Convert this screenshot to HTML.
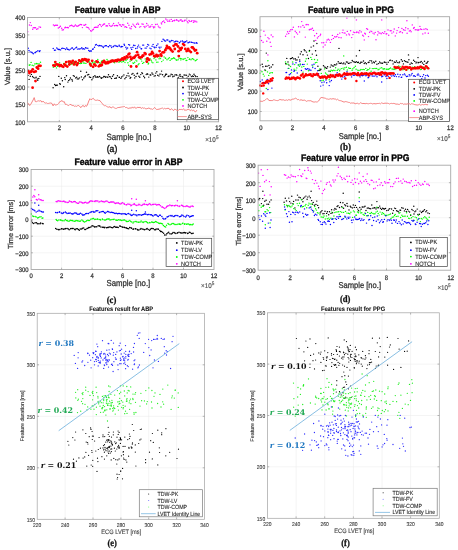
<!DOCTYPE html>
<html><head><meta charset="utf-8"><title>Feature value figure</title>
<style>html,body{margin:0;padding:0;background:#fff;}svg{display:block;filter:blur(0.3px);}text{text-rendering:geometricPrecision;}</style>
</head><body>
<svg width="458" height="550" viewBox="0 0 458 550">
<rect width="458" height="550" fill="#fff"/>
<line x1="59.3" y1="17.5" x2="59.3" y2="121.8" stroke="#ebebeb" stroke-width="0.55"/>
<line x1="91.2" y1="17.5" x2="91.2" y2="121.8" stroke="#ebebeb" stroke-width="0.55"/>
<line x1="123" y1="17.5" x2="123" y2="121.8" stroke="#ebebeb" stroke-width="0.55"/>
<line x1="154.9" y1="17.5" x2="154.9" y2="121.8" stroke="#ebebeb" stroke-width="0.55"/>
<line x1="186.8" y1="17.5" x2="186.8" y2="121.8" stroke="#ebebeb" stroke-width="0.55"/>
<line x1="291.6" y1="16.7" x2="291.6" y2="120.8" stroke="#ebebeb" stroke-width="0.55"/>
<line x1="323.2" y1="16.7" x2="323.2" y2="120.8" stroke="#ebebeb" stroke-width="0.55"/>
<line x1="354.8" y1="16.7" x2="354.8" y2="120.8" stroke="#ebebeb" stroke-width="0.55"/>
<line x1="386.4" y1="16.7" x2="386.4" y2="120.8" stroke="#ebebeb" stroke-width="0.55"/>
<line x1="418" y1="16.7" x2="418" y2="120.8" stroke="#ebebeb" stroke-width="0.55"/>
<line x1="61.6" y1="169.5" x2="61.6" y2="269.5" stroke="#ebebeb" stroke-width="0.55"/>
<line x1="92.1" y1="169.5" x2="92.1" y2="269.5" stroke="#ebebeb" stroke-width="0.55"/>
<line x1="122.6" y1="169.5" x2="122.6" y2="269.5" stroke="#ebebeb" stroke-width="0.55"/>
<line x1="153" y1="169.5" x2="153" y2="269.5" stroke="#ebebeb" stroke-width="0.55"/>
<line x1="183.5" y1="169.5" x2="183.5" y2="269.5" stroke="#ebebeb" stroke-width="0.55"/>
<line x1="290.2" y1="165.2" x2="290.2" y2="270.2" stroke="#ebebeb" stroke-width="0.55"/>
<line x1="322.3" y1="165.2" x2="322.3" y2="270.2" stroke="#ebebeb" stroke-width="0.55"/>
<line x1="354.4" y1="165.2" x2="354.4" y2="270.2" stroke="#ebebeb" stroke-width="0.55"/>
<line x1="386.5" y1="165.2" x2="386.5" y2="270.2" stroke="#ebebeb" stroke-width="0.55"/>
<line x1="418.6" y1="165.2" x2="418.6" y2="270.2" stroke="#ebebeb" stroke-width="0.55"/>
<line x1="27.5" y1="104.4" x2="218.6" y2="104.4" stroke="#ebebeb" stroke-width="0.55"/>
<line x1="27.5" y1="87" x2="218.6" y2="87" stroke="#ebebeb" stroke-width="0.55"/>
<line x1="27.5" y1="69.7" x2="218.6" y2="69.7" stroke="#ebebeb" stroke-width="0.55"/>
<line x1="27.5" y1="52.3" x2="218.6" y2="52.3" stroke="#ebebeb" stroke-width="0.55"/>
<line x1="27.5" y1="34.9" x2="218.6" y2="34.9" stroke="#ebebeb" stroke-width="0.55"/>
<line x1="260" y1="111.5" x2="449.6" y2="111.5" stroke="#ebebeb" stroke-width="0.55"/>
<line x1="260" y1="91.2" x2="449.6" y2="91.2" stroke="#ebebeb" stroke-width="0.55"/>
<line x1="260" y1="70.8" x2="449.6" y2="70.8" stroke="#ebebeb" stroke-width="0.55"/>
<line x1="260" y1="50.5" x2="449.6" y2="50.5" stroke="#ebebeb" stroke-width="0.55"/>
<line x1="260" y1="30.1" x2="449.6" y2="30.1" stroke="#ebebeb" stroke-width="0.55"/>
<line x1="31.1" y1="252.8" x2="214" y2="252.8" stroke="#ebebeb" stroke-width="0.55"/>
<line x1="31.1" y1="236.2" x2="214" y2="236.2" stroke="#ebebeb" stroke-width="0.55"/>
<line x1="31.1" y1="219.5" x2="214" y2="219.5" stroke="#ebebeb" stroke-width="0.55"/>
<line x1="31.1" y1="202.8" x2="214" y2="202.8" stroke="#ebebeb" stroke-width="0.55"/>
<line x1="31.1" y1="186.2" x2="214" y2="186.2" stroke="#ebebeb" stroke-width="0.55"/>
<line x1="258.1" y1="252.7" x2="450.7" y2="252.7" stroke="#ebebeb" stroke-width="0.55"/>
<line x1="258.1" y1="235.2" x2="450.7" y2="235.2" stroke="#ebebeb" stroke-width="0.55"/>
<line x1="258.1" y1="217.7" x2="450.7" y2="217.7" stroke="#ebebeb" stroke-width="0.55"/>
<line x1="258.1" y1="200.2" x2="450.7" y2="200.2" stroke="#ebebeb" stroke-width="0.55"/>
<line x1="258.1" y1="182.7" x2="450.7" y2="182.7" stroke="#ebebeb" stroke-width="0.55"/>
<line x1="65.1" y1="313.3" x2="65.1" y2="519.3" stroke="#ebebeb" stroke-width="0.55"/>
<line x1="93" y1="313.3" x2="93" y2="519.3" stroke="#ebebeb" stroke-width="0.55"/>
<line x1="120.9" y1="313.3" x2="120.9" y2="519.3" stroke="#ebebeb" stroke-width="0.55"/>
<line x1="148.7" y1="313.3" x2="148.7" y2="519.3" stroke="#ebebeb" stroke-width="0.55"/>
<line x1="176.6" y1="313.3" x2="176.6" y2="519.3" stroke="#ebebeb" stroke-width="0.55"/>
<line x1="37.2" y1="467.8" x2="204.5" y2="467.8" stroke="#ebebeb" stroke-width="0.55"/>
<line x1="37.2" y1="416.3" x2="204.5" y2="416.3" stroke="#ebebeb" stroke-width="0.55"/>
<line x1="37.2" y1="364.8" x2="204.5" y2="364.8" stroke="#ebebeb" stroke-width="0.55"/>
<line x1="296.1" y1="312.8" x2="296.1" y2="518.2" stroke="#ebebeb" stroke-width="0.55"/>
<line x1="324.7" y1="312.8" x2="324.7" y2="518.2" stroke="#ebebeb" stroke-width="0.55"/>
<line x1="353.4" y1="312.8" x2="353.4" y2="518.2" stroke="#ebebeb" stroke-width="0.55"/>
<line x1="382" y1="312.8" x2="382" y2="518.2" stroke="#ebebeb" stroke-width="0.55"/>
<line x1="410.6" y1="312.8" x2="410.6" y2="518.2" stroke="#ebebeb" stroke-width="0.55"/>
<line x1="267.4" y1="466.8" x2="439.3" y2="466.8" stroke="#ebebeb" stroke-width="0.55"/>
<line x1="267.4" y1="415.5" x2="439.3" y2="415.5" stroke="#ebebeb" stroke-width="0.55"/>
<line x1="267.4" y1="364.1" x2="439.3" y2="364.1" stroke="#ebebeb" stroke-width="0.55"/>
<g fill="#000000"><circle cx="28" cy="75.4" r="0.72"/><circle cx="29.1" cy="79.4" r="0.72"/><circle cx="30.3" cy="76.3" r="0.72"/><circle cx="31.4" cy="74.4" r="0.72"/><circle cx="32.6" cy="76.4" r="0.72"/><circle cx="33.3" cy="77.6" r="0.72"/><circle cx="34.9" cy="78" r="0.72"/><circle cx="36.1" cy="77.3" r="0.72"/><circle cx="37.2" cy="79" r="0.72"/><circle cx="37.8" cy="80.2" r="0.72"/><circle cx="38.8" cy="78.5" r="0.72"/><circle cx="40" cy="76.4" r="0.72"/><circle cx="53.1" cy="87.7" r="0.72"/><circle cx="54.7" cy="84.4" r="0.72"/><circle cx="55.5" cy="85.5" r="0.72"/><circle cx="56.6" cy="85.3" r="0.72"/><circle cx="57.4" cy="85.1" r="0.72"/><circle cx="58.8" cy="76.4" r="0.72"/><circle cx="59.7" cy="83.6" r="0.72"/><circle cx="60.3" cy="84.2" r="0.72"/><circle cx="61.3" cy="78.2" r="0.72"/><circle cx="62.4" cy="80.8" r="0.72"/><circle cx="63.7" cy="86.8" r="0.72"/><circle cx="64.7" cy="77.6" r="0.72"/><circle cx="65.2" cy="79.5" r="0.72"/><circle cx="66.5" cy="75.7" r="0.72"/><circle cx="67.9" cy="82.1" r="0.72"/><circle cx="68.6" cy="80.6" r="0.72"/><circle cx="69.7" cy="79.8" r="0.72"/><circle cx="70.4" cy="78" r="0.72"/><circle cx="71.9" cy="79.5" r="0.72"/><circle cx="72.4" cy="81" r="0.72"/><circle cx="73.3" cy="75.6" r="0.72"/><circle cx="74.3" cy="76.2" r="0.72"/><circle cx="75.6" cy="77.9" r="0.72"/><circle cx="76.7" cy="77.2" r="0.72"/><circle cx="77.3" cy="78.9" r="0.72"/><circle cx="78.5" cy="78.9" r="0.72"/><circle cx="79.4" cy="77.9" r="0.72"/><circle cx="80.8" cy="71.3" r="0.72"/><circle cx="81.4" cy="76.9" r="0.72"/><circle cx="82.5" cy="79.8" r="0.72"/><circle cx="83.8" cy="78" r="0.72"/><circle cx="84.9" cy="76.7" r="0.72"/><circle cx="85.4" cy="76" r="0.72"/><circle cx="86.5" cy="72.2" r="0.72"/><circle cx="87.5" cy="74.9" r="0.72"/><circle cx="88.7" cy="74.5" r="0.72"/><circle cx="89.4" cy="77" r="0.72"/><circle cx="90.6" cy="77.4" r="0.72"/><circle cx="91.9" cy="79.7" r="0.72"/><circle cx="92.9" cy="78.1" r="0.72"/><circle cx="93.4" cy="76.7" r="0.72"/><circle cx="94.9" cy="75.7" r="0.72"/><circle cx="95.5" cy="77" r="0.72"/><circle cx="97" cy="77.3" r="0.72"/><circle cx="97.4" cy="76.7" r="0.72"/><circle cx="98.7" cy="77.1" r="0.72"/><circle cx="99.6" cy="76.4" r="0.72"/><circle cx="101" cy="77.8" r="0.72"/><circle cx="101.5" cy="78.3" r="0.72"/><circle cx="102.9" cy="77.6" r="0.72"/><circle cx="103.8" cy="76.5" r="0.72"/><circle cx="104.8" cy="76.4" r="0.72"/><circle cx="105.4" cy="77.3" r="0.72"/><circle cx="106.9" cy="76.9" r="0.72"/><circle cx="107.8" cy="77.2" r="0.72"/><circle cx="108.5" cy="74.8" r="0.72"/><circle cx="109.4" cy="76.6" r="0.72"/><circle cx="110.4" cy="76.9" r="0.72"/><circle cx="111.5" cy="78.5" r="0.72"/><circle cx="112.5" cy="76.3" r="0.72"/><circle cx="113.6" cy="74.7" r="0.72"/><circle cx="114.8" cy="78.4" r="0.72"/><circle cx="115.9" cy="78.3" r="0.72"/><circle cx="116.4" cy="77.9" r="0.72"/><circle cx="117.4" cy="75.8" r="0.72"/><circle cx="119.1" cy="77.1" r="0.72"/><circle cx="119.4" cy="77.4" r="0.72"/><circle cx="120.9" cy="78.4" r="0.72"/><circle cx="121.6" cy="77" r="0.72"/><circle cx="122.8" cy="76.1" r="0.72"/><circle cx="123.9" cy="74.9" r="0.72"/><circle cx="124.9" cy="78.8" r="0.72"/><circle cx="126" cy="77.4" r="0.72"/><circle cx="126.9" cy="75.8" r="0.72"/><circle cx="128.1" cy="73.3" r="0.72"/><circle cx="129" cy="76" r="0.72"/><circle cx="130.1" cy="78.3" r="0.72"/><circle cx="130.7" cy="77.4" r="0.72"/><circle cx="131.9" cy="74.3" r="0.72"/><circle cx="132.9" cy="73.4" r="0.72"/><circle cx="134.2" cy="75.3" r="0.72"/><circle cx="134.7" cy="77.9" r="0.72"/><circle cx="136" cy="76.5" r="0.72"/><circle cx="137.1" cy="73.7" r="0.72"/><circle cx="137.5" cy="73.2" r="0.72"/><circle cx="138.9" cy="76.2" r="0.72"/><circle cx="139.8" cy="77.2" r="0.72"/><circle cx="140.8" cy="74.6" r="0.72"/><circle cx="141.9" cy="72.8" r="0.72"/><circle cx="142.5" cy="73.6" r="0.72"/><circle cx="143.7" cy="76.3" r="0.72"/><circle cx="144.6" cy="77.7" r="0.72"/><circle cx="146.2" cy="74.6" r="0.72"/><circle cx="147.1" cy="73.8" r="0.72"/><circle cx="147.8" cy="74.3" r="0.72"/><circle cx="148.8" cy="77.1" r="0.72"/><circle cx="150.1" cy="74.9" r="0.72"/><circle cx="150.8" cy="75" r="0.72"/><circle cx="152" cy="73" r="0.72"/><circle cx="152.9" cy="74.3" r="0.72"/><circle cx="154.1" cy="76.1" r="0.72"/><circle cx="155.2" cy="75.8" r="0.72"/><circle cx="155.8" cy="73.1" r="0.72"/><circle cx="156.8" cy="71.8" r="0.72"/><circle cx="157.7" cy="75.3" r="0.72"/><circle cx="158.9" cy="75.9" r="0.72"/><circle cx="159.8" cy="74.1" r="0.72"/><circle cx="160.9" cy="74.1" r="0.72"/><circle cx="161.6" cy="71.1" r="0.72"/><circle cx="162.6" cy="74.8" r="0.72"/><circle cx="164.1" cy="76.8" r="0.72"/><circle cx="165.2" cy="75.5" r="0.72"/><circle cx="165.6" cy="74.2" r="0.72"/><circle cx="166.6" cy="74.2" r="0.72"/><circle cx="168.2" cy="76.5" r="0.72"/><circle cx="168.7" cy="76.2" r="0.72"/><circle cx="170.1" cy="76" r="0.72"/><circle cx="171.1" cy="74.3" r="0.72"/><circle cx="172.2" cy="74.8" r="0.72"/><circle cx="172.8" cy="76.8" r="0.72"/><circle cx="174" cy="76.2" r="0.72"/><circle cx="175" cy="74.9" r="0.72"/><circle cx="176.2" cy="74.6" r="0.72"/><circle cx="176.9" cy="75.3" r="0.72"/><circle cx="178.2" cy="77.7" r="0.72"/><circle cx="179.2" cy="75.9" r="0.72"/><circle cx="180" cy="74.5" r="0.72"/><circle cx="180.7" cy="76.2" r="0.72"/><circle cx="182.3" cy="76.7" r="0.72"/><circle cx="183" cy="77.1" r="0.72"/><circle cx="184.1" cy="75" r="0.72"/><circle cx="185.1" cy="75.1" r="0.72"/><circle cx="186.3" cy="75.2" r="0.72"/><circle cx="187" cy="78.2" r="0.72"/><circle cx="188.2" cy="76.3" r="0.72"/><circle cx="189.3" cy="74.1" r="0.72"/><circle cx="190.2" cy="74.9" r="0.72"/><circle cx="191.4" cy="76.6" r="0.72"/><circle cx="192.4" cy="76" r="0.72"/><circle cx="193.3" cy="76.4" r="0.72"/><circle cx="194" cy="74.2" r="0.72"/><circle cx="195" cy="75.6" r="0.72"/><circle cx="195.8" cy="76.5" r="0.72"/><circle cx="197.3" cy="76.6" r="0.72"/></g>
<g fill="#00ff00"><circle cx="27.6" cy="64.1" r="0.72"/><circle cx="29.3" cy="65.2" r="0.72"/><circle cx="30" cy="64.8" r="0.72"/><circle cx="31.1" cy="62.4" r="0.72"/><circle cx="32.2" cy="65.3" r="0.72"/><circle cx="33.8" cy="65.7" r="0.72"/><circle cx="34.8" cy="63.9" r="0.72"/><circle cx="36.1" cy="63.7" r="0.72"/><circle cx="36.6" cy="63.5" r="0.72"/><circle cx="37.9" cy="63.8" r="0.72"/><circle cx="39.3" cy="63.9" r="0.72"/><circle cx="40.5" cy="62.3" r="0.72"/><circle cx="53.3" cy="67.3" r="0.72"/><circle cx="54.7" cy="64.2" r="0.72"/><circle cx="55.3" cy="64.2" r="0.72"/><circle cx="56.5" cy="67.9" r="0.72"/><circle cx="57.5" cy="66.3" r="0.72"/><circle cx="58.5" cy="64.5" r="0.72"/><circle cx="59.6" cy="62.7" r="0.72"/><circle cx="60.5" cy="64.8" r="0.72"/><circle cx="61.4" cy="65.8" r="0.72"/><circle cx="62.5" cy="66.5" r="0.72"/><circle cx="63.6" cy="63.5" r="0.72"/><circle cx="64.4" cy="63.5" r="0.72"/><circle cx="65.8" cy="64.7" r="0.72"/><circle cx="66.5" cy="65.8" r="0.72"/><circle cx="67.3" cy="66.2" r="0.72"/><circle cx="68.8" cy="62.8" r="0.72"/><circle cx="69.5" cy="63.5" r="0.72"/><circle cx="70.6" cy="64.2" r="0.72"/><circle cx="71.8" cy="64" r="0.72"/><circle cx="72.2" cy="63.5" r="0.72"/><circle cx="73.3" cy="62.7" r="0.72"/><circle cx="74.4" cy="61.9" r="0.72"/><circle cx="75.5" cy="64.2" r="0.72"/><circle cx="76.7" cy="64.3" r="0.72"/><circle cx="77.3" cy="63.8" r="0.72"/><circle cx="78.4" cy="62.2" r="0.72"/><circle cx="79.6" cy="63.4" r="0.72"/><circle cx="80.5" cy="63.6" r="0.72"/><circle cx="81.6" cy="63.4" r="0.72"/><circle cx="82.7" cy="61.8" r="0.72"/><circle cx="83.7" cy="63" r="0.72"/><circle cx="84.7" cy="63.1" r="0.72"/><circle cx="85.9" cy="63.4" r="0.72"/><circle cx="86.8" cy="61.4" r="0.72"/><circle cx="87.9" cy="61.3" r="0.72"/><circle cx="88.9" cy="61.7" r="0.72"/><circle cx="89.4" cy="62.1" r="0.72"/><circle cx="90.4" cy="65.1" r="0.72"/><circle cx="91.4" cy="64" r="0.72"/><circle cx="92.4" cy="62.8" r="0.72"/><circle cx="93.9" cy="62.9" r="0.72"/><circle cx="94.4" cy="61.9" r="0.72"/><circle cx="95.6" cy="63" r="0.72"/><circle cx="96.4" cy="62.1" r="0.72"/><circle cx="97.8" cy="59.5" r="0.72"/><circle cx="98.4" cy="62.1" r="0.72"/><circle cx="99.7" cy="62.7" r="0.72"/><circle cx="100.8" cy="63.2" r="0.72"/><circle cx="101.5" cy="61.3" r="0.72"/><circle cx="102.4" cy="60.6" r="0.72"/><circle cx="103.7" cy="62.6" r="0.72"/><circle cx="104.4" cy="62.7" r="0.72"/><circle cx="105.5" cy="62.1" r="0.72"/><circle cx="107" cy="59.5" r="0.72"/><circle cx="108" cy="60.9" r="0.72"/><circle cx="109" cy="62.2" r="0.72"/><circle cx="109.7" cy="62.6" r="0.72"/><circle cx="110.7" cy="62.3" r="0.72"/><circle cx="111.7" cy="61.4" r="0.72"/><circle cx="112.4" cy="60.3" r="0.72"/><circle cx="113.9" cy="62.1" r="0.72"/><circle cx="114.7" cy="62.8" r="0.72"/><circle cx="115.9" cy="61.4" r="0.72"/><circle cx="116.5" cy="60.2" r="0.72"/><circle cx="117.8" cy="59.8" r="0.72"/><circle cx="119" cy="62.3" r="0.72"/><circle cx="119.9" cy="61.4" r="0.72"/><circle cx="120.7" cy="61.6" r="0.72"/><circle cx="121.8" cy="62.1" r="0.72"/><circle cx="123" cy="61.6" r="0.72"/><circle cx="123.6" cy="61.4" r="0.72"/><circle cx="125" cy="62.6" r="0.72"/><circle cx="126" cy="60.5" r="0.72"/><circle cx="127.1" cy="59.4" r="0.72"/><circle cx="127.9" cy="62.8" r="0.72"/><circle cx="128.7" cy="65.3" r="0.72"/><circle cx="130" cy="61.3" r="0.72"/><circle cx="130.8" cy="59.5" r="0.72"/><circle cx="131.5" cy="60.3" r="0.72"/><circle cx="132.9" cy="62.9" r="0.72"/><circle cx="133.6" cy="63.4" r="0.72"/><circle cx="134.7" cy="62.2" r="0.72"/><circle cx="135.9" cy="60.1" r="0.72"/><circle cx="136.8" cy="61" r="0.72"/><circle cx="138.2" cy="64.7" r="0.72"/><circle cx="139" cy="63.8" r="0.72"/><circle cx="140.2" cy="58.8" r="0.72"/><circle cx="141" cy="59.2" r="0.72"/><circle cx="141.7" cy="61.1" r="0.72"/><circle cx="142.6" cy="63.4" r="0.72"/><circle cx="143.8" cy="62.5" r="0.72"/><circle cx="145.2" cy="58.9" r="0.72"/><circle cx="145.9" cy="61" r="0.72"/><circle cx="146.9" cy="62.2" r="0.72"/><circle cx="148.2" cy="64" r="0.72"/><circle cx="148.6" cy="63.3" r="0.72"/><circle cx="150" cy="58.7" r="0.72"/><circle cx="151.2" cy="60.3" r="0.72"/><circle cx="151.7" cy="61.9" r="0.72"/><circle cx="152.9" cy="62.8" r="0.72"/><circle cx="154" cy="58.6" r="0.72"/><circle cx="154.9" cy="57.5" r="0.72"/><circle cx="155.9" cy="59.9" r="0.72"/><circle cx="156.8" cy="62.2" r="0.72"/><circle cx="158" cy="62.1" r="0.72"/><circle cx="159.1" cy="58.7" r="0.72"/><circle cx="159.8" cy="56.9" r="0.72"/><circle cx="160.6" cy="58.6" r="0.72"/><circle cx="161.7" cy="61.6" r="0.72"/><circle cx="163.2" cy="60.1" r="0.72"/><circle cx="164.1" cy="57" r="0.72"/><circle cx="165.3" cy="58.1" r="0.72"/><circle cx="165.7" cy="58.3" r="0.72"/><circle cx="167" cy="59.8" r="0.72"/><circle cx="168.3" cy="58.8" r="0.72"/><circle cx="169.3" cy="57.7" r="0.72"/><circle cx="170.1" cy="60.4" r="0.72"/><circle cx="171.2" cy="59" r="0.72"/><circle cx="172.1" cy="58.8" r="0.72"/><circle cx="173" cy="58.4" r="0.72"/><circle cx="173.8" cy="57.8" r="0.72"/><circle cx="174.7" cy="58.5" r="0.72"/><circle cx="176" cy="59.8" r="0.72"/><circle cx="176.8" cy="60.2" r="0.72"/><circle cx="178.1" cy="59.8" r="0.72"/><circle cx="179" cy="58.1" r="0.72"/><circle cx="180.4" cy="58.4" r="0.72"/><circle cx="180.8" cy="59.9" r="0.72"/><circle cx="181.8" cy="58.8" r="0.72"/><circle cx="183.1" cy="59.5" r="0.72"/><circle cx="183.9" cy="58.9" r="0.72"/><circle cx="185.1" cy="58.5" r="0.72"/><circle cx="186.1" cy="60.5" r="0.72"/><circle cx="186.8" cy="60.4" r="0.72"/><circle cx="187.9" cy="57.6" r="0.72"/><circle cx="189.3" cy="59.4" r="0.72"/><circle cx="189.7" cy="59" r="0.72"/><circle cx="191" cy="59.8" r="0.72"/><circle cx="192.2" cy="58.7" r="0.72"/><circle cx="192.8" cy="58.6" r="0.72"/><circle cx="193.8" cy="59.5" r="0.72"/><circle cx="195.2" cy="60.7" r="0.72"/><circle cx="196" cy="60.4" r="0.72"/><circle cx="197" cy="59.4" r="0.72"/></g>
<g fill="#ff0000"><circle cx="28.2" cy="71.1" r="1.4"/><circle cx="29.4" cy="73.1" r="1.4"/><circle cx="30.5" cy="71.6" r="1.4"/><circle cx="31.6" cy="71.5" r="1.4"/><circle cx="32.7" cy="69.3" r="1.4"/><circle cx="34.2" cy="71.9" r="1.4"/><circle cx="35.7" cy="71.4" r="1.4"/><circle cx="36.8" cy="67.5" r="1.4"/><circle cx="38.1" cy="68.7" r="1.4"/><circle cx="38.7" cy="66" r="1.4"/><circle cx="40.5" cy="65.8" r="1.4"/><circle cx="53.4" cy="65.4" r="1.4"/><circle cx="54.7" cy="65.9" r="1.4"/><circle cx="55.3" cy="62.1" r="1.4"/><circle cx="56.5" cy="64.4" r="1.4"/><circle cx="57.6" cy="64.6" r="1.4"/><circle cx="59" cy="65" r="1.4"/><circle cx="59.6" cy="66" r="1.4"/><circle cx="60.9" cy="65.1" r="1.4"/><circle cx="61.7" cy="66.1" r="1.4"/><circle cx="63.3" cy="66.8" r="1.4"/><circle cx="64.5" cy="64.5" r="1.4"/><circle cx="65.6" cy="65.6" r="1.4"/><circle cx="66.2" cy="62.1" r="1.4"/><circle cx="67.3" cy="66.6" r="1.4"/><circle cx="68.8" cy="61.6" r="1.4"/><circle cx="69.3" cy="64.5" r="1.4"/><circle cx="70.5" cy="61.7" r="1.4"/><circle cx="71.6" cy="62.8" r="1.4"/><circle cx="72.8" cy="60.8" r="1.4"/><circle cx="74" cy="64.4" r="1.4"/><circle cx="74.9" cy="62.6" r="1.4"/><circle cx="75.7" cy="61.8" r="1.4"/><circle cx="76.9" cy="65.1" r="1.4"/><circle cx="77.8" cy="63.4" r="1.4"/><circle cx="79.2" cy="60.4" r="1.4"/><circle cx="80.6" cy="61.1" r="1.4"/><circle cx="81" cy="61.6" r="1.4"/><circle cx="82.4" cy="59.3" r="1.4"/><circle cx="83.2" cy="60.2" r="1.4"/><circle cx="84.7" cy="59.1" r="1.4"/><circle cx="85.7" cy="60" r="1.4"/><circle cx="86.4" cy="59.6" r="1.4"/><circle cx="87.6" cy="61.6" r="1.4"/><circle cx="88.6" cy="59.8" r="1.4"/><circle cx="90.1" cy="64" r="1.4"/><circle cx="90.9" cy="65.6" r="1.4"/><circle cx="92.2" cy="60.8" r="1.4"/><circle cx="93.1" cy="66.8" r="1.4"/><circle cx="94.3" cy="64.4" r="1.4"/><circle cx="95.6" cy="65.6" r="1.4"/><circle cx="96.5" cy="61.3" r="1.4"/><circle cx="97.7" cy="62" r="1.4"/><circle cx="98.8" cy="66.3" r="1.4"/><circle cx="99.9" cy="65.2" r="1.4"/><circle cx="100.8" cy="65.6" r="1.4"/><circle cx="101.9" cy="65" r="1.4"/><circle cx="102.5" cy="62.4" r="1.4"/><circle cx="104" cy="60.8" r="1.4"/><circle cx="104.7" cy="62.2" r="1.4"/><circle cx="105.8" cy="63.4" r="1.4"/><circle cx="107.4" cy="62.2" r="1.4"/><circle cx="107.8" cy="63.2" r="1.4"/><circle cx="109.3" cy="62" r="1.4"/><circle cx="110.5" cy="61.8" r="1.4"/><circle cx="111.3" cy="61" r="1.4"/><circle cx="112.5" cy="60.6" r="1.4"/><circle cx="113.2" cy="61.2" r="1.4"/><circle cx="114.3" cy="61" r="1.4"/><circle cx="115.8" cy="60.5" r="1.4"/><circle cx="116.8" cy="61.2" r="1.4"/><circle cx="117.6" cy="59.8" r="1.4"/><circle cx="118.6" cy="59.9" r="1.4"/><circle cx="120" cy="60.2" r="1.4"/><circle cx="121.2" cy="59.6" r="1.4"/><circle cx="122.4" cy="58.3" r="1.4"/><circle cx="123.4" cy="59.7" r="1.4"/><circle cx="124.5" cy="57.5" r="1.4"/><circle cx="125.3" cy="58.6" r="1.4"/><circle cx="126.7" cy="56.4" r="1.4"/><circle cx="127.6" cy="57.4" r="1.4"/><circle cx="128.5" cy="54.4" r="1.4"/><circle cx="129.4" cy="53.6" r="1.4"/><circle cx="130.4" cy="57" r="1.4"/><circle cx="131.3" cy="59.2" r="1.4"/><circle cx="133" cy="57.8" r="1.4"/><circle cx="134" cy="57.9" r="1.4"/><circle cx="134.7" cy="57" r="1.4"/><circle cx="135.9" cy="55.6" r="1.4"/><circle cx="137.1" cy="52.2" r="1.4"/><circle cx="138.2" cy="55" r="1.4"/><circle cx="139.2" cy="57.3" r="1.4"/><circle cx="140" cy="57.6" r="1.4"/><circle cx="141.6" cy="57.2" r="1.4"/><circle cx="142.7" cy="55.6" r="1.4"/><circle cx="143.3" cy="55.7" r="1.4"/><circle cx="144.7" cy="53.1" r="1.4"/><circle cx="145.6" cy="54" r="1.4"/><circle cx="147.1" cy="59" r="1.4"/><circle cx="147.6" cy="58.4" r="1.4"/><circle cx="149.1" cy="59.8" r="1.4"/><circle cx="149.6" cy="54.6" r="1.4"/><circle cx="151.2" cy="54" r="1.4"/><circle cx="152.1" cy="52" r="1.4"/><circle cx="152.9" cy="53.3" r="1.4"/><circle cx="154.1" cy="56" r="1.4"/><circle cx="155" cy="56.3" r="1.4"/><circle cx="156.5" cy="54.8" r="1.4"/><circle cx="157.3" cy="56.3" r="1.4"/><circle cx="158.4" cy="55.7" r="1.4"/><circle cx="159.6" cy="51.1" r="1.4"/><circle cx="160.8" cy="54.3" r="1.4"/><circle cx="161.4" cy="55.8" r="1.4"/><circle cx="162.6" cy="52.3" r="1.4"/><circle cx="163.9" cy="52.3" r="1.4"/><circle cx="165.3" cy="50.2" r="1.4"/><circle cx="166.2" cy="48.4" r="1.4"/><circle cx="166.9" cy="45.9" r="1.4"/><circle cx="168.1" cy="48.1" r="1.4"/><circle cx="169.1" cy="47.3" r="1.4"/><circle cx="170.2" cy="48.7" r="1.4"/><circle cx="171.2" cy="50.2" r="1.4"/><circle cx="172.6" cy="51.6" r="1.4"/><circle cx="173.6" cy="45.8" r="1.4"/><circle cx="174.8" cy="49" r="1.4"/><circle cx="175.4" cy="44.3" r="1.4"/><circle cx="176.5" cy="44.5" r="1.4"/><circle cx="178" cy="46.5" r="1.4"/><circle cx="178.6" cy="51.2" r="1.4"/><circle cx="180" cy="48.3" r="1.4"/><circle cx="180.7" cy="49.8" r="1.4"/><circle cx="181.8" cy="48" r="1.4"/><circle cx="183.1" cy="44.1" r="1.4"/><circle cx="184.2" cy="45.1" r="1.4"/><circle cx="185.3" cy="48.9" r="1.4"/><circle cx="186.6" cy="51.1" r="1.4"/><circle cx="187.4" cy="50.6" r="1.4"/><circle cx="188.2" cy="48.9" r="1.4"/><circle cx="189.5" cy="50.9" r="1.4"/><circle cx="190.9" cy="52.1" r="1.4"/><circle cx="191.9" cy="47.3" r="1.4"/><circle cx="192.7" cy="47.4" r="1.4"/><circle cx="193.8" cy="48.8" r="1.4"/><circle cx="194.9" cy="50.5" r="1.4"/><circle cx="196" cy="50.1" r="1.4"/><circle cx="197.2" cy="53.2" r="1.4"/><circle cx="35.5" cy="81.1" r="1.4"/><circle cx="32.6" cy="87.7" r="1.4"/><circle cx="131" cy="66.5" r="1.4"/><circle cx="136.4" cy="66.5" r="1.4"/><circle cx="146.9" cy="61.7" r="1.4"/><circle cx="178.8" cy="56.1" r="1.4"/></g>
<g fill="#0000ff"><circle cx="28.2" cy="48.3" r="0.72"/><circle cx="29" cy="50.5" r="0.72"/><circle cx="30.2" cy="51.9" r="0.72"/><circle cx="31.7" cy="52.2" r="0.72"/><circle cx="32.4" cy="52.9" r="0.72"/><circle cx="33.3" cy="53.8" r="0.72"/><circle cx="35" cy="52.8" r="0.72"/><circle cx="35.5" cy="52.3" r="0.72"/><circle cx="36.7" cy="51.6" r="0.72"/><circle cx="37.9" cy="50.8" r="0.72"/><circle cx="39.4" cy="51.5" r="0.72"/><circle cx="40" cy="50.8" r="0.72"/><circle cx="53.2" cy="48.5" r="0.72"/><circle cx="54.5" cy="50.2" r="0.72"/><circle cx="55.5" cy="50.1" r="0.72"/><circle cx="56.8" cy="48" r="0.72"/><circle cx="57.7" cy="49" r="0.72"/><circle cx="58.7" cy="49.5" r="0.72"/><circle cx="59.3" cy="49.5" r="0.72"/><circle cx="60.5" cy="49.9" r="0.72"/><circle cx="61.7" cy="48.6" r="0.72"/><circle cx="62.2" cy="48.1" r="0.72"/><circle cx="63.2" cy="48.4" r="0.72"/><circle cx="64.8" cy="48.6" r="0.72"/><circle cx="65.6" cy="49.6" r="0.72"/><circle cx="66.7" cy="48" r="0.72"/><circle cx="67.4" cy="49.3" r="0.72"/><circle cx="68.2" cy="49.5" r="0.72"/><circle cx="69.3" cy="49.9" r="0.72"/><circle cx="70.5" cy="49.1" r="0.72"/><circle cx="71.6" cy="48.1" r="0.72"/><circle cx="72.4" cy="48" r="0.72"/><circle cx="73.6" cy="49.6" r="0.72"/><circle cx="74.2" cy="48.9" r="0.72"/><circle cx="75.7" cy="47.9" r="0.72"/><circle cx="76.6" cy="47.2" r="0.72"/><circle cx="77.5" cy="49.1" r="0.72"/><circle cx="78.7" cy="48.9" r="0.72"/><circle cx="79.8" cy="49" r="0.72"/><circle cx="80.9" cy="48.6" r="0.72"/><circle cx="81.8" cy="47.8" r="0.72"/><circle cx="82.5" cy="48.9" r="0.72"/><circle cx="83.6" cy="48.7" r="0.72"/><circle cx="84.6" cy="49.1" r="0.72"/><circle cx="85.6" cy="47.7" r="0.72"/><circle cx="86.3" cy="48.1" r="0.72"/><circle cx="87.8" cy="48.2" r="0.72"/><circle cx="88.7" cy="50.5" r="0.72"/><circle cx="89.8" cy="51.3" r="0.72"/><circle cx="90.3" cy="50.9" r="0.72"/><circle cx="91.4" cy="51" r="0.72"/><circle cx="92.6" cy="49.3" r="0.72"/><circle cx="93.3" cy="48.9" r="0.72"/><circle cx="94.5" cy="47.2" r="0.72"/><circle cx="95.5" cy="45" r="0.72"/><circle cx="96.3" cy="44.5" r="0.72"/><circle cx="97.9" cy="45.4" r="0.72"/><circle cx="98.9" cy="46.1" r="0.72"/><circle cx="99.6" cy="45.4" r="0.72"/><circle cx="100.8" cy="45.8" r="0.72"/><circle cx="101.7" cy="45.9" r="0.72"/><circle cx="102.9" cy="46.8" r="0.72"/><circle cx="103.4" cy="47.6" r="0.72"/><circle cx="104.3" cy="46.1" r="0.72"/><circle cx="105.5" cy="45.7" r="0.72"/><circle cx="106.4" cy="45.7" r="0.72"/><circle cx="108" cy="46.6" r="0.72"/><circle cx="108.6" cy="46.8" r="0.72"/><circle cx="109.8" cy="45.5" r="0.72"/><circle cx="111" cy="46" r="0.72"/><circle cx="111.6" cy="47.6" r="0.72"/><circle cx="113.1" cy="46.7" r="0.72"/><circle cx="113.7" cy="46.2" r="0.72"/><circle cx="115" cy="45.4" r="0.72"/><circle cx="116" cy="46.1" r="0.72"/><circle cx="116.6" cy="46.1" r="0.72"/><circle cx="117.7" cy="46.5" r="0.72"/><circle cx="119.1" cy="45.2" r="0.72"/><circle cx="119.5" cy="46.1" r="0.72"/><circle cx="121" cy="47" r="0.72"/><circle cx="121.4" cy="46.5" r="0.72"/><circle cx="122.6" cy="46.6" r="0.72"/><circle cx="124.1" cy="44.3" r="0.72"/><circle cx="124.5" cy="45.2" r="0.72"/><circle cx="125.9" cy="47.2" r="0.72"/><circle cx="126.5" cy="48.9" r="0.72"/><circle cx="127.6" cy="48" r="0.72"/><circle cx="128.6" cy="44.6" r="0.72"/><circle cx="129.6" cy="45" r="0.72"/><circle cx="131" cy="47.8" r="0.72"/><circle cx="131.7" cy="49.4" r="0.72"/><circle cx="132.9" cy="47.3" r="0.72"/><circle cx="133.6" cy="45.3" r="0.72"/><circle cx="134.9" cy="45.5" r="0.72"/><circle cx="135.7" cy="48.5" r="0.72"/><circle cx="137.2" cy="48.1" r="0.72"/><circle cx="137.8" cy="46.8" r="0.72"/><circle cx="138.5" cy="45.1" r="0.72"/><circle cx="139.9" cy="47.1" r="0.72"/><circle cx="141.1" cy="48.7" r="0.72"/><circle cx="141.6" cy="48.8" r="0.72"/><circle cx="142.7" cy="45.1" r="0.72"/><circle cx="143.7" cy="45.1" r="0.72"/><circle cx="145.1" cy="48.1" r="0.72"/><circle cx="146.2" cy="48.1" r="0.72"/><circle cx="147.1" cy="46.6" r="0.72"/><circle cx="147.8" cy="44.5" r="0.72"/><circle cx="148.7" cy="45.1" r="0.72"/><circle cx="149.9" cy="48.1" r="0.72"/><circle cx="151" cy="48.7" r="0.72"/><circle cx="152.1" cy="46.3" r="0.72"/><circle cx="153.1" cy="44.4" r="0.72"/><circle cx="154" cy="47" r="0.72"/><circle cx="154.7" cy="47.7" r="0.72"/><circle cx="156.1" cy="47.3" r="0.72"/><circle cx="156.7" cy="45.4" r="0.72"/><circle cx="157.9" cy="44" r="0.72"/><circle cx="159.1" cy="47.2" r="0.72"/><circle cx="159.8" cy="48.1" r="0.72"/><circle cx="161" cy="47.1" r="0.72"/><circle cx="161.9" cy="41.4" r="0.72"/><circle cx="163.1" cy="39.2" r="0.72"/><circle cx="164" cy="39.9" r="0.72"/><circle cx="164.7" cy="40.8" r="0.72"/><circle cx="165.6" cy="41.1" r="0.72"/><circle cx="166.9" cy="40" r="0.72"/><circle cx="167.8" cy="40" r="0.72"/><circle cx="169.3" cy="41.2" r="0.72"/><circle cx="170" cy="42" r="0.72"/><circle cx="170.8" cy="41.1" r="0.72"/><circle cx="171.7" cy="40.5" r="0.72"/><circle cx="172.9" cy="40.6" r="0.72"/><circle cx="174.1" cy="41.9" r="0.72"/><circle cx="175.1" cy="41.7" r="0.72"/><circle cx="175.7" cy="41.2" r="0.72"/><circle cx="176.8" cy="41.1" r="0.72"/><circle cx="177.8" cy="41.5" r="0.72"/><circle cx="179.2" cy="42.9" r="0.72"/><circle cx="179.7" cy="42.4" r="0.72"/><circle cx="180.8" cy="41.3" r="0.72"/><circle cx="182.4" cy="41" r="0.72"/><circle cx="183.2" cy="42" r="0.72"/><circle cx="184.4" cy="42.2" r="0.72"/><circle cx="185.2" cy="41.8" r="0.72"/><circle cx="185.7" cy="41.8" r="0.72"/><circle cx="186.8" cy="40.9" r="0.72"/><circle cx="188" cy="42.7" r="0.72"/><circle cx="188.8" cy="42.5" r="0.72"/><circle cx="189.7" cy="42" r="0.72"/><circle cx="191.2" cy="42.2" r="0.72"/><circle cx="191.9" cy="42.4" r="0.72"/><circle cx="192.9" cy="42.6" r="0.72"/><circle cx="194.1" cy="43" r="0.72"/><circle cx="195" cy="43.1" r="0.72"/><circle cx="196.4" cy="42.8" r="0.72"/><circle cx="197" cy="43.2" r="0.72"/></g>
<g fill="#ff00ff"><circle cx="27.7" cy="31.7" r="0.72"/><circle cx="29.4" cy="25" r="0.72"/><circle cx="30.3" cy="22.6" r="0.72"/><circle cx="31.2" cy="25.5" r="0.72"/><circle cx="32.7" cy="29.2" r="0.72"/><circle cx="33.3" cy="27.8" r="0.72"/><circle cx="34.6" cy="27.8" r="0.72"/><circle cx="35.5" cy="27.8" r="0.72"/><circle cx="36.7" cy="29.2" r="0.72"/><circle cx="37.9" cy="28.7" r="0.72"/><circle cx="39.1" cy="26.9" r="0.72"/><circle cx="40.5" cy="27.3" r="0.72"/><circle cx="53.4" cy="24.9" r="0.72"/><circle cx="54.4" cy="25.8" r="0.72"/><circle cx="55.3" cy="25.2" r="0.72"/><circle cx="56.3" cy="25.2" r="0.72"/><circle cx="57.4" cy="25.3" r="0.72"/><circle cx="58.3" cy="28" r="0.72"/><circle cx="59.4" cy="27.2" r="0.72"/><circle cx="60.4" cy="26.3" r="0.72"/><circle cx="61.7" cy="28.2" r="0.72"/><circle cx="62.2" cy="30" r="0.72"/><circle cx="63.4" cy="29.7" r="0.72"/><circle cx="64.8" cy="27.9" r="0.72"/><circle cx="65.4" cy="27.2" r="0.72"/><circle cx="66.2" cy="27.6" r="0.72"/><circle cx="67.4" cy="27.5" r="0.72"/><circle cx="68.3" cy="27.7" r="0.72"/><circle cx="69.6" cy="26.1" r="0.72"/><circle cx="70.5" cy="25.6" r="0.72"/><circle cx="71.6" cy="25.3" r="0.72"/><circle cx="72.4" cy="25.9" r="0.72"/><circle cx="73.7" cy="26.6" r="0.72"/><circle cx="74.3" cy="26" r="0.72"/><circle cx="75.4" cy="25" r="0.72"/><circle cx="76.5" cy="26" r="0.72"/><circle cx="77.8" cy="26.3" r="0.72"/><circle cx="78.5" cy="25.6" r="0.72"/><circle cx="79.4" cy="25" r="0.72"/><circle cx="80.7" cy="24.5" r="0.72"/><circle cx="81.6" cy="24.8" r="0.72"/><circle cx="82.4" cy="27.6" r="0.72"/><circle cx="83.7" cy="25.1" r="0.72"/><circle cx="84.7" cy="25.2" r="0.72"/><circle cx="85.7" cy="24.5" r="0.72"/><circle cx="86.4" cy="27.1" r="0.72"/><circle cx="87.7" cy="27.4" r="0.72"/><circle cx="88.5" cy="27.9" r="0.72"/><circle cx="89.3" cy="29.1" r="0.72"/><circle cx="90.6" cy="30.8" r="0.72"/><circle cx="91.5" cy="31.1" r="0.72"/><circle cx="92.6" cy="30" r="0.72"/><circle cx="93.4" cy="29.2" r="0.72"/><circle cx="94.4" cy="27.5" r="0.72"/><circle cx="95.5" cy="27.3" r="0.72"/><circle cx="96.7" cy="27.2" r="0.72"/><circle cx="97.8" cy="27.3" r="0.72"/><circle cx="98.3" cy="25.8" r="0.72"/><circle cx="99.6" cy="24.4" r="0.72"/><circle cx="100.6" cy="24.9" r="0.72"/><circle cx="101.4" cy="26.6" r="0.72"/><circle cx="102.7" cy="25.3" r="0.72"/><circle cx="103.6" cy="24.3" r="0.72"/><circle cx="104.6" cy="24" r="0.72"/><circle cx="106" cy="25.9" r="0.72"/><circle cx="106.8" cy="25.8" r="0.72"/><circle cx="107.5" cy="25.9" r="0.72"/><circle cx="109" cy="23.8" r="0.72"/><circle cx="109.6" cy="25.6" r="0.72"/><circle cx="110.9" cy="26.3" r="0.72"/><circle cx="111.8" cy="26.1" r="0.72"/><circle cx="112.7" cy="25.2" r="0.72"/><circle cx="113.6" cy="23.5" r="0.72"/><circle cx="114.6" cy="25.8" r="0.72"/><circle cx="116" cy="25.5" r="0.72"/><circle cx="116.7" cy="25.5" r="0.72"/><circle cx="117.6" cy="25.8" r="0.72"/><circle cx="118.5" cy="22.9" r="0.72"/><circle cx="119.5" cy="24.8" r="0.72"/><circle cx="120.6" cy="25" r="0.72"/><circle cx="121.4" cy="26.4" r="0.72"/><circle cx="122.6" cy="24.8" r="0.72"/><circle cx="123.8" cy="25" r="0.72"/><circle cx="124.9" cy="27" r="0.72"/><circle cx="125.8" cy="26.6" r="0.72"/><circle cx="126.7" cy="27.4" r="0.72"/><circle cx="127.7" cy="23.3" r="0.72"/><circle cx="128.9" cy="25.2" r="0.72"/><circle cx="129.9" cy="28" r="0.72"/><circle cx="131" cy="28.8" r="0.72"/><circle cx="131.6" cy="26.5" r="0.72"/><circle cx="132.9" cy="24.1" r="0.72"/><circle cx="133.7" cy="25.1" r="0.72"/><circle cx="134.8" cy="26.3" r="0.72"/><circle cx="135.6" cy="27.2" r="0.72"/><circle cx="136.6" cy="24.3" r="0.72"/><circle cx="137.8" cy="23.1" r="0.72"/><circle cx="138.5" cy="24.3" r="0.72"/><circle cx="139.6" cy="27.1" r="0.72"/><circle cx="140.8" cy="26.6" r="0.72"/><circle cx="142" cy="23.9" r="0.72"/><circle cx="143.1" cy="24.3" r="0.72"/><circle cx="144.1" cy="26.5" r="0.72"/><circle cx="144.9" cy="27.6" r="0.72"/><circle cx="146.1" cy="26.2" r="0.72"/><circle cx="146.7" cy="23.5" r="0.72"/><circle cx="148" cy="25.3" r="0.72"/><circle cx="149.1" cy="27" r="0.72"/><circle cx="150.1" cy="27" r="0.72"/><circle cx="150.8" cy="26.3" r="0.72"/><circle cx="152" cy="24.6" r="0.72"/><circle cx="153.1" cy="26.6" r="0.72"/><circle cx="153.6" cy="27.8" r="0.72"/><circle cx="154.7" cy="27" r="0.72"/><circle cx="155.7" cy="24.5" r="0.72"/><circle cx="157.2" cy="24.2" r="0.72"/><circle cx="158.3" cy="26.1" r="0.72"/><circle cx="158.9" cy="27.1" r="0.72"/><circle cx="160" cy="27.7" r="0.72"/><circle cx="161.3" cy="23" r="0.72"/><circle cx="161.6" cy="23.9" r="0.72"/><circle cx="162.6" cy="21.8" r="0.72"/><circle cx="163.8" cy="21" r="0.72"/><circle cx="164.7" cy="22.5" r="0.72"/><circle cx="165.8" cy="19" r="0.72"/><circle cx="167" cy="20" r="0.72"/><circle cx="167.9" cy="21.4" r="0.72"/><circle cx="169.2" cy="20.1" r="0.72"/><circle cx="169.8" cy="21.3" r="0.72"/><circle cx="171.2" cy="19.4" r="0.72"/><circle cx="172.3" cy="21.4" r="0.72"/><circle cx="173" cy="20.6" r="0.72"/><circle cx="174.2" cy="20.8" r="0.72"/><circle cx="174.7" cy="20.2" r="0.72"/><circle cx="176.3" cy="20.1" r="0.72"/><circle cx="176.7" cy="19.7" r="0.72"/><circle cx="177.9" cy="20.6" r="0.72"/><circle cx="178.8" cy="21.2" r="0.72"/><circle cx="180.1" cy="20.3" r="0.72"/><circle cx="181" cy="19.8" r="0.72"/><circle cx="181.9" cy="21" r="0.72"/><circle cx="182.7" cy="21.3" r="0.72"/><circle cx="184.3" cy="20.9" r="0.72"/><circle cx="184.8" cy="20.2" r="0.72"/><circle cx="186" cy="20.1" r="0.72"/><circle cx="187.3" cy="21.6" r="0.72"/><circle cx="188" cy="22.7" r="0.72"/><circle cx="189" cy="20.5" r="0.72"/><circle cx="189.8" cy="21.4" r="0.72"/><circle cx="191.2" cy="21.4" r="0.72"/><circle cx="191.9" cy="20.6" r="0.72"/><circle cx="193.4" cy="22.2" r="0.72"/><circle cx="194" cy="20.7" r="0.72"/><circle cx="194.9" cy="21.7" r="0.72"/><circle cx="195.8" cy="21.1" r="0.72"/><circle cx="196.8" cy="21.9" r="0.72"/></g>
<g fill="#000000"><circle cx="31.7" cy="221" r="0.75"/><circle cx="32.4" cy="222.7" r="0.75"/><circle cx="33.7" cy="223.6" r="0.75"/><circle cx="35.1" cy="222.8" r="0.75"/><circle cx="36.5" cy="222.7" r="0.75"/><circle cx="37.4" cy="223.8" r="0.75"/><circle cx="38.8" cy="223.7" r="0.75"/><circle cx="40.1" cy="223.7" r="0.75"/><circle cx="40.6" cy="222.9" r="0.75"/><circle cx="42.3" cy="223.4" r="0.75"/><circle cx="43.1" cy="223.8" r="0.75"/><circle cx="55.7" cy="228.6" r="0.75"/><circle cx="56.9" cy="229.2" r="0.75"/><circle cx="58.2" cy="229.4" r="0.75"/><circle cx="58.9" cy="229.7" r="0.75"/><circle cx="59.9" cy="229.5" r="0.75"/><circle cx="61.4" cy="228.8" r="0.75"/><circle cx="62" cy="228.7" r="0.75"/><circle cx="63.3" cy="229.3" r="0.75"/><circle cx="64.2" cy="229" r="0.75"/><circle cx="65.3" cy="228.8" r="0.75"/><circle cx="65.9" cy="228.4" r="0.75"/><circle cx="67.1" cy="228.5" r="0.75"/><circle cx="68.3" cy="229.1" r="0.75"/><circle cx="69.2" cy="229.7" r="0.75"/><circle cx="70.6" cy="228.7" r="0.75"/><circle cx="71.1" cy="228.4" r="0.75"/><circle cx="72.5" cy="228.6" r="0.75"/><circle cx="73.1" cy="228.5" r="0.75"/><circle cx="74.7" cy="229.3" r="0.75"/><circle cx="75.2" cy="229.7" r="0.75"/><circle cx="76.2" cy="228.7" r="0.75"/><circle cx="77.3" cy="228.7" r="0.75"/><circle cx="78.4" cy="229.6" r="0.75"/><circle cx="79.3" cy="230.2" r="0.75"/><circle cx="80.3" cy="229" r="0.75"/><circle cx="81.7" cy="228.9" r="0.75"/><circle cx="82.4" cy="228.2" r="0.75"/><circle cx="83.7" cy="228.1" r="0.75"/><circle cx="84.8" cy="229.4" r="0.75"/><circle cx="85.7" cy="229.5" r="0.75"/><circle cx="87" cy="228.5" r="0.75"/><circle cx="87.9" cy="228.2" r="0.75"/><circle cx="88.7" cy="227.5" r="0.75"/><circle cx="89.7" cy="227.6" r="0.75"/><circle cx="90.9" cy="227" r="0.75"/><circle cx="91.9" cy="226" r="0.75"/><circle cx="92.8" cy="225.7" r="0.75"/><circle cx="94" cy="226.6" r="0.75"/><circle cx="94.7" cy="227.1" r="0.75"/><circle cx="95.9" cy="226.7" r="0.75"/><circle cx="96.8" cy="226.7" r="0.75"/><circle cx="98.2" cy="225.8" r="0.75"/><circle cx="99.3" cy="226.1" r="0.75"/><circle cx="99.8" cy="226" r="0.75"/><circle cx="100.9" cy="226.9" r="0.75"/><circle cx="102.4" cy="227.3" r="0.75"/><circle cx="103.4" cy="227.2" r="0.75"/><circle cx="104.4" cy="227.7" r="0.75"/><circle cx="104.9" cy="227.2" r="0.75"/><circle cx="106.5" cy="227.7" r="0.75"/><circle cx="107.5" cy="227.6" r="0.75"/><circle cx="108.2" cy="227.6" r="0.75"/><circle cx="109.1" cy="226.9" r="0.75"/><circle cx="110.2" cy="226.9" r="0.75"/><circle cx="111.4" cy="227.5" r="0.75"/><circle cx="112.6" cy="227.7" r="0.75"/><circle cx="113.6" cy="226.9" r="0.75"/><circle cx="114.7" cy="226.4" r="0.75"/><circle cx="115.7" cy="227.2" r="0.75"/><circle cx="116.7" cy="227.3" r="0.75"/><circle cx="117.2" cy="227.2" r="0.75"/><circle cx="118.2" cy="227.5" r="0.75"/><circle cx="119.8" cy="226.1" r="0.75"/><circle cx="120.3" cy="226.2" r="0.75"/><circle cx="121.9" cy="226.8" r="0.75"/><circle cx="122.7" cy="227.2" r="0.75"/><circle cx="124" cy="227.2" r="0.75"/><circle cx="124.5" cy="227.5" r="0.75"/><circle cx="125.9" cy="227.7" r="0.75"/><circle cx="126.5" cy="227.9" r="0.75"/><circle cx="127.4" cy="228.6" r="0.75"/><circle cx="128.7" cy="228.7" r="0.75"/><circle cx="129.7" cy="227.6" r="0.75"/><circle cx="130.9" cy="227.7" r="0.75"/><circle cx="131.6" cy="228.2" r="0.75"/><circle cx="133" cy="229.2" r="0.75"/><circle cx="133.6" cy="229.1" r="0.75"/><circle cx="135.3" cy="228.8" r="0.75"/><circle cx="135.8" cy="228.7" r="0.75"/><circle cx="137.3" cy="229.4" r="0.75"/><circle cx="137.9" cy="230.1" r="0.75"/><circle cx="138.9" cy="230.1" r="0.75"/><circle cx="140.2" cy="229.2" r="0.75"/><circle cx="141" cy="228.6" r="0.75"/><circle cx="142.1" cy="229.1" r="0.75"/><circle cx="143.2" cy="229.2" r="0.75"/><circle cx="144.3" cy="229.7" r="0.75"/><circle cx="145" cy="229.6" r="0.75"/><circle cx="146.5" cy="228.9" r="0.75"/><circle cx="147.1" cy="228.5" r="0.75"/><circle cx="148.2" cy="229.6" r="0.75"/><circle cx="149.6" cy="230.2" r="0.75"/><circle cx="150.4" cy="229.2" r="0.75"/><circle cx="151.3" cy="228.5" r="0.75"/><circle cx="152.2" cy="228.4" r="0.75"/><circle cx="153.4" cy="228.8" r="0.75"/><circle cx="154.6" cy="229.7" r="0.75"/><circle cx="155.6" cy="229.7" r="0.75"/><circle cx="156.2" cy="229" r="0.75"/><circle cx="157.8" cy="229.1" r="0.75"/><circle cx="158.4" cy="229.2" r="0.75"/><circle cx="159.8" cy="230.4" r="0.75"/><circle cx="160.6" cy="231.6" r="0.75"/><circle cx="161.3" cy="231.6" r="0.75"/><circle cx="162.5" cy="232.2" r="0.75"/><circle cx="163.6" cy="233.3" r="0.75"/><circle cx="164.6" cy="235.1" r="0.75"/><circle cx="166" cy="234.9" r="0.75"/><circle cx="166.8" cy="233.8" r="0.75"/><circle cx="167.8" cy="233" r="0.75"/><circle cx="168.7" cy="232.3" r="0.75"/><circle cx="169.9" cy="233.8" r="0.75"/><circle cx="171.2" cy="234.1" r="0.75"/><circle cx="172.2" cy="233.6" r="0.75"/><circle cx="173" cy="232.4" r="0.75"/><circle cx="174.1" cy="232.4" r="0.75"/><circle cx="174.9" cy="232.9" r="0.75"/><circle cx="175.9" cy="233.4" r="0.75"/><circle cx="177.4" cy="233.1" r="0.75"/><circle cx="177.8" cy="232.8" r="0.75"/><circle cx="179" cy="232.3" r="0.75"/><circle cx="180.3" cy="232.8" r="0.75"/><circle cx="181.2" cy="233.1" r="0.75"/><circle cx="182.2" cy="233" r="0.75"/><circle cx="183.4" cy="232.7" r="0.75"/><circle cx="184.4" cy="232.4" r="0.75"/><circle cx="185.2" cy="232.9" r="0.75"/><circle cx="185.9" cy="232.7" r="0.75"/><circle cx="187.6" cy="233.5" r="0.75"/><circle cx="188" cy="233.3" r="0.75"/><circle cx="189.3" cy="232.2" r="0.75"/><circle cx="190.1" cy="232.4" r="0.75"/><circle cx="191.4" cy="233.4" r="0.75"/><circle cx="192.1" cy="233.6" r="0.75"/><circle cx="193.1" cy="233.2" r="0.75"/></g>
<g fill="#00ff00"><circle cx="31.4" cy="214" r="0.75"/><circle cx="32.7" cy="216" r="0.75"/><circle cx="33.6" cy="216.5" r="0.75"/><circle cx="35.1" cy="216.4" r="0.75"/><circle cx="36.2" cy="217" r="0.75"/><circle cx="37.7" cy="217.9" r="0.75"/><circle cx="38.3" cy="217.4" r="0.75"/><circle cx="39.7" cy="217.1" r="0.75"/><circle cx="41" cy="216.7" r="0.75"/><circle cx="42.1" cy="218.3" r="0.75"/><circle cx="42.9" cy="218.1" r="0.75"/><circle cx="56.1" cy="219.6" r="0.75"/><circle cx="56.7" cy="220.3" r="0.75"/><circle cx="57.7" cy="220.8" r="0.75"/><circle cx="58.9" cy="220.1" r="0.75"/><circle cx="60.3" cy="219.9" r="0.75"/><circle cx="60.8" cy="220" r="0.75"/><circle cx="61.9" cy="220.5" r="0.75"/><circle cx="62.8" cy="220.7" r="0.75"/><circle cx="64.1" cy="220.8" r="0.75"/><circle cx="65.3" cy="219.6" r="0.75"/><circle cx="66.3" cy="220.4" r="0.75"/><circle cx="67.2" cy="220.5" r="0.75"/><circle cx="68.1" cy="221.2" r="0.75"/><circle cx="69.5" cy="221" r="0.75"/><circle cx="70.3" cy="220.2" r="0.75"/><circle cx="71.3" cy="220.4" r="0.75"/><circle cx="72.3" cy="220.4" r="0.75"/><circle cx="73.1" cy="220.9" r="0.75"/><circle cx="74.4" cy="221.3" r="0.75"/><circle cx="75.5" cy="220.9" r="0.75"/><circle cx="76.2" cy="220.4" r="0.75"/><circle cx="77.4" cy="220.8" r="0.75"/><circle cx="78.3" cy="220.9" r="0.75"/><circle cx="79.7" cy="221.3" r="0.75"/><circle cx="80.5" cy="221" r="0.75"/><circle cx="81.9" cy="220.1" r="0.75"/><circle cx="82.9" cy="220.7" r="0.75"/><circle cx="83.5" cy="221.5" r="0.75"/><circle cx="84.5" cy="221.9" r="0.75"/><circle cx="85.8" cy="221.6" r="0.75"/><circle cx="86.7" cy="220.8" r="0.75"/><circle cx="87.8" cy="220.3" r="0.75"/><circle cx="88.5" cy="220.5" r="0.75"/><circle cx="89.6" cy="220.6" r="0.75"/><circle cx="90.8" cy="219.3" r="0.75"/><circle cx="92.1" cy="218.7" r="0.75"/><circle cx="93" cy="218.6" r="0.75"/><circle cx="93.6" cy="218.4" r="0.75"/><circle cx="94.8" cy="219.4" r="0.75"/><circle cx="95.8" cy="219.3" r="0.75"/><circle cx="97.1" cy="219.3" r="0.75"/><circle cx="97.7" cy="219" r="0.75"/><circle cx="99.1" cy="219.4" r="0.75"/><circle cx="100.1" cy="219.4" r="0.75"/><circle cx="100.7" cy="219.9" r="0.75"/><circle cx="102.4" cy="219.1" r="0.75"/><circle cx="102.8" cy="219.4" r="0.75"/><circle cx="104.3" cy="219.9" r="0.75"/><circle cx="105.5" cy="220" r="0.75"/><circle cx="106.5" cy="219.4" r="0.75"/><circle cx="107.2" cy="219" r="0.75"/><circle cx="108.4" cy="219.1" r="0.75"/><circle cx="109.2" cy="219" r="0.75"/><circle cx="110" cy="219.9" r="0.75"/><circle cx="111" cy="219.8" r="0.75"/><circle cx="112.1" cy="219.6" r="0.75"/><circle cx="113.4" cy="219.6" r="0.75"/><circle cx="114.1" cy="219.3" r="0.75"/><circle cx="115.8" cy="220" r="0.75"/><circle cx="116.5" cy="220.2" r="0.75"/><circle cx="117.4" cy="220.3" r="0.75"/><circle cx="118.6" cy="219.7" r="0.75"/><circle cx="119.8" cy="219.9" r="0.75"/><circle cx="120.6" cy="219.9" r="0.75"/><circle cx="121.5" cy="220.5" r="0.75"/><circle cx="122.8" cy="220.2" r="0.75"/><circle cx="123.8" cy="220.1" r="0.75"/><circle cx="124.6" cy="220" r="0.75"/><circle cx="125.9" cy="220.8" r="0.75"/><circle cx="126.5" cy="221.4" r="0.75"/><circle cx="127.7" cy="221.6" r="0.75"/><circle cx="128.5" cy="221.3" r="0.75"/><circle cx="129.8" cy="220.4" r="0.75"/><circle cx="130.8" cy="221.5" r="0.75"/><circle cx="131.8" cy="222.1" r="0.75"/><circle cx="133" cy="223.1" r="0.75"/><circle cx="133.8" cy="222" r="0.75"/><circle cx="135.1" cy="221.4" r="0.75"/><circle cx="136.1" cy="221.4" r="0.75"/><circle cx="137" cy="222.1" r="0.75"/><circle cx="138.3" cy="222.3" r="0.75"/><circle cx="139" cy="222.2" r="0.75"/><circle cx="140.2" cy="222" r="0.75"/><circle cx="141.1" cy="221.1" r="0.75"/><circle cx="142.1" cy="222.1" r="0.75"/><circle cx="143.1" cy="222.5" r="0.75"/><circle cx="143.9" cy="221.9" r="0.75"/><circle cx="145.1" cy="221.6" r="0.75"/><circle cx="146.4" cy="221.7" r="0.75"/><circle cx="147.3" cy="222.5" r="0.75"/><circle cx="148" cy="222.9" r="0.75"/><circle cx="149.6" cy="222.5" r="0.75"/><circle cx="150" cy="222.8" r="0.75"/><circle cx="151.6" cy="222.1" r="0.75"/><circle cx="152.4" cy="222.2" r="0.75"/><circle cx="153.5" cy="222.4" r="0.75"/><circle cx="154.5" cy="222.2" r="0.75"/><circle cx="155.7" cy="221.4" r="0.75"/><circle cx="156.4" cy="221.9" r="0.75"/><circle cx="157.8" cy="222.5" r="0.75"/><circle cx="158.8" cy="223.2" r="0.75"/><circle cx="159.7" cy="223.5" r="0.75"/><circle cx="160.3" cy="223.2" r="0.75"/><circle cx="161.6" cy="223.6" r="0.75"/><circle cx="162.5" cy="224" r="0.75"/><circle cx="163.4" cy="225.5" r="0.75"/><circle cx="164.5" cy="226.6" r="0.75"/><circle cx="165.6" cy="227.1" r="0.75"/><circle cx="166.5" cy="225.3" r="0.75"/><circle cx="168" cy="223.5" r="0.75"/><circle cx="168.8" cy="224.2" r="0.75"/><circle cx="170" cy="224.8" r="0.75"/><circle cx="171.2" cy="224.2" r="0.75"/><circle cx="172.1" cy="223.5" r="0.75"/><circle cx="173.2" cy="223.4" r="0.75"/><circle cx="173.8" cy="223.8" r="0.75"/><circle cx="174.9" cy="224.6" r="0.75"/><circle cx="175.9" cy="224.5" r="0.75"/><circle cx="177" cy="224.6" r="0.75"/><circle cx="178.1" cy="224" r="0.75"/><circle cx="179.4" cy="224.2" r="0.75"/><circle cx="179.8" cy="223.9" r="0.75"/><circle cx="180.8" cy="224.5" r="0.75"/><circle cx="182.4" cy="223.5" r="0.75"/><circle cx="182.9" cy="223.3" r="0.75"/><circle cx="184.5" cy="224.3" r="0.75"/><circle cx="184.9" cy="223.8" r="0.75"/><circle cx="186.4" cy="224.3" r="0.75"/><circle cx="187.3" cy="224.1" r="0.75"/><circle cx="188.6" cy="224" r="0.75"/><circle cx="189.5" cy="224.8" r="0.75"/><circle cx="190.4" cy="224.6" r="0.75"/><circle cx="191.1" cy="224.7" r="0.75"/><circle cx="192.4" cy="224.7" r="0.75"/><circle cx="193.2" cy="223.9" r="0.75"/></g>
<g fill="#0000ff"><circle cx="31.5" cy="208.5" r="0.75"/><circle cx="32.7" cy="209.4" r="0.75"/><circle cx="33.9" cy="210" r="0.75"/><circle cx="34.8" cy="210.8" r="0.75"/><circle cx="36.1" cy="211.9" r="0.75"/><circle cx="37.8" cy="211.2" r="0.75"/><circle cx="39" cy="210.2" r="0.75"/><circle cx="40" cy="211.1" r="0.75"/><circle cx="41.3" cy="211.6" r="0.75"/><circle cx="42.2" cy="212" r="0.75"/><circle cx="43.4" cy="212" r="0.75"/><circle cx="55.6" cy="212.6" r="0.75"/><circle cx="57" cy="212.8" r="0.75"/><circle cx="57.7" cy="212.6" r="0.75"/><circle cx="59.3" cy="211.9" r="0.75"/><circle cx="59.7" cy="212" r="0.75"/><circle cx="61.3" cy="213" r="0.75"/><circle cx="62.2" cy="213.6" r="0.75"/><circle cx="63.3" cy="213" r="0.75"/><circle cx="63.8" cy="212.6" r="0.75"/><circle cx="65.4" cy="211.9" r="0.75"/><circle cx="66.1" cy="212.7" r="0.75"/><circle cx="67.1" cy="213.4" r="0.75"/><circle cx="68.4" cy="213.2" r="0.75"/><circle cx="69.1" cy="213.3" r="0.75"/><circle cx="70.2" cy="213" r="0.75"/><circle cx="71.5" cy="213.7" r="0.75"/><circle cx="72.6" cy="214" r="0.75"/><circle cx="73.2" cy="213.8" r="0.75"/><circle cx="74.4" cy="213.1" r="0.75"/><circle cx="75.6" cy="213.1" r="0.75"/><circle cx="76.6" cy="213.3" r="0.75"/><circle cx="77.3" cy="214.2" r="0.75"/><circle cx="78.8" cy="214.3" r="0.75"/><circle cx="79.3" cy="214" r="0.75"/><circle cx="80.4" cy="213.2" r="0.75"/><circle cx="81.8" cy="214" r="0.75"/><circle cx="82.6" cy="215" r="0.75"/><circle cx="83.3" cy="214.9" r="0.75"/><circle cx="84.5" cy="214.8" r="0.75"/><circle cx="85.6" cy="213.7" r="0.75"/><circle cx="86.6" cy="213.6" r="0.75"/><circle cx="88" cy="213.4" r="0.75"/><circle cx="88.5" cy="213.6" r="0.75"/><circle cx="90" cy="212.6" r="0.75"/><circle cx="91" cy="212.1" r="0.75"/><circle cx="91.8" cy="211.7" r="0.75"/><circle cx="93.1" cy="211.6" r="0.75"/><circle cx="93.9" cy="212.2" r="0.75"/><circle cx="94.9" cy="212.1" r="0.75"/><circle cx="95.9" cy="211" r="0.75"/><circle cx="96.7" cy="210.8" r="0.75"/><circle cx="97.8" cy="210.8" r="0.75"/><circle cx="99.3" cy="212.6" r="0.75"/><circle cx="99.9" cy="212.3" r="0.75"/><circle cx="101.2" cy="211.7" r="0.75"/><circle cx="102.4" cy="211.4" r="0.75"/><circle cx="103.3" cy="211.6" r="0.75"/><circle cx="104.4" cy="212.5" r="0.75"/><circle cx="105.2" cy="213.2" r="0.75"/><circle cx="106.1" cy="212.2" r="0.75"/><circle cx="107.6" cy="211.4" r="0.75"/><circle cx="108" cy="211.5" r="0.75"/><circle cx="109" cy="212" r="0.75"/><circle cx="110.2" cy="212.6" r="0.75"/><circle cx="111.4" cy="212.3" r="0.75"/><circle cx="112.4" cy="212.6" r="0.75"/><circle cx="113.4" cy="212.8" r="0.75"/><circle cx="114.7" cy="213.3" r="0.75"/><circle cx="115.1" cy="213.4" r="0.75"/><circle cx="116.3" cy="213.3" r="0.75"/><circle cx="117.5" cy="213.7" r="0.75"/><circle cx="118.3" cy="213.5" r="0.75"/><circle cx="119.4" cy="213.4" r="0.75"/><circle cx="120.8" cy="213.8" r="0.75"/><circle cx="121.7" cy="214" r="0.75"/><circle cx="122.9" cy="213.8" r="0.75"/><circle cx="124" cy="213.7" r="0.75"/><circle cx="125" cy="213.7" r="0.75"/><circle cx="125.6" cy="214.3" r="0.75"/><circle cx="126.4" cy="214.5" r="0.75"/><circle cx="127.9" cy="213.8" r="0.75"/><circle cx="128.6" cy="213.6" r="0.75"/><circle cx="130" cy="214.2" r="0.75"/><circle cx="130.8" cy="215" r="0.75"/><circle cx="131.6" cy="215.4" r="0.75"/><circle cx="132.5" cy="215" r="0.75"/><circle cx="133.7" cy="214.3" r="0.75"/><circle cx="135" cy="214.8" r="0.75"/><circle cx="136.1" cy="215" r="0.75"/><circle cx="136.9" cy="215.8" r="0.75"/><circle cx="138.1" cy="214.7" r="0.75"/><circle cx="139" cy="214.8" r="0.75"/><circle cx="140" cy="214.8" r="0.75"/><circle cx="141.4" cy="215.3" r="0.75"/><circle cx="142.4" cy="214.7" r="0.75"/><circle cx="143.4" cy="214.5" r="0.75"/><circle cx="144.5" cy="214" r="0.75"/><circle cx="145.1" cy="214.1" r="0.75"/><circle cx="146" cy="214.3" r="0.75"/><circle cx="147.3" cy="214.8" r="0.75"/><circle cx="148.1" cy="214.4" r="0.75"/><circle cx="149" cy="214.6" r="0.75"/><circle cx="150.4" cy="214.7" r="0.75"/><circle cx="151.4" cy="214.7" r="0.75"/><circle cx="152.3" cy="215.6" r="0.75"/><circle cx="153.1" cy="215.9" r="0.75"/><circle cx="154.5" cy="215.1" r="0.75"/><circle cx="155.6" cy="214.8" r="0.75"/><circle cx="156.5" cy="215" r="0.75"/><circle cx="157.5" cy="216.1" r="0.75"/><circle cx="158.4" cy="216.6" r="0.75"/><circle cx="159.5" cy="215.3" r="0.75"/><circle cx="160.4" cy="215.2" r="0.75"/><circle cx="161.9" cy="216.6" r="0.75"/><circle cx="162.9" cy="218.2" r="0.75"/><circle cx="163.7" cy="219.1" r="0.75"/><circle cx="165" cy="218.9" r="0.75"/><circle cx="165.7" cy="218.5" r="0.75"/><circle cx="167" cy="217.1" r="0.75"/><circle cx="167.8" cy="216.7" r="0.75"/><circle cx="168.6" cy="216.2" r="0.75"/><circle cx="170.1" cy="215.6" r="0.75"/><circle cx="171.1" cy="216.1" r="0.75"/><circle cx="172" cy="215.6" r="0.75"/><circle cx="173.1" cy="216.6" r="0.75"/><circle cx="174.1" cy="216.4" r="0.75"/><circle cx="174.8" cy="215.7" r="0.75"/><circle cx="175.8" cy="215.4" r="0.75"/><circle cx="177" cy="215.4" r="0.75"/><circle cx="177.9" cy="215.7" r="0.75"/><circle cx="179.4" cy="216.8" r="0.75"/><circle cx="180.4" cy="216.5" r="0.75"/><circle cx="181.2" cy="216" r="0.75"/><circle cx="181.9" cy="215" r="0.75"/><circle cx="183" cy="215.6" r="0.75"/><circle cx="184" cy="216.4" r="0.75"/><circle cx="185.6" cy="217" r="0.75"/><circle cx="186.3" cy="215.9" r="0.75"/><circle cx="187" cy="215.2" r="0.75"/><circle cx="188.6" cy="215.7" r="0.75"/><circle cx="189.6" cy="217" r="0.75"/><circle cx="190.4" cy="216.4" r="0.75"/><circle cx="191.4" cy="216.3" r="0.75"/><circle cx="192.3" cy="215.8" r="0.75"/><circle cx="193.2" cy="215.7" r="0.75"/><circle cx="34.9" cy="203" r="0.75"/><circle cx="38.7" cy="205.3" r="0.75"/><circle cx="131.7" cy="210.3" r="0.75"/><circle cx="136.3" cy="210.7" r="0.75"/><circle cx="145.4" cy="212" r="0.75"/></g>
<g fill="#ff00ff"><circle cx="31.4" cy="200.6" r="0.75"/><circle cx="32.9" cy="197" r="0.75"/><circle cx="33.9" cy="195.5" r="0.75"/><circle cx="34.8" cy="196.8" r="0.75"/><circle cx="36.4" cy="199.6" r="0.75"/><circle cx="37.3" cy="200" r="0.75"/><circle cx="38.9" cy="199" r="0.75"/><circle cx="40.1" cy="199.8" r="0.75"/><circle cx="41" cy="199.8" r="0.75"/><circle cx="42" cy="200.4" r="0.75"/><circle cx="43.1" cy="200.5" r="0.75"/><circle cx="56.2" cy="201.4" r="0.75"/><circle cx="57" cy="201.8" r="0.75"/><circle cx="57.8" cy="201" r="0.75"/><circle cx="58.8" cy="200.8" r="0.75"/><circle cx="59.9" cy="201.2" r="0.75"/><circle cx="60.8" cy="201.3" r="0.75"/><circle cx="62.1" cy="201.5" r="0.75"/><circle cx="63.4" cy="201.2" r="0.75"/><circle cx="64.1" cy="201.2" r="0.75"/><circle cx="65" cy="202.1" r="0.75"/><circle cx="65.9" cy="202" r="0.75"/><circle cx="67.2" cy="202.4" r="0.75"/><circle cx="68.3" cy="202.3" r="0.75"/><circle cx="69.4" cy="200.9" r="0.75"/><circle cx="70.1" cy="201.5" r="0.75"/><circle cx="71.4" cy="201.8" r="0.75"/><circle cx="72.1" cy="202.3" r="0.75"/><circle cx="73.6" cy="201.8" r="0.75"/><circle cx="74.4" cy="201.5" r="0.75"/><circle cx="75.3" cy="201.7" r="0.75"/><circle cx="76.3" cy="202.8" r="0.75"/><circle cx="77.7" cy="203.3" r="0.75"/><circle cx="78.5" cy="203.2" r="0.75"/><circle cx="79.5" cy="202.1" r="0.75"/><circle cx="80.9" cy="201.9" r="0.75"/><circle cx="81.9" cy="202.5" r="0.75"/><circle cx="82.5" cy="202.9" r="0.75"/><circle cx="83.8" cy="203" r="0.75"/><circle cx="84.6" cy="202.5" r="0.75"/><circle cx="85.7" cy="202.3" r="0.75"/><circle cx="86.8" cy="202.9" r="0.75"/><circle cx="87.9" cy="203" r="0.75"/><circle cx="88.9" cy="202.5" r="0.75"/><circle cx="89.5" cy="201.6" r="0.75"/><circle cx="90.5" cy="200.9" r="0.75"/><circle cx="91.5" cy="201.1" r="0.75"/><circle cx="92.6" cy="201.2" r="0.75"/><circle cx="94.2" cy="201.3" r="0.75"/><circle cx="95" cy="201.4" r="0.75"/><circle cx="95.8" cy="200.7" r="0.75"/><circle cx="96.8" cy="200.9" r="0.75"/><circle cx="97.8" cy="201.1" r="0.75"/><circle cx="99" cy="202" r="0.75"/><circle cx="100" cy="201.4" r="0.75"/><circle cx="101.3" cy="201" r="0.75"/><circle cx="102.3" cy="201.4" r="0.75"/><circle cx="103.1" cy="201.6" r="0.75"/><circle cx="104.1" cy="202.1" r="0.75"/><circle cx="105.1" cy="201.4" r="0.75"/><circle cx="106.1" cy="201" r="0.75"/><circle cx="107.2" cy="201.3" r="0.75"/><circle cx="108.5" cy="202.3" r="0.75"/><circle cx="109.6" cy="202.4" r="0.75"/><circle cx="110.7" cy="202.1" r="0.75"/><circle cx="111.5" cy="202.1" r="0.75"/><circle cx="112.5" cy="202.1" r="0.75"/><circle cx="113.7" cy="202.1" r="0.75"/><circle cx="114.5" cy="203" r="0.75"/><circle cx="115.6" cy="203.4" r="0.75"/><circle cx="116.3" cy="202.9" r="0.75"/><circle cx="117.8" cy="203" r="0.75"/><circle cx="118.4" cy="203" r="0.75"/><circle cx="119.5" cy="203.7" r="0.75"/><circle cx="120.8" cy="203.9" r="0.75"/><circle cx="121.4" cy="203.2" r="0.75"/><circle cx="122.6" cy="202.8" r="0.75"/><circle cx="124" cy="203.4" r="0.75"/><circle cx="124.4" cy="204.3" r="0.75"/><circle cx="126" cy="204.8" r="0.75"/><circle cx="126.7" cy="204.7" r="0.75"/><circle cx="127.9" cy="204.1" r="0.75"/><circle cx="129" cy="204.2" r="0.75"/><circle cx="130" cy="204.6" r="0.75"/><circle cx="130.9" cy="205.7" r="0.75"/><circle cx="131.6" cy="205.3" r="0.75"/><circle cx="133.1" cy="204.4" r="0.75"/><circle cx="134.2" cy="203.7" r="0.75"/><circle cx="134.8" cy="204.5" r="0.75"/><circle cx="136" cy="205.2" r="0.75"/><circle cx="136.8" cy="205.5" r="0.75"/><circle cx="138.1" cy="205" r="0.75"/><circle cx="138.9" cy="204.2" r="0.75"/><circle cx="139.8" cy="204.7" r="0.75"/><circle cx="141.2" cy="205.6" r="0.75"/><circle cx="142.5" cy="205" r="0.75"/><circle cx="143.2" cy="204.2" r="0.75"/><circle cx="144.4" cy="204.1" r="0.75"/><circle cx="144.9" cy="204.4" r="0.75"/><circle cx="146.4" cy="204.6" r="0.75"/><circle cx="147.5" cy="205.1" r="0.75"/><circle cx="148.2" cy="204.5" r="0.75"/><circle cx="149.3" cy="203.8" r="0.75"/><circle cx="150.4" cy="204.2" r="0.75"/><circle cx="151.1" cy="205" r="0.75"/><circle cx="152.7" cy="204.6" r="0.75"/><circle cx="153.2" cy="204.6" r="0.75"/><circle cx="154.1" cy="204.2" r="0.75"/><circle cx="155.7" cy="204.3" r="0.75"/><circle cx="156.5" cy="205.1" r="0.75"/><circle cx="157.7" cy="204.8" r="0.75"/><circle cx="158.8" cy="204.6" r="0.75"/><circle cx="159.4" cy="204.7" r="0.75"/><circle cx="160.5" cy="205.7" r="0.75"/><circle cx="161.9" cy="206.9" r="0.75"/><circle cx="162.5" cy="207.1" r="0.75"/><circle cx="163.6" cy="207.7" r="0.75"/><circle cx="164.8" cy="208.4" r="0.75"/><circle cx="166.1" cy="207.4" r="0.75"/><circle cx="166.8" cy="206.6" r="0.75"/><circle cx="167.5" cy="206.1" r="0.75"/><circle cx="168.8" cy="205.7" r="0.75"/><circle cx="169.8" cy="204.9" r="0.75"/><circle cx="171" cy="205.4" r="0.75"/><circle cx="171.6" cy="205.7" r="0.75"/><circle cx="172.7" cy="205.6" r="0.75"/><circle cx="174.2" cy="205.8" r="0.75"/><circle cx="174.9" cy="205.8" r="0.75"/><circle cx="175.8" cy="205.3" r="0.75"/><circle cx="177.1" cy="205.6" r="0.75"/><circle cx="177.7" cy="205.7" r="0.75"/><circle cx="179.1" cy="206.6" r="0.75"/><circle cx="179.8" cy="206" r="0.75"/><circle cx="181.5" cy="205.3" r="0.75"/><circle cx="182.2" cy="205.4" r="0.75"/><circle cx="182.9" cy="206" r="0.75"/><circle cx="183.8" cy="206.6" r="0.75"/><circle cx="185.1" cy="206.6" r="0.75"/><circle cx="186.4" cy="206" r="0.75"/><circle cx="187.2" cy="206.1" r="0.75"/><circle cx="188.1" cy="206.6" r="0.75"/><circle cx="189.2" cy="207.1" r="0.75"/><circle cx="190.2" cy="207" r="0.75"/><circle cx="191" cy="206.2" r="0.75"/><circle cx="192.3" cy="206.1" r="0.75"/><circle cx="193.1" cy="206.4" r="0.75"/><circle cx="34.9" cy="189.7" r="0.75"/><circle cx="38.7" cy="194.8" r="0.75"/><circle cx="131.7" cy="198.7" r="0.75"/><circle cx="136.3" cy="199.2" r="0.75"/><circle cx="145.4" cy="200.7" r="0.75"/><circle cx="177.4" cy="200.7" r="0.75"/></g>
<g fill="#0000ff"><circle cx="260.4" cy="81.5" r="0.72"/><circle cx="262.2" cy="79.9" r="0.72"/><circle cx="263.4" cy="82.5" r="0.72"/><circle cx="264.7" cy="82.7" r="0.72"/><circle cx="265.9" cy="82.6" r="0.72"/><circle cx="267.2" cy="79.4" r="0.72"/><circle cx="268.6" cy="83.7" r="0.72"/><circle cx="270.2" cy="81.4" r="0.72"/><circle cx="271.6" cy="80.8" r="0.72"/><circle cx="272.5" cy="80.5" r="0.72"/><circle cx="286" cy="72.6" r="0.72"/><circle cx="286.6" cy="72.5" r="0.72"/><circle cx="288.3" cy="68.4" r="0.72"/><circle cx="289.3" cy="74.8" r="0.72"/><circle cx="290.5" cy="73.7" r="0.72"/><circle cx="291.5" cy="69.9" r="0.72"/><circle cx="292.9" cy="64" r="0.72"/><circle cx="294" cy="71.2" r="0.72"/><circle cx="294.5" cy="70.6" r="0.72"/><circle cx="296" cy="62.7" r="0.72"/><circle cx="297.2" cy="73" r="0.72"/><circle cx="298.3" cy="65.1" r="0.72"/><circle cx="299.8" cy="61.5" r="0.72"/><circle cx="300.2" cy="64.8" r="0.72"/><circle cx="301.4" cy="70.5" r="0.72"/><circle cx="302.5" cy="64.5" r="0.72"/><circle cx="304" cy="64.4" r="0.72"/><circle cx="305.3" cy="68.8" r="0.72"/><circle cx="306.3" cy="69.4" r="0.72"/><circle cx="307.4" cy="68.8" r="0.72"/><circle cx="308.9" cy="69" r="0.72"/><circle cx="309.7" cy="70" r="0.72"/><circle cx="310.9" cy="70.3" r="0.72"/><circle cx="312.1" cy="65" r="0.72"/><circle cx="312.7" cy="67.6" r="0.72"/><circle cx="314" cy="64.2" r="0.72"/><circle cx="315.1" cy="68.5" r="0.72"/><circle cx="316.9" cy="75.1" r="0.72"/><circle cx="317.7" cy="70.7" r="0.72"/><circle cx="318.6" cy="73.7" r="0.72"/><circle cx="320.2" cy="80.7" r="0.72"/><circle cx="320.7" cy="86.1" r="0.72"/><circle cx="321.9" cy="82.6" r="0.72"/><circle cx="323.1" cy="85.1" r="0.72"/><circle cx="324.1" cy="82" r="0.72"/><circle cx="326" cy="80" r="0.72"/><circle cx="326.7" cy="82.8" r="0.72"/><circle cx="327.7" cy="75.8" r="0.72"/><circle cx="329.2" cy="85.6" r="0.72"/><circle cx="329.9" cy="81.8" r="0.72"/><circle cx="331.4" cy="80.5" r="0.72"/><circle cx="332.3" cy="76.4" r="0.72"/><circle cx="333.8" cy="76.4" r="0.72"/><circle cx="335.2" cy="74.7" r="0.72"/><circle cx="335.7" cy="76.3" r="0.72"/><circle cx="337.2" cy="72.7" r="0.72"/><circle cx="337.9" cy="75.3" r="0.72"/><circle cx="339.2" cy="74.7" r="0.72"/><circle cx="340.8" cy="76.7" r="0.72"/><circle cx="341.8" cy="79.1" r="0.72"/><circle cx="342.9" cy="77.1" r="0.72"/><circle cx="343.9" cy="74.1" r="0.72"/><circle cx="344.7" cy="76.8" r="0.72"/><circle cx="346.2" cy="75.4" r="0.72"/><circle cx="347" cy="71.7" r="0.72"/><circle cx="348.4" cy="74.8" r="0.72"/><circle cx="349.5" cy="74.3" r="0.72"/><circle cx="351.1" cy="73.9" r="0.72"/><circle cx="351.6" cy="76.9" r="0.72"/><circle cx="353.2" cy="75.3" r="0.72"/><circle cx="354.2" cy="75.2" r="0.72"/><circle cx="355.5" cy="74.4" r="0.72"/><circle cx="356.1" cy="75.1" r="0.72"/><circle cx="357.3" cy="75.6" r="0.72"/><circle cx="358.7" cy="74.3" r="0.72"/><circle cx="360.1" cy="76.9" r="0.72"/><circle cx="361.2" cy="75.4" r="0.72"/><circle cx="362.4" cy="75.8" r="0.72"/><circle cx="363" cy="75.2" r="0.72"/><circle cx="364" cy="75.1" r="0.72"/><circle cx="365.9" cy="75.8" r="0.72"/><circle cx="366.3" cy="75" r="0.72"/><circle cx="368.1" cy="77.8" r="0.72"/><circle cx="368.6" cy="77.2" r="0.72"/><circle cx="369.8" cy="75.7" r="0.72"/><circle cx="371" cy="74.6" r="0.72"/><circle cx="372.2" cy="76" r="0.72"/><circle cx="373.3" cy="76.1" r="0.72"/><circle cx="374.7" cy="76.1" r="0.72"/><circle cx="375.9" cy="75" r="0.72"/><circle cx="377" cy="76.7" r="0.72"/><circle cx="377.7" cy="74.6" r="0.72"/><circle cx="379.3" cy="75.2" r="0.72"/><circle cx="380" cy="74.5" r="0.72"/><circle cx="381.8" cy="76.8" r="0.72"/><circle cx="382.7" cy="76.3" r="0.72"/><circle cx="384.2" cy="74.8" r="0.72"/><circle cx="385.1" cy="74.7" r="0.72"/><circle cx="386" cy="76.5" r="0.72"/><circle cx="386.9" cy="78.5" r="0.72"/><circle cx="388.2" cy="76.3" r="0.72"/><circle cx="389.7" cy="73.6" r="0.72"/><circle cx="390.8" cy="74.9" r="0.72"/><circle cx="391.7" cy="76.1" r="0.72"/><circle cx="393.2" cy="75.6" r="0.72"/><circle cx="394.4" cy="76.3" r="0.72"/><circle cx="395.4" cy="74.8" r="0.72"/><circle cx="396.4" cy="76.6" r="0.72"/><circle cx="397.8" cy="74.3" r="0.72"/><circle cx="398.9" cy="76.7" r="0.72"/><circle cx="400.2" cy="74.7" r="0.72"/><circle cx="401.3" cy="77.4" r="0.72"/><circle cx="401.8" cy="77.1" r="0.72"/><circle cx="402.9" cy="74.8" r="0.72"/><circle cx="404.5" cy="74" r="0.72"/><circle cx="405.3" cy="75.1" r="0.72"/><circle cx="406.5" cy="76.5" r="0.72"/><circle cx="407.7" cy="76.3" r="0.72"/><circle cx="409.2" cy="74.8" r="0.72"/><circle cx="409.9" cy="75.9" r="0.72"/><circle cx="411.3" cy="74.9" r="0.72"/><circle cx="412.1" cy="73.5" r="0.72"/><circle cx="413.5" cy="75.9" r="0.72"/><circle cx="414.2" cy="75.8" r="0.72"/><circle cx="415.3" cy="76.4" r="0.72"/><circle cx="417.3" cy="75" r="0.72"/><circle cx="418.1" cy="74" r="0.72"/><circle cx="418.9" cy="75.1" r="0.72"/><circle cx="420.3" cy="76.4" r="0.72"/><circle cx="421.8" cy="78.6" r="0.72"/><circle cx="422.5" cy="76.6" r="0.72"/><circle cx="423.6" cy="74.8" r="0.72"/><circle cx="425" cy="78" r="0.72"/><circle cx="425.7" cy="75.6" r="0.72"/><circle cx="427.4" cy="75.2" r="0.72"/><circle cx="428.4" cy="76.3" r="0.72"/><circle cx="267.9" cy="89.5" r="0.72"/><circle cx="271.9" cy="88.1" r="0.72"/><circle cx="381.7" cy="82" r="0.72"/><circle cx="364.3" cy="81" r="0.72"/></g>
<g fill="#00ff00"><circle cx="260.1" cy="73.1" r="0.72"/><circle cx="262" cy="71.7" r="0.72"/><circle cx="263.2" cy="74.2" r="0.72"/><circle cx="264.2" cy="76.1" r="0.72"/><circle cx="265.5" cy="70.5" r="0.72"/><circle cx="267.5" cy="71.9" r="0.72"/><circle cx="268.7" cy="75.4" r="0.72"/><circle cx="269.8" cy="73.3" r="0.72"/><circle cx="271" cy="72.6" r="0.72"/><circle cx="272.4" cy="72.7" r="0.72"/><circle cx="285.5" cy="61.9" r="0.72"/><circle cx="286.6" cy="64" r="0.72"/><circle cx="288.1" cy="64.2" r="0.72"/><circle cx="288.9" cy="68.4" r="0.72"/><circle cx="290.5" cy="66.5" r="0.72"/><circle cx="291.5" cy="72.6" r="0.72"/><circle cx="292.7" cy="62" r="0.72"/><circle cx="294.1" cy="69.3" r="0.72"/><circle cx="294.7" cy="64.6" r="0.72"/><circle cx="296" cy="70.1" r="0.72"/><circle cx="296.8" cy="67.9" r="0.72"/><circle cx="298.4" cy="64.8" r="0.72"/><circle cx="299.4" cy="66.3" r="0.72"/><circle cx="300.3" cy="64" r="0.72"/><circle cx="301.8" cy="67" r="0.72"/><circle cx="303.1" cy="72.1" r="0.72"/><circle cx="303.8" cy="66.4" r="0.72"/><circle cx="305.4" cy="61.2" r="0.72"/><circle cx="306.2" cy="58.8" r="0.72"/><circle cx="307.3" cy="64.1" r="0.72"/><circle cx="308.5" cy="70.7" r="0.72"/><circle cx="309.3" cy="51.3" r="0.72"/><circle cx="310.8" cy="57.4" r="0.72"/><circle cx="311.7" cy="59.4" r="0.72"/><circle cx="312.8" cy="66" r="0.72"/><circle cx="314.5" cy="59.5" r="0.72"/><circle cx="315.4" cy="62.7" r="0.72"/><circle cx="316.8" cy="62.4" r="0.72"/><circle cx="317.5" cy="60" r="0.72"/><circle cx="318.8" cy="70.4" r="0.72"/><circle cx="319.7" cy="68.9" r="0.72"/><circle cx="321.3" cy="73.4" r="0.72"/><circle cx="321.9" cy="80.7" r="0.72"/><circle cx="323.3" cy="80.2" r="0.72"/><circle cx="324.6" cy="68.9" r="0.72"/><circle cx="325.5" cy="73" r="0.72"/><circle cx="326.5" cy="74.1" r="0.72"/><circle cx="327.6" cy="74.9" r="0.72"/><circle cx="329.2" cy="79.7" r="0.72"/><circle cx="330.4" cy="71.5" r="0.72"/><circle cx="331.1" cy="70.3" r="0.72"/><circle cx="332.5" cy="70.7" r="0.72"/><circle cx="333.5" cy="70.1" r="0.72"/><circle cx="334.9" cy="70.5" r="0.72"/><circle cx="335.6" cy="67.7" r="0.72"/><circle cx="337.2" cy="70.4" r="0.72"/><circle cx="338.1" cy="69.3" r="0.72"/><circle cx="339.6" cy="70.7" r="0.72"/><circle cx="340.1" cy="69.1" r="0.72"/><circle cx="341.7" cy="68.6" r="0.72"/><circle cx="343.1" cy="68.1" r="0.72"/><circle cx="343.9" cy="69.2" r="0.72"/><circle cx="344.9" cy="67.8" r="0.72"/><circle cx="346.4" cy="67.2" r="0.72"/><circle cx="347.2" cy="70" r="0.72"/><circle cx="348.6" cy="67.9" r="0.72"/><circle cx="349.6" cy="68.4" r="0.72"/><circle cx="350.5" cy="68.4" r="0.72"/><circle cx="352.1" cy="70.2" r="0.72"/><circle cx="352.9" cy="68.7" r="0.72"/><circle cx="354.1" cy="67.5" r="0.72"/><circle cx="355.4" cy="66.3" r="0.72"/><circle cx="356.1" cy="69.2" r="0.72"/><circle cx="357.7" cy="70.1" r="0.72"/><circle cx="358.9" cy="70.4" r="0.72"/><circle cx="360.2" cy="70.1" r="0.72"/><circle cx="360.9" cy="69.4" r="0.72"/><circle cx="362.1" cy="69.6" r="0.72"/><circle cx="363.2" cy="69.4" r="0.72"/><circle cx="364.3" cy="69.6" r="0.72"/><circle cx="365.8" cy="68.4" r="0.72"/><circle cx="367" cy="70.4" r="0.72"/><circle cx="367.8" cy="69.4" r="0.72"/><circle cx="368.8" cy="69.6" r="0.72"/><circle cx="369.8" cy="68.3" r="0.72"/><circle cx="371.1" cy="71.2" r="0.72"/><circle cx="372.3" cy="68.6" r="0.72"/><circle cx="373.7" cy="68.6" r="0.72"/><circle cx="375" cy="68.4" r="0.72"/><circle cx="376" cy="68.6" r="0.72"/><circle cx="376.7" cy="68.4" r="0.72"/><circle cx="378.1" cy="69.7" r="0.72"/><circle cx="379" cy="69.3" r="0.72"/><circle cx="380.2" cy="68.1" r="0.72"/><circle cx="381.7" cy="67.7" r="0.72"/><circle cx="382.9" cy="68.9" r="0.72"/><circle cx="383.7" cy="69" r="0.72"/><circle cx="384.6" cy="68.7" r="0.72"/><circle cx="386.3" cy="69.3" r="0.72"/><circle cx="387.2" cy="69.2" r="0.72"/><circle cx="388.4" cy="69.2" r="0.72"/><circle cx="389.4" cy="68.8" r="0.72"/><circle cx="390.5" cy="68" r="0.72"/><circle cx="392.1" cy="69" r="0.72"/><circle cx="393.2" cy="69.3" r="0.72"/><circle cx="394.3" cy="69" r="0.72"/><circle cx="394.9" cy="69.2" r="0.72"/><circle cx="396" cy="68.8" r="0.72"/><circle cx="397.4" cy="66.8" r="0.72"/><circle cx="398.7" cy="65.9" r="0.72"/><circle cx="400.1" cy="66.8" r="0.72"/><circle cx="401" cy="68.9" r="0.72"/><circle cx="402" cy="68.1" r="0.72"/><circle cx="402.9" cy="69.8" r="0.72"/><circle cx="404.4" cy="69.4" r="0.72"/><circle cx="405.6" cy="67.7" r="0.72"/><circle cx="406.8" cy="70" r="0.72"/><circle cx="408" cy="69.1" r="0.72"/><circle cx="408.6" cy="68.2" r="0.72"/><circle cx="409.8" cy="68.1" r="0.72"/><circle cx="411.5" cy="68.8" r="0.72"/><circle cx="412.3" cy="67.3" r="0.72"/><circle cx="413.5" cy="68.7" r="0.72"/><circle cx="414.5" cy="66.6" r="0.72"/><circle cx="416" cy="68.3" r="0.72"/><circle cx="416.9" cy="68.4" r="0.72"/><circle cx="417.7" cy="68.1" r="0.72"/><circle cx="419" cy="68.6" r="0.72"/><circle cx="420.5" cy="69.6" r="0.72"/><circle cx="421.4" cy="69.2" r="0.72"/><circle cx="422.6" cy="68" r="0.72"/><circle cx="423.5" cy="67.3" r="0.72"/><circle cx="425" cy="67.9" r="0.72"/><circle cx="425.8" cy="68" r="0.72"/><circle cx="427.2" cy="68.4" r="0.72"/><circle cx="428.7" cy="68.4" r="0.72"/><circle cx="267.9" cy="60.8" r="0.72"/><circle cx="266.3" cy="88.5" r="0.72"/><circle cx="343.7" cy="55.9" r="0.72"/><circle cx="358" cy="62.7" r="0.72"/></g>
<g fill="#000000"><circle cx="260.4" cy="65.1" r="0.72"/><circle cx="262.2" cy="64.2" r="0.72"/><circle cx="262.9" cy="66.7" r="0.72"/><circle cx="264.9" cy="69.9" r="0.72"/><circle cx="265.6" cy="66.2" r="0.72"/><circle cx="267" cy="66.3" r="0.72"/><circle cx="268.9" cy="65.5" r="0.72"/><circle cx="269.6" cy="68" r="0.72"/><circle cx="271.2" cy="67" r="0.72"/><circle cx="272.8" cy="64.7" r="0.72"/><circle cx="285.7" cy="63.8" r="0.72"/><circle cx="286.8" cy="58.4" r="0.72"/><circle cx="288" cy="61.9" r="0.72"/><circle cx="289" cy="65.1" r="0.72"/><circle cx="290.4" cy="58.7" r="0.72"/><circle cx="291.4" cy="58.4" r="0.72"/><circle cx="292.5" cy="57.8" r="0.72"/><circle cx="293.7" cy="58.9" r="0.72"/><circle cx="295.2" cy="58.7" r="0.72"/><circle cx="295.9" cy="60" r="0.72"/><circle cx="297.1" cy="59.9" r="0.72"/><circle cx="298.4" cy="57.1" r="0.72"/><circle cx="299.7" cy="59.9" r="0.72"/><circle cx="300.3" cy="54" r="0.72"/><circle cx="301.3" cy="51.8" r="0.72"/><circle cx="303" cy="54.8" r="0.72"/><circle cx="304.2" cy="49.8" r="0.72"/><circle cx="305" cy="50.7" r="0.72"/><circle cx="306.5" cy="52.1" r="0.72"/><circle cx="307.4" cy="55.1" r="0.72"/><circle cx="308.4" cy="58.5" r="0.72"/><circle cx="309.5" cy="50.5" r="0.72"/><circle cx="311.1" cy="47.1" r="0.72"/><circle cx="312.3" cy="54.1" r="0.72"/><circle cx="313.5" cy="45.9" r="0.72"/><circle cx="314" cy="41" r="0.72"/><circle cx="315.6" cy="50.8" r="0.72"/><circle cx="316.5" cy="55.3" r="0.72"/><circle cx="317.9" cy="66.2" r="0.72"/><circle cx="319.1" cy="70.5" r="0.72"/><circle cx="320.2" cy="70" r="0.72"/><circle cx="320.9" cy="69.2" r="0.72"/><circle cx="322.1" cy="77.8" r="0.72"/><circle cx="323.5" cy="65.7" r="0.72"/><circle cx="324.8" cy="67" r="0.72"/><circle cx="325.8" cy="67.8" r="0.72"/><circle cx="326.7" cy="68.4" r="0.72"/><circle cx="327.6" cy="66.8" r="0.72"/><circle cx="329" cy="71.1" r="0.72"/><circle cx="330.3" cy="67.1" r="0.72"/><circle cx="331.2" cy="65" r="0.72"/><circle cx="332.4" cy="65.9" r="0.72"/><circle cx="333.6" cy="66.1" r="0.72"/><circle cx="334.4" cy="64.7" r="0.72"/><circle cx="335.8" cy="64.9" r="0.72"/><circle cx="336.7" cy="63.9" r="0.72"/><circle cx="338.2" cy="61.7" r="0.72"/><circle cx="339.2" cy="63.2" r="0.72"/><circle cx="340.4" cy="63.4" r="0.72"/><circle cx="341.3" cy="63" r="0.72"/><circle cx="343" cy="63.8" r="0.72"/><circle cx="343.8" cy="62.9" r="0.72"/><circle cx="345.2" cy="64" r="0.72"/><circle cx="346.4" cy="62" r="0.72"/><circle cx="347.6" cy="62.1" r="0.72"/><circle cx="348.4" cy="63.4" r="0.72"/><circle cx="349.6" cy="63.1" r="0.72"/><circle cx="351" cy="62.6" r="0.72"/><circle cx="352.2" cy="60.5" r="0.72"/><circle cx="353.1" cy="61.6" r="0.72"/><circle cx="354.2" cy="62" r="0.72"/><circle cx="355.3" cy="62.4" r="0.72"/><circle cx="356.3" cy="61.7" r="0.72"/><circle cx="357.6" cy="62.4" r="0.72"/><circle cx="358.4" cy="62.2" r="0.72"/><circle cx="360" cy="63.4" r="0.72"/><circle cx="360.8" cy="62.2" r="0.72"/><circle cx="361.9" cy="62.3" r="0.72"/><circle cx="363.5" cy="61" r="0.72"/><circle cx="364.2" cy="63.5" r="0.72"/><circle cx="365.2" cy="62.7" r="0.72"/><circle cx="366.4" cy="63.8" r="0.72"/><circle cx="368.2" cy="62.5" r="0.72"/><circle cx="369" cy="62.3" r="0.72"/><circle cx="370" cy="60.6" r="0.72"/><circle cx="371.6" cy="61" r="0.72"/><circle cx="372.1" cy="63" r="0.72"/><circle cx="373.7" cy="62" r="0.72"/><circle cx="374.4" cy="62.8" r="0.72"/><circle cx="375.8" cy="61.3" r="0.72"/><circle cx="376.9" cy="64.2" r="0.72"/><circle cx="378.4" cy="63.6" r="0.72"/><circle cx="379.6" cy="61.9" r="0.72"/><circle cx="380.2" cy="62.9" r="0.72"/><circle cx="381.5" cy="63.1" r="0.72"/><circle cx="382.5" cy="63.3" r="0.72"/><circle cx="384.2" cy="62.3" r="0.72"/><circle cx="384.6" cy="62.1" r="0.72"/><circle cx="385.9" cy="62.5" r="0.72"/><circle cx="386.9" cy="64.2" r="0.72"/><circle cx="388.2" cy="62.2" r="0.72"/><circle cx="389.8" cy="60.5" r="0.72"/><circle cx="390.5" cy="60.1" r="0.72"/><circle cx="392.2" cy="60.7" r="0.72"/><circle cx="393.1" cy="63.9" r="0.72"/><circle cx="394.3" cy="62" r="0.72"/><circle cx="395.2" cy="62.4" r="0.72"/><circle cx="396.5" cy="61" r="0.72"/><circle cx="397.3" cy="62.6" r="0.72"/><circle cx="399" cy="62.7" r="0.72"/><circle cx="399.5" cy="61.9" r="0.72"/><circle cx="401.3" cy="59.7" r="0.72"/><circle cx="402.4" cy="61.2" r="0.72"/><circle cx="403.4" cy="63.9" r="0.72"/><circle cx="404.4" cy="60.8" r="0.72"/><circle cx="405.7" cy="61.5" r="0.72"/><circle cx="406.9" cy="61.9" r="0.72"/><circle cx="407.9" cy="62.2" r="0.72"/><circle cx="408.9" cy="59.8" r="0.72"/><circle cx="410" cy="64.2" r="0.72"/><circle cx="411.3" cy="63" r="0.72"/><circle cx="412.2" cy="63.6" r="0.72"/><circle cx="413.6" cy="60.3" r="0.72"/><circle cx="414.8" cy="61.4" r="0.72"/><circle cx="416" cy="62.9" r="0.72"/><circle cx="416.8" cy="62.1" r="0.72"/><circle cx="418.2" cy="62.7" r="0.72"/><circle cx="418.8" cy="62.4" r="0.72"/><circle cx="420.2" cy="62.2" r="0.72"/><circle cx="421.2" cy="61.5" r="0.72"/><circle cx="422.5" cy="63" r="0.72"/><circle cx="423.8" cy="64.4" r="0.72"/><circle cx="424.5" cy="61.3" r="0.72"/><circle cx="426.2" cy="63.3" r="0.72"/><circle cx="427.2" cy="62.8" r="0.72"/><circle cx="427.9" cy="61.5" r="0.72"/><circle cx="266.3" cy="53.1" r="0.72"/><circle cx="316.9" cy="43.5" r="0.72"/><circle cx="339" cy="48.4" r="0.72"/><circle cx="359.5" cy="50.5" r="0.72"/><circle cx="356.4" cy="55.9" r="0.72"/><circle cx="408.5" cy="54.9" r="0.72"/><circle cx="418" cy="57.6" r="0.72"/></g>
<g fill="#ff0000"><circle cx="260.2" cy="85.4" r="1.2"/><circle cx="261.6" cy="85.9" r="1.2"/><circle cx="262.6" cy="83.3" r="1.2"/><circle cx="263.7" cy="85.5" r="1.2"/><circle cx="264.9" cy="83.1" r="1.2"/><circle cx="265.6" cy="82.5" r="1.2"/><circle cx="266.6" cy="81.3" r="1.2"/><circle cx="267.5" cy="82.4" r="1.2"/><circle cx="268.3" cy="80.6" r="1.2"/><circle cx="269.9" cy="81.3" r="1.2"/><circle cx="270.7" cy="79.1" r="1.2"/><circle cx="271.9" cy="80.4" r="1.2"/><circle cx="272.6" cy="78.3" r="1.2"/><circle cx="285.6" cy="78.8" r="1.2"/><circle cx="286.5" cy="77.5" r="1.2"/><circle cx="287.4" cy="78.3" r="1.2"/><circle cx="288.5" cy="77.7" r="1.2"/><circle cx="289.2" cy="77.9" r="1.2"/><circle cx="289.9" cy="79" r="1.2"/><circle cx="291.3" cy="78.7" r="1.2"/><circle cx="291.9" cy="77.7" r="1.2"/><circle cx="292.9" cy="78.3" r="1.2"/><circle cx="293.6" cy="77.5" r="1.2"/><circle cx="294.8" cy="78.1" r="1.2"/><circle cx="295.4" cy="79.2" r="1.2"/><circle cx="296.2" cy="78.1" r="1.2"/><circle cx="297.3" cy="77.5" r="1.2"/><circle cx="298" cy="77.8" r="1.2"/><circle cx="299.2" cy="78" r="1.2"/><circle cx="300" cy="78.5" r="1.2"/><circle cx="301" cy="75.4" r="1.2"/><circle cx="301.5" cy="75.5" r="1.2"/><circle cx="302.7" cy="73.9" r="1.2"/><circle cx="303.6" cy="77.2" r="1.2"/><circle cx="304.1" cy="76.2" r="1.2"/><circle cx="305.3" cy="75.5" r="1.2"/><circle cx="305.9" cy="74.1" r="1.2"/><circle cx="306.9" cy="75.2" r="1.2"/><circle cx="308.2" cy="75.1" r="1.2"/><circle cx="308.9" cy="74.7" r="1.2"/><circle cx="309.5" cy="74.7" r="1.2"/><circle cx="310.6" cy="74.1" r="1.2"/><circle cx="311.3" cy="75.7" r="1.2"/><circle cx="312.6" cy="76.2" r="1.2"/><circle cx="313.4" cy="74.1" r="1.2"/><circle cx="314.3" cy="74.9" r="1.2"/><circle cx="314.7" cy="74.9" r="1.2"/><circle cx="315.6" cy="74.7" r="1.2"/><circle cx="317" cy="73.7" r="1.2"/><circle cx="317.6" cy="74.1" r="1.2"/><circle cx="318.2" cy="75.4" r="1.2"/><circle cx="319.6" cy="76.9" r="1.2"/><circle cx="320.5" cy="77.9" r="1.2"/><circle cx="320.9" cy="77.1" r="1.2"/><circle cx="322.2" cy="76.5" r="1.2"/><circle cx="323.2" cy="77.5" r="1.2"/><circle cx="323.9" cy="76.6" r="1.2"/><circle cx="324.8" cy="76.5" r="1.2"/><circle cx="325.5" cy="77.1" r="1.2"/><circle cx="326.4" cy="78.2" r="1.2"/><circle cx="327.4" cy="77" r="1.2"/><circle cx="328.5" cy="76" r="1.2"/><circle cx="329" cy="76.5" r="1.2"/><circle cx="329.8" cy="77.2" r="1.2"/><circle cx="330.6" cy="75" r="1.2"/><circle cx="332.1" cy="76.4" r="1.2"/><circle cx="332.7" cy="75.5" r="1.2"/><circle cx="333.3" cy="75.7" r="1.2"/><circle cx="334.5" cy="77.1" r="1.2"/><circle cx="335.2" cy="76.9" r="1.2"/><circle cx="336" cy="75.3" r="1.2"/><circle cx="336.8" cy="74.8" r="1.2"/><circle cx="338" cy="75.7" r="1.2"/><circle cx="339.1" cy="74.5" r="1.2"/><circle cx="339.6" cy="74.4" r="1.2"/><circle cx="340.4" cy="75.7" r="1.2"/><circle cx="341.2" cy="76" r="1.2"/><circle cx="342.1" cy="75.7" r="1.2"/><circle cx="343.4" cy="74.4" r="1.2"/><circle cx="344.4" cy="73.3" r="1.2"/><circle cx="345.2" cy="74.5" r="1.2"/><circle cx="346.2" cy="73.9" r="1.2"/><circle cx="347.1" cy="73.4" r="1.2"/><circle cx="347.4" cy="74.8" r="1.2"/><circle cx="348.5" cy="74" r="1.2"/><circle cx="349.4" cy="74.4" r="1.2"/><circle cx="350.1" cy="73.6" r="1.2"/><circle cx="351" cy="74.6" r="1.2"/><circle cx="352.1" cy="73.8" r="1.2"/><circle cx="353.1" cy="73.2" r="1.2"/><circle cx="354" cy="73.2" r="1.2"/><circle cx="354.5" cy="73.4" r="1.2"/><circle cx="355.6" cy="73.8" r="1.2"/><circle cx="356.8" cy="74.5" r="1.2"/><circle cx="357.3" cy="75.1" r="1.2"/><circle cx="358" cy="73" r="1.2"/><circle cx="359.3" cy="75.2" r="1.2"/><circle cx="360.4" cy="74.2" r="1.2"/><circle cx="361.1" cy="73.8" r="1.2"/><circle cx="361.9" cy="73.3" r="1.2"/><circle cx="362.6" cy="74.2" r="1.2"/><circle cx="363.8" cy="73.9" r="1.2"/><circle cx="364.5" cy="73.4" r="1.2"/><circle cx="365.7" cy="73.7" r="1.2"/><circle cx="366.5" cy="73.2" r="1.2"/><circle cx="367.5" cy="74.3" r="1.2"/><circle cx="367.9" cy="74" r="1.2"/><circle cx="368.8" cy="75.6" r="1.2"/><circle cx="369.5" cy="73.5" r="1.2"/><circle cx="370.9" cy="73.4" r="1.2"/><circle cx="371.7" cy="74.1" r="1.2"/><circle cx="372.6" cy="73.6" r="1.2"/><circle cx="373.2" cy="72.9" r="1.2"/><circle cx="374.4" cy="72.8" r="1.2"/><circle cx="375.3" cy="73.4" r="1.2"/><circle cx="375.9" cy="74" r="1.2"/><circle cx="376.7" cy="73.8" r="1.2"/><circle cx="378" cy="73.5" r="1.2"/><circle cx="378.8" cy="73.2" r="1.2"/><circle cx="379.8" cy="74.4" r="1.2"/><circle cx="380.7" cy="72.8" r="1.2"/><circle cx="381.2" cy="74.8" r="1.2"/><circle cx="382.1" cy="72.2" r="1.2"/><circle cx="383.1" cy="73" r="1.2"/><circle cx="384.3" cy="73.6" r="1.2"/><circle cx="385.1" cy="72.6" r="1.2"/><circle cx="386.1" cy="73.3" r="1.2"/><circle cx="386.9" cy="75.1" r="1.2"/><circle cx="387.4" cy="73.6" r="1.2"/><circle cx="388.5" cy="73.5" r="1.2"/><circle cx="389.6" cy="73.8" r="1.2"/><circle cx="390.2" cy="73.3" r="1.2"/><circle cx="390.8" cy="73.6" r="1.2"/><circle cx="391.9" cy="73.2" r="1.2"/><circle cx="393.1" cy="73.4" r="1.2"/><circle cx="393.7" cy="73.5" r="1.2"/><circle cx="394.6" cy="67" r="1.2"/><circle cx="395.6" cy="67.8" r="1.2"/><circle cx="396.3" cy="67.8" r="1.2"/><circle cx="397" cy="67.6" r="1.2"/><circle cx="397.9" cy="67.5" r="1.2"/><circle cx="398.8" cy="67.8" r="1.2"/><circle cx="400.1" cy="69.5" r="1.2"/><circle cx="400.9" cy="69.2" r="1.2"/><circle cx="401.5" cy="68.4" r="1.2"/><circle cx="402.7" cy="66.6" r="1.2"/><circle cx="403.6" cy="68.3" r="1.2"/><circle cx="404.2" cy="68.3" r="1.2"/><circle cx="405.2" cy="67" r="1.2"/><circle cx="406.2" cy="69.7" r="1.2"/><circle cx="406.9" cy="67" r="1.2"/><circle cx="407.9" cy="67.7" r="1.2"/><circle cx="409.1" cy="67.8" r="1.2"/><circle cx="409.4" cy="67.4" r="1.2"/><circle cx="410.3" cy="67.4" r="1.2"/><circle cx="411.2" cy="69.5" r="1.2"/><circle cx="412" cy="68.4" r="1.2"/><circle cx="413.3" cy="68.2" r="1.2"/><circle cx="414.4" cy="67.9" r="1.2"/><circle cx="415.1" cy="68.5" r="1.2"/><circle cx="415.7" cy="67.8" r="1.2"/><circle cx="417" cy="68.4" r="1.2"/><circle cx="417.8" cy="67.2" r="1.2"/><circle cx="418.8" cy="68.2" r="1.2"/><circle cx="419.5" cy="67.8" r="1.2"/><circle cx="420.2" cy="66.6" r="1.2"/><circle cx="421" cy="66.7" r="1.2"/><circle cx="421.9" cy="67.5" r="1.2"/><circle cx="422.7" cy="67.7" r="1.2"/><circle cx="424" cy="68.2" r="1.2"/><circle cx="424.6" cy="69" r="1.2"/><circle cx="425.8" cy="66.3" r="1.2"/><circle cx="426.7" cy="66.6" r="1.2"/><circle cx="427.7" cy="67.9" r="1.2"/><circle cx="428.3" cy="68.4" r="1.2"/><circle cx="263.2" cy="93.4" r="1.2"/><circle cx="356.4" cy="81" r="1.2"/><circle cx="389.6" cy="77.9" r="1.2"/><circle cx="345.3" cy="78.5" r="1.2"/></g>
<g fill="#ff00ff"><circle cx="260.5" cy="36.5" r="0.72"/><circle cx="261.5" cy="40.5" r="0.72"/><circle cx="263.1" cy="42.3" r="0.72"/><circle cx="263.9" cy="31.3" r="0.72"/><circle cx="265.3" cy="35.1" r="0.72"/><circle cx="266.8" cy="41.2" r="0.72"/><circle cx="267.9" cy="37.6" r="0.72"/><circle cx="269" cy="38.7" r="0.72"/><circle cx="270.2" cy="42.3" r="0.72"/><circle cx="271.2" cy="35" r="0.72"/><circle cx="272.9" cy="36.7" r="0.72"/><circle cx="285.6" cy="36.2" r="0.72"/><circle cx="286.8" cy="34.1" r="0.72"/><circle cx="287.6" cy="31.7" r="0.72"/><circle cx="288.7" cy="33.5" r="0.72"/><circle cx="289.8" cy="31.3" r="0.72"/><circle cx="290.8" cy="29.7" r="0.72"/><circle cx="292.2" cy="29.5" r="0.72"/><circle cx="293.3" cy="27.3" r="0.72"/><circle cx="294.4" cy="36.9" r="0.72"/><circle cx="295.2" cy="31.2" r="0.72"/><circle cx="296.4" cy="32.8" r="0.72"/><circle cx="297.6" cy="34.1" r="0.72"/><circle cx="298.6" cy="26.7" r="0.72"/><circle cx="299.6" cy="32" r="0.72"/><circle cx="300.8" cy="26.9" r="0.72"/><circle cx="301.7" cy="21.6" r="0.72"/><circle cx="302.9" cy="25.5" r="0.72"/><circle cx="304.2" cy="27.3" r="0.72"/><circle cx="305.3" cy="37.1" r="0.72"/><circle cx="306.1" cy="24.7" r="0.72"/><circle cx="306.9" cy="24.4" r="0.72"/><circle cx="308.2" cy="24.7" r="0.72"/><circle cx="309.3" cy="29.8" r="0.72"/><circle cx="310.2" cy="29.3" r="0.72"/><circle cx="311.5" cy="29.1" r="0.72"/><circle cx="312.4" cy="28.2" r="0.72"/><circle cx="313.5" cy="30.4" r="0.72"/><circle cx="314.6" cy="35.8" r="0.72"/><circle cx="315.7" cy="40.4" r="0.72"/><circle cx="316.6" cy="33.5" r="0.72"/><circle cx="317.4" cy="38" r="0.72"/><circle cx="318.5" cy="36.6" r="0.72"/><circle cx="320.1" cy="35.6" r="0.72"/><circle cx="320.6" cy="34.3" r="0.72"/><circle cx="321.9" cy="42.7" r="0.72"/><circle cx="323.2" cy="46.9" r="0.72"/><circle cx="323.7" cy="42.8" r="0.72"/><circle cx="325.1" cy="45" r="0.72"/><circle cx="326.3" cy="42.1" r="0.72"/><circle cx="327.1" cy="40" r="0.72"/><circle cx="328.3" cy="39.2" r="0.72"/><circle cx="329.4" cy="40.1" r="0.72"/><circle cx="330.4" cy="42.4" r="0.72"/><circle cx="331.6" cy="39.6" r="0.72"/><circle cx="332.4" cy="35.4" r="0.72"/><circle cx="333.4" cy="38.4" r="0.72"/><circle cx="334.7" cy="36.7" r="0.72"/><circle cx="335.9" cy="37.1" r="0.72"/><circle cx="336.8" cy="36.4" r="0.72"/><circle cx="337.7" cy="34.5" r="0.72"/><circle cx="338.9" cy="37.5" r="0.72"/><circle cx="339.8" cy="33.1" r="0.72"/><circle cx="341.1" cy="37.8" r="0.72"/><circle cx="342.3" cy="32.6" r="0.72"/><circle cx="343" cy="30.1" r="0.72"/><circle cx="344.1" cy="32.9" r="0.72"/><circle cx="345.1" cy="33.1" r="0.72"/><circle cx="346.5" cy="34.9" r="0.72"/><circle cx="347.3" cy="31.4" r="0.72"/><circle cx="348.8" cy="33.9" r="0.72"/><circle cx="349.5" cy="34.9" r="0.72"/><circle cx="350.6" cy="30.8" r="0.72"/><circle cx="351.7" cy="37.6" r="0.72"/><circle cx="352.9" cy="34.6" r="0.72"/><circle cx="353.5" cy="32.1" r="0.72"/><circle cx="354.6" cy="32.6" r="0.72"/><circle cx="356.2" cy="32.6" r="0.72"/><circle cx="356.8" cy="32" r="0.72"/><circle cx="358.1" cy="32.3" r="0.72"/><circle cx="358.9" cy="32.9" r="0.72"/><circle cx="359.8" cy="30.7" r="0.72"/><circle cx="361.3" cy="31.9" r="0.72"/><circle cx="362.7" cy="35.2" r="0.72"/><circle cx="363.5" cy="36.1" r="0.72"/><circle cx="364.8" cy="33.3" r="0.72"/><circle cx="365.4" cy="34" r="0.72"/><circle cx="366.6" cy="28.6" r="0.72"/><circle cx="367.6" cy="29.3" r="0.72"/><circle cx="368.5" cy="36.6" r="0.72"/><circle cx="369.6" cy="32.3" r="0.72"/><circle cx="370.9" cy="31.1" r="0.72"/><circle cx="371.7" cy="31.6" r="0.72"/><circle cx="373" cy="33.1" r="0.72"/><circle cx="374.2" cy="33.9" r="0.72"/><circle cx="375.2" cy="32.4" r="0.72"/><circle cx="376" cy="39.8" r="0.72"/><circle cx="377.6" cy="34.9" r="0.72"/><circle cx="378" cy="31.6" r="0.72"/><circle cx="379" cy="33" r="0.72"/><circle cx="380.1" cy="33.1" r="0.72"/><circle cx="381.2" cy="33.7" r="0.72"/><circle cx="382.4" cy="32.6" r="0.72"/><circle cx="383.8" cy="33.4" r="0.72"/><circle cx="384.8" cy="31.8" r="0.72"/><circle cx="386.1" cy="33.9" r="0.72"/><circle cx="386.8" cy="33.8" r="0.72"/><circle cx="388" cy="29.9" r="0.72"/><circle cx="388.7" cy="35.2" r="0.72"/><circle cx="390.2" cy="30.7" r="0.72"/><circle cx="391.1" cy="30.8" r="0.72"/><circle cx="391.9" cy="33.1" r="0.72"/><circle cx="393.5" cy="31.9" r="0.72"/><circle cx="394.2" cy="29" r="0.72"/><circle cx="395.3" cy="35.9" r="0.72"/><circle cx="396.6" cy="33.1" r="0.72"/><circle cx="397.1" cy="30.6" r="0.72"/><circle cx="398.6" cy="27.6" r="0.72"/><circle cx="399.4" cy="32.1" r="0.72"/><circle cx="400.6" cy="31.7" r="0.72"/><circle cx="401.9" cy="28.4" r="0.72"/><circle cx="402.4" cy="32.8" r="0.72"/><circle cx="403.5" cy="29.8" r="0.72"/><circle cx="405" cy="30.2" r="0.72"/><circle cx="405.7" cy="27.8" r="0.72"/><circle cx="407.1" cy="33.2" r="0.72"/><circle cx="408" cy="28.7" r="0.72"/><circle cx="409.3" cy="31.1" r="0.72"/><circle cx="410.2" cy="30.4" r="0.72"/><circle cx="411.1" cy="31.7" r="0.72"/><circle cx="412.3" cy="24.9" r="0.72"/><circle cx="413.6" cy="28.3" r="0.72"/><circle cx="414.2" cy="27.5" r="0.72"/><circle cx="415.3" cy="29.8" r="0.72"/><circle cx="416.9" cy="29.7" r="0.72"/><circle cx="418" cy="30.3" r="0.72"/><circle cx="418.9" cy="29.8" r="0.72"/><circle cx="419.9" cy="26.4" r="0.72"/><circle cx="420.5" cy="29" r="0.72"/><circle cx="421.7" cy="29.4" r="0.72"/><circle cx="422.8" cy="33.9" r="0.72"/><circle cx="424" cy="29.2" r="0.72"/><circle cx="425.1" cy="33" r="0.72"/><circle cx="425.9" cy="28.8" r="0.72"/><circle cx="427.2" cy="29.5" r="0.72"/><circle cx="428.3" cy="33.2" r="0.72"/><circle cx="267.9" cy="54.9" r="0.72"/><circle cx="346.9" cy="18.1" r="0.72"/><circle cx="356.4" cy="19.9" r="0.72"/><circle cx="381.7" cy="19.9" r="0.72"/><circle cx="406.9" cy="20.7" r="0.72"/><circle cx="364.3" cy="39.9" r="0.72"/><circle cx="271.1" cy="46.4" r="0.72"/></g>
<g fill="#000000"><circle cx="258.7" cy="199.2" r="0.72"/><circle cx="259.7" cy="198.5" r="0.72"/><circle cx="261.4" cy="203.6" r="0.72"/><circle cx="262.7" cy="198.6" r="0.72"/><circle cx="263.7" cy="205.3" r="0.72"/><circle cx="264.8" cy="201.2" r="0.72"/><circle cx="266.1" cy="200.2" r="0.72"/><circle cx="267" cy="204.3" r="0.72"/><circle cx="268.6" cy="204.2" r="0.72"/><circle cx="269.6" cy="201.9" r="0.72"/><circle cx="271.1" cy="199.9" r="0.72"/><circle cx="284.1" cy="202.3" r="0.72"/><circle cx="285.3" cy="198.3" r="0.72"/><circle cx="286.5" cy="200.9" r="0.72"/><circle cx="287.7" cy="205.9" r="0.72"/><circle cx="288.8" cy="198.1" r="0.72"/><circle cx="289.6" cy="201.6" r="0.72"/><circle cx="290.9" cy="203.1" r="0.72"/><circle cx="291.8" cy="196.2" r="0.72"/><circle cx="292.9" cy="203.7" r="0.72"/><circle cx="293.6" cy="201.4" r="0.72"/><circle cx="294.9" cy="207.9" r="0.72"/><circle cx="295.9" cy="200" r="0.72"/><circle cx="297.5" cy="195.1" r="0.72"/><circle cx="298.1" cy="200" r="0.72"/><circle cx="299" cy="197.3" r="0.72"/><circle cx="300.3" cy="197.8" r="0.72"/><circle cx="301.9" cy="199.5" r="0.72"/><circle cx="302.9" cy="201.7" r="0.72"/><circle cx="303.5" cy="198.3" r="0.72"/><circle cx="304.7" cy="197.1" r="0.72"/><circle cx="305.9" cy="196.1" r="0.72"/><circle cx="307.1" cy="199.2" r="0.72"/><circle cx="307.8" cy="197.1" r="0.72"/><circle cx="309.2" cy="196.1" r="0.72"/><circle cx="310.3" cy="197.7" r="0.72"/><circle cx="311.6" cy="200.6" r="0.72"/><circle cx="312.5" cy="204.2" r="0.72"/><circle cx="313.2" cy="202.4" r="0.72"/><circle cx="314.4" cy="205.2" r="0.72"/><circle cx="315.9" cy="204.5" r="0.72"/><circle cx="316.8" cy="201.1" r="0.72"/><circle cx="317.7" cy="205.4" r="0.72"/><circle cx="318.6" cy="207.8" r="0.72"/><circle cx="320.2" cy="212.9" r="0.72"/><circle cx="321" cy="211.8" r="0.72"/><circle cx="322" cy="210.6" r="0.72"/><circle cx="323" cy="213.7" r="0.72"/><circle cx="324.1" cy="213.6" r="0.72"/><circle cx="325" cy="211.2" r="0.72"/><circle cx="326.6" cy="213.4" r="0.72"/><circle cx="327.4" cy="211.8" r="0.72"/><circle cx="328.7" cy="214.7" r="0.72"/><circle cx="329.5" cy="211.7" r="0.72"/><circle cx="331" cy="213.4" r="0.72"/><circle cx="331.6" cy="209.7" r="0.72"/><circle cx="332.6" cy="212.7" r="0.72"/><circle cx="334.1" cy="209.9" r="0.72"/><circle cx="334.9" cy="208.4" r="0.72"/><circle cx="336" cy="209.3" r="0.72"/><circle cx="337.1" cy="206.5" r="0.72"/><circle cx="338" cy="205.8" r="0.72"/><circle cx="339.5" cy="207.5" r="0.72"/><circle cx="340.4" cy="202.5" r="0.72"/><circle cx="341.7" cy="206.7" r="0.72"/><circle cx="342.9" cy="202.8" r="0.72"/><circle cx="343.6" cy="208.3" r="0.72"/><circle cx="344.8" cy="204.8" r="0.72"/><circle cx="345.7" cy="205.7" r="0.72"/><circle cx="347" cy="203.5" r="0.72"/><circle cx="347.7" cy="206.3" r="0.72"/><circle cx="349" cy="209.9" r="0.72"/><circle cx="350.3" cy="206.3" r="0.72"/><circle cx="351" cy="207.3" r="0.72"/><circle cx="352.4" cy="207.9" r="0.72"/><circle cx="353.3" cy="205" r="0.72"/><circle cx="354.3" cy="207.4" r="0.72"/><circle cx="355.4" cy="205.4" r="0.72"/><circle cx="356.5" cy="207.4" r="0.72"/><circle cx="357.8" cy="209.1" r="0.72"/><circle cx="358.5" cy="210.8" r="0.72"/><circle cx="359.8" cy="207.5" r="0.72"/><circle cx="361.1" cy="209.3" r="0.72"/><circle cx="362.2" cy="206.9" r="0.72"/><circle cx="362.9" cy="207.1" r="0.72"/><circle cx="364.1" cy="206.9" r="0.72"/><circle cx="365" cy="206.2" r="0.72"/><circle cx="366" cy="210.5" r="0.72"/><circle cx="367.2" cy="208.1" r="0.72"/><circle cx="368.2" cy="207.9" r="0.72"/><circle cx="369.3" cy="208.5" r="0.72"/><circle cx="370.7" cy="208.8" r="0.72"/><circle cx="371.8" cy="205" r="0.72"/><circle cx="372.9" cy="208.3" r="0.72"/><circle cx="374.2" cy="207.8" r="0.72"/><circle cx="374.9" cy="207.7" r="0.72"/><circle cx="376" cy="208.9" r="0.72"/><circle cx="377.2" cy="207.8" r="0.72"/><circle cx="378.6" cy="207.7" r="0.72"/><circle cx="379.7" cy="206.1" r="0.72"/><circle cx="380.6" cy="208.3" r="0.72"/><circle cx="381.6" cy="209.4" r="0.72"/><circle cx="382.7" cy="208.3" r="0.72"/><circle cx="383.6" cy="208.7" r="0.72"/><circle cx="384.6" cy="209" r="0.72"/><circle cx="385.5" cy="208.4" r="0.72"/><circle cx="386.7" cy="210.6" r="0.72"/><circle cx="388.2" cy="210.2" r="0.72"/><circle cx="389" cy="209.1" r="0.72"/><circle cx="389.8" cy="208.6" r="0.72"/><circle cx="391.6" cy="209" r="0.72"/><circle cx="392.6" cy="213.3" r="0.72"/><circle cx="393.4" cy="210.6" r="0.72"/><circle cx="394.6" cy="208.1" r="0.72"/><circle cx="395.6" cy="208.6" r="0.72"/><circle cx="396.6" cy="210.7" r="0.72"/><circle cx="397.8" cy="211.3" r="0.72"/><circle cx="398.6" cy="211.9" r="0.72"/><circle cx="399.9" cy="210.1" r="0.72"/><circle cx="400.6" cy="210.2" r="0.72"/><circle cx="401.8" cy="207.7" r="0.72"/><circle cx="403.1" cy="208.3" r="0.72"/><circle cx="404.4" cy="210.9" r="0.72"/><circle cx="405.5" cy="209.3" r="0.72"/><circle cx="406.3" cy="211.5" r="0.72"/><circle cx="407.6" cy="209.4" r="0.72"/><circle cx="408.3" cy="211.1" r="0.72"/><circle cx="409.6" cy="212" r="0.72"/><circle cx="410.7" cy="215.2" r="0.72"/><circle cx="411.9" cy="209.5" r="0.72"/><circle cx="413.1" cy="210.6" r="0.72"/><circle cx="414" cy="214" r="0.72"/><circle cx="414.9" cy="211.8" r="0.72"/><circle cx="415.8" cy="210.9" r="0.72"/><circle cx="417.2" cy="209.1" r="0.72"/><circle cx="417.9" cy="214.5" r="0.72"/><circle cx="419.4" cy="214.3" r="0.72"/><circle cx="420.1" cy="211.1" r="0.72"/><circle cx="421.5" cy="212.5" r="0.72"/><circle cx="422.5" cy="211.5" r="0.72"/><circle cx="423.4" cy="211" r="0.72"/><circle cx="424.5" cy="209.8" r="0.72"/><circle cx="425.9" cy="211.7" r="0.72"/><circle cx="426.7" cy="210.6" r="0.72"/><circle cx="427.9" cy="213" r="0.72"/><circle cx="429.4" cy="213.6" r="0.72"/><circle cx="262.9" cy="191.3" r="0.72"/><circle cx="311.1" cy="191.3" r="0.72"/><circle cx="359.2" cy="192" r="0.72"/><circle cx="376.9" cy="201.6" r="0.72"/><circle cx="343.2" cy="193.2" r="0.72"/><circle cx="413.8" cy="206.3" r="0.72"/></g>
<g fill="#00ff00"><circle cx="258.8" cy="210.8" r="0.72"/><circle cx="259.7" cy="205.1" r="0.72"/><circle cx="261.2" cy="207.2" r="0.72"/><circle cx="262.4" cy="206" r="0.72"/><circle cx="263.3" cy="206.4" r="0.72"/><circle cx="265" cy="211.7" r="0.72"/><circle cx="265.7" cy="211.7" r="0.72"/><circle cx="267.1" cy="209.6" r="0.72"/><circle cx="268.1" cy="210.7" r="0.72"/><circle cx="269.6" cy="207.6" r="0.72"/><circle cx="270.7" cy="212.6" r="0.72"/><circle cx="284.5" cy="204.8" r="0.72"/><circle cx="285.1" cy="210" r="0.72"/><circle cx="286.6" cy="205.3" r="0.72"/><circle cx="287.4" cy="206.8" r="0.72"/><circle cx="288.9" cy="205.4" r="0.72"/><circle cx="289.8" cy="206.5" r="0.72"/><circle cx="290.9" cy="207" r="0.72"/><circle cx="292.1" cy="205.9" r="0.72"/><circle cx="293.3" cy="204.2" r="0.72"/><circle cx="293.7" cy="208.6" r="0.72"/><circle cx="295.2" cy="209.6" r="0.72"/><circle cx="296.3" cy="210.6" r="0.72"/><circle cx="297.2" cy="203.6" r="0.72"/><circle cx="298.3" cy="205.6" r="0.72"/><circle cx="299.5" cy="203.3" r="0.72"/><circle cx="300.8" cy="206.9" r="0.72"/><circle cx="301.4" cy="199.7" r="0.72"/><circle cx="302.5" cy="206.7" r="0.72"/><circle cx="303.4" cy="206.4" r="0.72"/><circle cx="305.1" cy="205.7" r="0.72"/><circle cx="305.9" cy="204.4" r="0.72"/><circle cx="306.7" cy="207.8" r="0.72"/><circle cx="308.2" cy="205.3" r="0.72"/><circle cx="308.9" cy="203.1" r="0.72"/><circle cx="310.1" cy="204" r="0.72"/><circle cx="311.1" cy="206.9" r="0.72"/><circle cx="312" cy="204" r="0.72"/><circle cx="313.7" cy="211" r="0.72"/><circle cx="314.7" cy="206.5" r="0.72"/><circle cx="315.6" cy="208.7" r="0.72"/><circle cx="316.5" cy="210.1" r="0.72"/><circle cx="317.4" cy="212.8" r="0.72"/><circle cx="318.8" cy="213.1" r="0.72"/><circle cx="320" cy="214.8" r="0.72"/><circle cx="321.1" cy="216.9" r="0.72"/><circle cx="322.1" cy="217.1" r="0.72"/><circle cx="323.2" cy="217.5" r="0.72"/><circle cx="324" cy="216" r="0.72"/><circle cx="325.3" cy="219" r="0.72"/><circle cx="326.5" cy="215.9" r="0.72"/><circle cx="327.3" cy="218.7" r="0.72"/><circle cx="328.7" cy="218.1" r="0.72"/><circle cx="329.4" cy="219.4" r="0.72"/><circle cx="330.9" cy="218.3" r="0.72"/><circle cx="331.8" cy="212.1" r="0.72"/><circle cx="333.1" cy="218.8" r="0.72"/><circle cx="333.9" cy="216" r="0.72"/><circle cx="334.8" cy="212.6" r="0.72"/><circle cx="335.9" cy="212.1" r="0.72"/><circle cx="337.1" cy="211.9" r="0.72"/><circle cx="338.6" cy="211.7" r="0.72"/><circle cx="339.2" cy="214.5" r="0.72"/><circle cx="340.3" cy="211.6" r="0.72"/><circle cx="341.8" cy="212.2" r="0.72"/><circle cx="342.5" cy="207.6" r="0.72"/><circle cx="343.6" cy="212.4" r="0.72"/><circle cx="345" cy="217.1" r="0.72"/><circle cx="345.5" cy="211.4" r="0.72"/><circle cx="346.9" cy="213.1" r="0.72"/><circle cx="348.3" cy="213.3" r="0.72"/><circle cx="349" cy="213.4" r="0.72"/><circle cx="349.8" cy="213.8" r="0.72"/><circle cx="350.9" cy="212.2" r="0.72"/><circle cx="352.6" cy="217.4" r="0.72"/><circle cx="353.4" cy="210.9" r="0.72"/><circle cx="354.5" cy="211.9" r="0.72"/><circle cx="355.8" cy="215.1" r="0.72"/><circle cx="356.4" cy="215.3" r="0.72"/><circle cx="357.5" cy="212" r="0.72"/><circle cx="358.6" cy="212.8" r="0.72"/><circle cx="360.2" cy="210.9" r="0.72"/><circle cx="360.7" cy="212.9" r="0.72"/><circle cx="361.8" cy="212.7" r="0.72"/><circle cx="363.2" cy="214.5" r="0.72"/><circle cx="364.3" cy="215.2" r="0.72"/><circle cx="365" cy="213" r="0.72"/><circle cx="366.5" cy="215.7" r="0.72"/><circle cx="367.7" cy="212.4" r="0.72"/><circle cx="368.2" cy="215.5" r="0.72"/><circle cx="369.9" cy="213.4" r="0.72"/><circle cx="370.8" cy="213.6" r="0.72"/><circle cx="371.4" cy="212.4" r="0.72"/><circle cx="372.9" cy="213.4" r="0.72"/><circle cx="373.9" cy="213.9" r="0.72"/><circle cx="375" cy="213.8" r="0.72"/><circle cx="376" cy="212.1" r="0.72"/><circle cx="377.3" cy="211.2" r="0.72"/><circle cx="378.2" cy="213.4" r="0.72"/><circle cx="379.1" cy="215.1" r="0.72"/><circle cx="380.1" cy="212.1" r="0.72"/><circle cx="381.8" cy="214.2" r="0.72"/><circle cx="382.3" cy="212.8" r="0.72"/><circle cx="383.6" cy="213.5" r="0.72"/><circle cx="384.5" cy="214.9" r="0.72"/><circle cx="385.9" cy="215.3" r="0.72"/><circle cx="386.7" cy="215.5" r="0.72"/><circle cx="388.1" cy="214.9" r="0.72"/><circle cx="389.2" cy="214.6" r="0.72"/><circle cx="390.4" cy="214" r="0.72"/><circle cx="391" cy="218.4" r="0.72"/><circle cx="392.2" cy="217.3" r="0.72"/><circle cx="393.5" cy="216.9" r="0.72"/><circle cx="394.5" cy="215.5" r="0.72"/><circle cx="395.2" cy="214.4" r="0.72"/><circle cx="396.3" cy="216.4" r="0.72"/><circle cx="398" cy="216.3" r="0.72"/><circle cx="399.1" cy="213.3" r="0.72"/><circle cx="400" cy="212.6" r="0.72"/><circle cx="400.6" cy="217.5" r="0.72"/><circle cx="401.9" cy="215.2" r="0.72"/><circle cx="402.8" cy="216.4" r="0.72"/><circle cx="404.1" cy="216.2" r="0.72"/><circle cx="405.3" cy="216.1" r="0.72"/><circle cx="406.6" cy="212.7" r="0.72"/><circle cx="407.4" cy="216.2" r="0.72"/><circle cx="408.7" cy="218.3" r="0.72"/><circle cx="409.8" cy="218.6" r="0.72"/><circle cx="410.6" cy="214.6" r="0.72"/><circle cx="411.5" cy="217.7" r="0.72"/><circle cx="413" cy="216.6" r="0.72"/><circle cx="413.7" cy="220.3" r="0.72"/><circle cx="415.1" cy="217.1" r="0.72"/><circle cx="416.4" cy="217.7" r="0.72"/><circle cx="417.3" cy="220" r="0.72"/><circle cx="418.4" cy="215.3" r="0.72"/><circle cx="419.4" cy="218.6" r="0.72"/><circle cx="420.4" cy="221.6" r="0.72"/><circle cx="421.3" cy="218.5" r="0.72"/><circle cx="422.3" cy="219.1" r="0.72"/><circle cx="423.8" cy="217.7" r="0.72"/><circle cx="424.8" cy="216.6" r="0.72"/><circle cx="425.9" cy="217.8" r="0.72"/><circle cx="426.8" cy="218.7" r="0.72"/><circle cx="427.7" cy="219.7" r="0.72"/><circle cx="429.2" cy="217.3" r="0.72"/><circle cx="265.3" cy="224.7" r="0.72"/><circle cx="270.1" cy="222.9" r="0.72"/><circle cx="359.2" cy="197.8" r="0.72"/><circle cx="376.9" cy="207.2" r="0.72"/></g>
<g fill="#0000ff"><circle cx="258.7" cy="215.8" r="0.72"/><circle cx="259.9" cy="219.5" r="0.72"/><circle cx="261.4" cy="216" r="0.72"/><circle cx="262.6" cy="221.3" r="0.72"/><circle cx="263.7" cy="213.8" r="0.72"/><circle cx="265" cy="215" r="0.72"/><circle cx="265.8" cy="216.3" r="0.72"/><circle cx="267" cy="213.4" r="0.72"/><circle cx="268.3" cy="223.1" r="0.72"/><circle cx="269.7" cy="212.8" r="0.72"/><circle cx="271" cy="220" r="0.72"/><circle cx="284.6" cy="207" r="0.72"/><circle cx="285.2" cy="209.4" r="0.72"/><circle cx="286.5" cy="213.8" r="0.72"/><circle cx="287.4" cy="216.5" r="0.72"/><circle cx="288.9" cy="211.6" r="0.72"/><circle cx="289.4" cy="222.2" r="0.72"/><circle cx="290.8" cy="214.4" r="0.72"/><circle cx="292" cy="221.7" r="0.72"/><circle cx="292.7" cy="212.3" r="0.72"/><circle cx="293.8" cy="212.7" r="0.72"/><circle cx="295.1" cy="214.6" r="0.72"/><circle cx="295.8" cy="212.2" r="0.72"/><circle cx="297.4" cy="212.2" r="0.72"/><circle cx="298.3" cy="212.9" r="0.72"/><circle cx="299.7" cy="211.9" r="0.72"/><circle cx="300.7" cy="206.3" r="0.72"/><circle cx="301.2" cy="205.5" r="0.72"/><circle cx="302.8" cy="213.2" r="0.72"/><circle cx="303.6" cy="216.8" r="0.72"/><circle cx="304.5" cy="208.9" r="0.72"/><circle cx="305.6" cy="214.3" r="0.72"/><circle cx="306.7" cy="215.3" r="0.72"/><circle cx="307.8" cy="214.7" r="0.72"/><circle cx="309.2" cy="207.9" r="0.72"/><circle cx="310.3" cy="207.3" r="0.72"/><circle cx="311.3" cy="209.1" r="0.72"/><circle cx="312.5" cy="210.4" r="0.72"/><circle cx="313.3" cy="212" r="0.72"/><circle cx="314.4" cy="215.5" r="0.72"/><circle cx="315.3" cy="214.2" r="0.72"/><circle cx="316.8" cy="215" r="0.72"/><circle cx="318.1" cy="219.4" r="0.72"/><circle cx="318.6" cy="220.4" r="0.72"/><circle cx="320.2" cy="221.7" r="0.72"/><circle cx="321.1" cy="224.4" r="0.72"/><circle cx="322.4" cy="224.5" r="0.72"/><circle cx="322.9" cy="222.6" r="0.72"/><circle cx="324.3" cy="221.8" r="0.72"/><circle cx="325.1" cy="222.8" r="0.72"/><circle cx="326" cy="224.1" r="0.72"/><circle cx="327.8" cy="221.3" r="0.72"/><circle cx="328.6" cy="221" r="0.72"/><circle cx="329.3" cy="221.4" r="0.72"/><circle cx="330.4" cy="224.5" r="0.72"/><circle cx="331.9" cy="219.3" r="0.72"/><circle cx="332.6" cy="219" r="0.72"/><circle cx="333.8" cy="222.5" r="0.72"/><circle cx="335.2" cy="218.6" r="0.72"/><circle cx="336.4" cy="219.4" r="0.72"/><circle cx="337" cy="216.7" r="0.72"/><circle cx="338.5" cy="218.3" r="0.72"/><circle cx="339.1" cy="216.5" r="0.72"/><circle cx="340.4" cy="216.5" r="0.72"/><circle cx="341.8" cy="219.5" r="0.72"/><circle cx="342.6" cy="219.1" r="0.72"/><circle cx="343.6" cy="218.6" r="0.72"/><circle cx="344.9" cy="216.2" r="0.72"/><circle cx="345.7" cy="217.1" r="0.72"/><circle cx="346.8" cy="218.9" r="0.72"/><circle cx="348.1" cy="217.3" r="0.72"/><circle cx="348.7" cy="218.4" r="0.72"/><circle cx="349.9" cy="217.1" r="0.72"/><circle cx="351.5" cy="220.3" r="0.72"/><circle cx="352" cy="222.6" r="0.72"/><circle cx="353.2" cy="219.9" r="0.72"/><circle cx="354.7" cy="217" r="0.72"/><circle cx="355.8" cy="219" r="0.72"/><circle cx="356.3" cy="219.5" r="0.72"/><circle cx="357.6" cy="219.5" r="0.72"/><circle cx="358.7" cy="219.3" r="0.72"/><circle cx="359.6" cy="218.5" r="0.72"/><circle cx="360.8" cy="220.5" r="0.72"/><circle cx="361.8" cy="219" r="0.72"/><circle cx="363.1" cy="220.4" r="0.72"/><circle cx="364" cy="219.6" r="0.72"/><circle cx="365.5" cy="213.6" r="0.72"/><circle cx="366.5" cy="223.1" r="0.72"/><circle cx="367.8" cy="215.8" r="0.72"/><circle cx="368.6" cy="219.9" r="0.72"/><circle cx="369.6" cy="219.5" r="0.72"/><circle cx="370.7" cy="215.7" r="0.72"/><circle cx="372" cy="225.5" r="0.72"/><circle cx="372.7" cy="217.6" r="0.72"/><circle cx="373.6" cy="220.5" r="0.72"/><circle cx="374.8" cy="217" r="0.72"/><circle cx="376.3" cy="221.3" r="0.72"/><circle cx="377.3" cy="216" r="0.72"/><circle cx="378.1" cy="219.8" r="0.72"/><circle cx="379.5" cy="222.7" r="0.72"/><circle cx="380.4" cy="221.1" r="0.72"/><circle cx="381.8" cy="219.7" r="0.72"/><circle cx="382.8" cy="222.3" r="0.72"/><circle cx="383.4" cy="221.7" r="0.72"/><circle cx="384.4" cy="219.4" r="0.72"/><circle cx="385.7" cy="215.8" r="0.72"/><circle cx="387.1" cy="220.9" r="0.72"/><circle cx="388" cy="219.6" r="0.72"/><circle cx="389.3" cy="220.6" r="0.72"/><circle cx="390" cy="219.6" r="0.72"/><circle cx="391.3" cy="220.3" r="0.72"/><circle cx="392" cy="223.3" r="0.72"/><circle cx="393.6" cy="220" r="0.72"/><circle cx="394.4" cy="220.3" r="0.72"/><circle cx="395.7" cy="222" r="0.72"/><circle cx="396.3" cy="220" r="0.72"/><circle cx="397.5" cy="223.4" r="0.72"/><circle cx="399" cy="221.6" r="0.72"/><circle cx="400.1" cy="223.2" r="0.72"/><circle cx="401.3" cy="224.7" r="0.72"/><circle cx="402.2" cy="220" r="0.72"/><circle cx="403.2" cy="223.9" r="0.72"/><circle cx="404.4" cy="221.6" r="0.72"/><circle cx="405.5" cy="222.1" r="0.72"/><circle cx="406.4" cy="223" r="0.72"/><circle cx="407.6" cy="222.8" r="0.72"/><circle cx="408.8" cy="222.5" r="0.72"/><circle cx="409.8" cy="223.3" r="0.72"/><circle cx="410.6" cy="224.6" r="0.72"/><circle cx="412" cy="220.4" r="0.72"/><circle cx="413" cy="221.3" r="0.72"/><circle cx="413.9" cy="220.5" r="0.72"/><circle cx="415.3" cy="223.9" r="0.72"/><circle cx="415.8" cy="224.5" r="0.72"/><circle cx="417.1" cy="222.3" r="0.72"/><circle cx="418.4" cy="219" r="0.72"/><circle cx="419.6" cy="223.5" r="0.72"/><circle cx="420.7" cy="223.7" r="0.72"/><circle cx="421.2" cy="226.5" r="0.72"/><circle cx="422.5" cy="224.3" r="0.72"/><circle cx="423.9" cy="223.4" r="0.72"/><circle cx="424.6" cy="223.5" r="0.72"/><circle cx="425.8" cy="222.7" r="0.72"/><circle cx="426.7" cy="221" r="0.72"/><circle cx="427.9" cy="224.5" r="0.72"/><circle cx="428.8" cy="220.8" r="0.72"/><circle cx="265.3" cy="228.2" r="0.72"/><circle cx="270.1" cy="227.5" r="0.72"/><circle cx="359.2" cy="201.6" r="0.72"/></g>
<g fill="#ff00ff"><circle cx="258.6" cy="173.1" r="0.72"/><circle cx="260.1" cy="186.4" r="0.72"/><circle cx="261.2" cy="169.8" r="0.72"/><circle cx="263" cy="175.4" r="0.72"/><circle cx="264.6" cy="181.8" r="0.72"/><circle cx="266.2" cy="180.2" r="0.72"/><circle cx="267.5" cy="169.6" r="0.72"/><circle cx="269.4" cy="181.6" r="0.72"/><circle cx="271.2" cy="186.8" r="0.72"/><circle cx="284.4" cy="174.7" r="0.72"/><circle cx="285.7" cy="175.3" r="0.72"/><circle cx="287.1" cy="178.1" r="0.72"/><circle cx="288.4" cy="177" r="0.72"/><circle cx="290" cy="177.6" r="0.72"/><circle cx="291.1" cy="174.9" r="0.72"/><circle cx="292.1" cy="176.2" r="0.72"/><circle cx="293.8" cy="176.5" r="0.72"/><circle cx="295.4" cy="176.8" r="0.72"/><circle cx="296.8" cy="181.8" r="0.72"/><circle cx="298.1" cy="175.6" r="0.72"/><circle cx="299.6" cy="169.5" r="0.72"/><circle cx="300.9" cy="175.7" r="0.72"/><circle cx="301.7" cy="176.5" r="0.72"/><circle cx="302.8" cy="173.9" r="0.72"/><circle cx="304.7" cy="170.5" r="0.72"/><circle cx="306.1" cy="178.1" r="0.72"/><circle cx="306.8" cy="178.5" r="0.72"/><circle cx="308.3" cy="170.2" r="0.72"/><circle cx="310.4" cy="171.1" r="0.72"/><circle cx="311.3" cy="173.1" r="0.72"/><circle cx="312.5" cy="179.6" r="0.72"/><circle cx="314.3" cy="183.6" r="0.72"/><circle cx="315.5" cy="180.5" r="0.72"/><circle cx="316.9" cy="183.1" r="0.72"/><circle cx="318.5" cy="186.2" r="0.72"/><circle cx="319.3" cy="188.8" r="0.72"/><circle cx="320.9" cy="181.1" r="0.72"/><circle cx="322.3" cy="193.5" r="0.72"/><circle cx="323.4" cy="190.6" r="0.72"/><circle cx="324.6" cy="189.2" r="0.72"/><circle cx="326.4" cy="184.3" r="0.72"/><circle cx="327.2" cy="182.6" r="0.72"/><circle cx="329.4" cy="182" r="0.72"/><circle cx="330.5" cy="185" r="0.72"/><circle cx="331.3" cy="186.1" r="0.72"/><circle cx="333" cy="180" r="0.72"/><circle cx="333.9" cy="182" r="0.72"/><circle cx="335.3" cy="180" r="0.72"/><circle cx="337" cy="175.9" r="0.72"/><circle cx="338.1" cy="173.6" r="0.72"/><circle cx="340.2" cy="176.2" r="0.72"/><circle cx="341.5" cy="177.8" r="0.72"/><circle cx="342.2" cy="179.6" r="0.72"/><circle cx="344.1" cy="178.2" r="0.72"/><circle cx="345.3" cy="179.4" r="0.72"/><circle cx="346.9" cy="176.3" r="0.72"/><circle cx="347.7" cy="181.8" r="0.72"/><circle cx="349.4" cy="176.2" r="0.72"/><circle cx="351" cy="182.4" r="0.72"/><circle cx="352.2" cy="180.1" r="0.72"/><circle cx="353.2" cy="184.3" r="0.72"/><circle cx="354.7" cy="178.8" r="0.72"/><circle cx="355.5" cy="182.5" r="0.72"/><circle cx="357.3" cy="179.1" r="0.72"/><circle cx="358.7" cy="183.8" r="0.72"/><circle cx="360.4" cy="181.3" r="0.72"/><circle cx="361.6" cy="182.9" r="0.72"/><circle cx="363.1" cy="176.5" r="0.72"/><circle cx="364" cy="181.3" r="0.72"/><circle cx="365.8" cy="179.6" r="0.72"/><circle cx="366.6" cy="181.4" r="0.72"/><circle cx="367.9" cy="183.6" r="0.72"/><circle cx="369.6" cy="184.7" r="0.72"/><circle cx="371.2" cy="180.3" r="0.72"/><circle cx="372.1" cy="180.5" r="0.72"/><circle cx="373.8" cy="182.1" r="0.72"/><circle cx="375.3" cy="188.1" r="0.72"/><circle cx="376.3" cy="181.9" r="0.72"/><circle cx="377.6" cy="185.6" r="0.72"/><circle cx="379.1" cy="179.3" r="0.72"/><circle cx="380" cy="184.9" r="0.72"/><circle cx="381.2" cy="182.8" r="0.72"/><circle cx="382.7" cy="185.5" r="0.72"/><circle cx="384.7" cy="181.7" r="0.72"/><circle cx="385.4" cy="183.1" r="0.72"/><circle cx="387.2" cy="182.8" r="0.72"/><circle cx="388.8" cy="182.8" r="0.72"/><circle cx="389.5" cy="179.5" r="0.72"/><circle cx="390.8" cy="186.5" r="0.72"/><circle cx="392.7" cy="186.6" r="0.72"/><circle cx="393.8" cy="183.7" r="0.72"/><circle cx="395.1" cy="181.9" r="0.72"/><circle cx="396.4" cy="178.4" r="0.72"/><circle cx="398.3" cy="178.2" r="0.72"/><circle cx="398.8" cy="181.6" r="0.72"/><circle cx="400.8" cy="180.9" r="0.72"/><circle cx="402.1" cy="183.3" r="0.72"/><circle cx="403.2" cy="179.1" r="0.72"/><circle cx="404.7" cy="181.2" r="0.72"/><circle cx="406.3" cy="181.6" r="0.72"/><circle cx="407.1" cy="182.6" r="0.72"/><circle cx="409" cy="182.5" r="0.72"/><circle cx="410" cy="182.9" r="0.72"/><circle cx="411.3" cy="180.7" r="0.72"/><circle cx="412.6" cy="186.5" r="0.72"/><circle cx="414.4" cy="185.4" r="0.72"/><circle cx="415.7" cy="180.4" r="0.72"/><circle cx="416.5" cy="185.3" r="0.72"/><circle cx="418.2" cy="182.8" r="0.72"/><circle cx="419.6" cy="184.1" r="0.72"/><circle cx="420.9" cy="185.3" r="0.72"/><circle cx="422.6" cy="184" r="0.72"/><circle cx="423.3" cy="184.6" r="0.72"/><circle cx="424.8" cy="181.5" r="0.72"/><circle cx="426.7" cy="184.1" r="0.72"/><circle cx="428.1" cy="184.2" r="0.72"/><circle cx="429.3" cy="185.5" r="0.72"/><circle cx="270.1" cy="194.9" r="0.72"/><circle cx="264.5" cy="195.3" r="0.72"/><circle cx="307.9" cy="167.8" r="0.72"/><circle cx="338.4" cy="167.3" r="0.72"/><circle cx="359.2" cy="172.9" r="0.72"/><circle cx="367.2" cy="173.9" r="0.72"/><circle cx="373.7" cy="188.8" r="0.72"/></g>
<g fill="#2a2aff"><circle cx="78.1" cy="357.8" r="0.65"/><circle cx="92.7" cy="357.7" r="0.65"/><circle cx="104.6" cy="365.6" r="0.65"/><circle cx="120.4" cy="350.4" r="0.65"/><circle cx="93.5" cy="353.5" r="0.65"/><circle cx="113.9" cy="361.7" r="0.65"/><circle cx="105.2" cy="354.1" r="0.65"/><circle cx="128.2" cy="359.3" r="0.65"/><circle cx="78.2" cy="352.6" r="0.65"/><circle cx="118.1" cy="369.6" r="0.65"/><circle cx="105.2" cy="357.7" r="0.65"/><circle cx="108.4" cy="355.7" r="0.65"/><circle cx="100.1" cy="353.6" r="0.65"/><circle cx="74.2" cy="355.4" r="0.65"/><circle cx="104.3" cy="358.3" r="0.65"/><circle cx="121.6" cy="349.2" r="0.65"/><circle cx="98.2" cy="358.2" r="0.65"/><circle cx="98.2" cy="357.3" r="0.65"/><circle cx="104.3" cy="365" r="0.65"/><circle cx="128" cy="355.4" r="0.65"/><circle cx="112.5" cy="349.4" r="0.65"/><circle cx="89.5" cy="355.2" r="0.65"/><circle cx="134.9" cy="359.8" r="0.65"/><circle cx="100.2" cy="362.6" r="0.65"/><circle cx="129.6" cy="351.1" r="0.65"/><circle cx="116.9" cy="351.9" r="0.65"/><circle cx="103" cy="360" r="0.65"/><circle cx="123.9" cy="363.5" r="0.65"/><circle cx="115.4" cy="357.8" r="0.65"/><circle cx="100.5" cy="356.4" r="0.65"/><circle cx="94.5" cy="361.6" r="0.65"/><circle cx="84.7" cy="365.5" r="0.65"/><circle cx="100" cy="355.4" r="0.65"/><circle cx="112.5" cy="365.4" r="0.65"/><circle cx="108.8" cy="343.7" r="0.65"/><circle cx="113.3" cy="355.2" r="0.65"/><circle cx="82.7" cy="360.8" r="0.65"/><circle cx="128.2" cy="366.6" r="0.65"/><circle cx="99.7" cy="362.3" r="0.65"/><circle cx="110.4" cy="354" r="0.65"/><circle cx="87.8" cy="353.5" r="0.65"/><circle cx="75.4" cy="363.4" r="0.65"/><circle cx="117.9" cy="365" r="0.65"/><circle cx="100.3" cy="361.1" r="0.65"/><circle cx="134.5" cy="364" r="0.65"/><circle cx="125.5" cy="345.6" r="0.65"/><circle cx="106.7" cy="362.8" r="0.65"/><circle cx="112" cy="364.1" r="0.65"/><circle cx="106.8" cy="364.5" r="0.65"/><circle cx="91.1" cy="367.8" r="0.65"/><circle cx="124.8" cy="362.1" r="0.65"/><circle cx="95.7" cy="351.2" r="0.65"/><circle cx="109.4" cy="360" r="0.65"/><circle cx="101.2" cy="357.9" r="0.65"/><circle cx="107.4" cy="360.6" r="0.65"/><circle cx="109.3" cy="353.1" r="0.65"/><circle cx="109.1" cy="349.8" r="0.65"/><circle cx="125.5" cy="364.3" r="0.65"/><circle cx="98.2" cy="365.9" r="0.65"/><circle cx="101.1" cy="353.5" r="0.65"/><circle cx="107" cy="361" r="0.65"/><circle cx="113.1" cy="371.5" r="0.65"/><circle cx="116.2" cy="359.1" r="0.65"/><circle cx="121.1" cy="359.8" r="0.65"/><circle cx="125.7" cy="351.3" r="0.65"/><circle cx="107.5" cy="354.4" r="0.65"/><circle cx="99" cy="362.4" r="0.65"/><circle cx="96.2" cy="359.3" r="0.65"/><circle cx="94.5" cy="364.8" r="0.65"/><circle cx="108.5" cy="367.1" r="0.65"/><circle cx="119.8" cy="363.7" r="0.65"/><circle cx="108.1" cy="359.9" r="0.65"/><circle cx="125.8" cy="354.3" r="0.65"/><circle cx="108.2" cy="361.7" r="0.65"/><circle cx="123.6" cy="358.9" r="0.65"/><circle cx="96.8" cy="357.2" r="0.65"/><circle cx="120.4" cy="358.2" r="0.65"/><circle cx="112.3" cy="348.8" r="0.65"/><circle cx="104.2" cy="353.3" r="0.65"/><circle cx="133.5" cy="347.4" r="0.65"/><circle cx="95.4" cy="354.7" r="0.65"/><circle cx="113.5" cy="343.1" r="0.65"/><circle cx="129.4" cy="351.7" r="0.65"/><circle cx="128.2" cy="354.5" r="0.65"/><circle cx="96.9" cy="344.1" r="0.65"/><circle cx="87.8" cy="353.2" r="0.65"/><circle cx="122.5" cy="356.8" r="0.65"/><circle cx="125.8" cy="358.1" r="0.65"/><circle cx="123" cy="356.4" r="0.65"/><circle cx="101.4" cy="351.8" r="0.65"/><circle cx="103.7" cy="354" r="0.65"/><circle cx="97" cy="356.5" r="0.65"/><circle cx="119.4" cy="350.8" r="0.65"/><circle cx="96.4" cy="361.3" r="0.65"/><circle cx="111.5" cy="364.4" r="0.65"/><circle cx="120.2" cy="343.2" r="0.65"/><circle cx="121.2" cy="354" r="0.65"/><circle cx="100" cy="354.4" r="0.65"/><circle cx="119.2" cy="345.7" r="0.65"/><circle cx="106.8" cy="350.2" r="0.65"/><circle cx="106.8" cy="359.7" r="0.65"/><circle cx="105.7" cy="356.2" r="0.65"/><circle cx="90.7" cy="360.2" r="0.65"/><circle cx="132.6" cy="369.2" r="0.65"/><circle cx="124.2" cy="353.1" r="0.65"/><circle cx="105.7" cy="362.8" r="0.65"/><circle cx="127.8" cy="360.1" r="0.65"/><circle cx="116" cy="359.3" r="0.65"/><circle cx="96" cy="351.4" r="0.65"/><circle cx="121" cy="363.7" r="0.65"/><circle cx="127.3" cy="365.7" r="0.65"/><circle cx="93.8" cy="352.6" r="0.65"/><circle cx="105.7" cy="357.9" r="0.65"/><circle cx="134.2" cy="364.6" r="0.65"/><circle cx="120.4" cy="360.4" r="0.65"/><circle cx="153" cy="367.8" r="0.65"/><circle cx="123.6" cy="360.2" r="0.65"/><circle cx="124.2" cy="357.9" r="0.65"/><circle cx="128.9" cy="356.4" r="0.65"/><circle cx="151.1" cy="349.9" r="0.65"/><circle cx="100.1" cy="363.2" r="0.65"/><circle cx="95.8" cy="359.5" r="0.65"/><circle cx="115.7" cy="354.4" r="0.65"/><circle cx="151.7" cy="340.6" r="0.65"/><circle cx="98.3" cy="360.4" r="0.65"/><circle cx="125.6" cy="368.7" r="0.65"/><circle cx="137.9" cy="367.8" r="0.65"/><circle cx="133.6" cy="352" r="0.65"/><circle cx="111.2" cy="340.4" r="0.65"/><circle cx="103.7" cy="368.4" r="0.65"/><circle cx="82" cy="362" r="0.65"/><circle cx="148.8" cy="347.6" r="0.65"/><circle cx="108.2" cy="343.5" r="0.65"/><circle cx="87.9" cy="362.3" r="0.65"/><circle cx="131.2" cy="353.6" r="0.65"/><circle cx="154.4" cy="360" r="0.65"/><circle cx="166.2" cy="350.7" r="0.65"/><circle cx="143.7" cy="352.4" r="0.65"/><circle cx="93.1" cy="352.7" r="0.65"/><circle cx="170.6" cy="368.5" r="0.65"/><circle cx="105.7" cy="360" r="0.65"/><circle cx="97.7" cy="346.7" r="0.65"/><circle cx="139.4" cy="365" r="0.65"/><circle cx="145.3" cy="343.6" r="0.65"/><circle cx="77.6" cy="368.4" r="0.65"/><circle cx="134.4" cy="343.5" r="0.65"/><circle cx="129" cy="354.3" r="0.65"/><circle cx="113.7" cy="352.6" r="0.65"/><circle cx="167.3" cy="351.7" r="0.65"/><circle cx="149.7" cy="355.5" r="0.65"/><circle cx="164.3" cy="346.7" r="0.65"/><circle cx="124.6" cy="360.2" r="0.65"/><circle cx="102.5" cy="340.7" r="0.65"/><circle cx="138.4" cy="366.9" r="0.65"/><circle cx="125.8" cy="356.6" r="0.65"/><circle cx="134.1" cy="360.7" r="0.65"/><circle cx="166.5" cy="355" r="0.65"/><circle cx="158.4" cy="361.4" r="0.65"/><circle cx="164.7" cy="353.2" r="0.65"/><circle cx="128.4" cy="356.4" r="0.65"/><circle cx="173" cy="336.3" r="0.65"/><circle cx="157.1" cy="338.4" r="0.65"/><circle cx="154" cy="339.4" r="0.65"/><circle cx="153.6" cy="339.4" r="0.65"/><circle cx="139.2" cy="338.4" r="0.65"/><circle cx="137.3" cy="335.3" r="0.65"/><circle cx="139.9" cy="332.8" r="0.65"/><circle cx="148.6" cy="339.3" r="0.65"/><circle cx="157.6" cy="339.1" r="0.65"/><circle cx="164.4" cy="339" r="0.65"/><circle cx="172.1" cy="341.7" r="0.65"/><circle cx="138.4" cy="333.1" r="0.65"/><circle cx="163.1" cy="339.4" r="0.65"/><circle cx="161.3" cy="338.4" r="0.65"/><circle cx="156" cy="339.3" r="0.65"/><circle cx="157.3" cy="335.5" r="0.65"/></g>
<g fill="#22ee22"><circle cx="117.8" cy="406.4" r="0.65"/><circle cx="93.1" cy="405.9" r="0.65"/><circle cx="123.4" cy="407.7" r="0.65"/><circle cx="134.1" cy="414.2" r="0.65"/><circle cx="98" cy="397.9" r="0.65"/><circle cx="130.9" cy="403.7" r="0.65"/><circle cx="85" cy="404.3" r="0.65"/><circle cx="96.4" cy="407.2" r="0.65"/><circle cx="104.6" cy="406.6" r="0.65"/><circle cx="109.6" cy="401.2" r="0.65"/><circle cx="105.9" cy="415.1" r="0.65"/><circle cx="107.5" cy="421" r="0.65"/><circle cx="111.3" cy="405.3" r="0.65"/><circle cx="96.1" cy="387.2" r="0.65"/><circle cx="135.6" cy="392.6" r="0.65"/><circle cx="113.6" cy="405.8" r="0.65"/><circle cx="117.4" cy="390.6" r="0.65"/><circle cx="108.9" cy="403.3" r="0.65"/><circle cx="101.3" cy="402.7" r="0.65"/><circle cx="123.1" cy="408.8" r="0.65"/><circle cx="126.4" cy="401.3" r="0.65"/><circle cx="144.4" cy="400.9" r="0.65"/><circle cx="129.6" cy="409.3" r="0.65"/><circle cx="147.3" cy="401.6" r="0.65"/><circle cx="109.1" cy="391.5" r="0.65"/><circle cx="112.8" cy="411.1" r="0.65"/><circle cx="119.7" cy="398.3" r="0.65"/><circle cx="110.1" cy="405.6" r="0.65"/><circle cx="85.7" cy="390.2" r="0.65"/><circle cx="103.7" cy="399.6" r="0.65"/><circle cx="102.7" cy="407.3" r="0.65"/><circle cx="114.7" cy="408.5" r="0.65"/><circle cx="124.7" cy="413.7" r="0.65"/><circle cx="119.5" cy="393.7" r="0.65"/><circle cx="103.7" cy="400.6" r="0.65"/><circle cx="123.1" cy="405.3" r="0.65"/><circle cx="107" cy="403.5" r="0.65"/><circle cx="152" cy="408" r="0.65"/><circle cx="107.8" cy="405.4" r="0.65"/><circle cx="102.1" cy="408.8" r="0.65"/><circle cx="100.5" cy="401" r="0.65"/><circle cx="128.2" cy="390.5" r="0.65"/><circle cx="90.9" cy="409.2" r="0.65"/><circle cx="110" cy="409.2" r="0.65"/><circle cx="98.7" cy="403.8" r="0.65"/><circle cx="101.9" cy="408.2" r="0.65"/><circle cx="113.8" cy="407.7" r="0.65"/><circle cx="106.4" cy="399.9" r="0.65"/><circle cx="121.4" cy="400.7" r="0.65"/><circle cx="127.1" cy="401.1" r="0.65"/><circle cx="88.1" cy="391.6" r="0.65"/><circle cx="154" cy="396.3" r="0.65"/><circle cx="135" cy="394.2" r="0.65"/><circle cx="103.9" cy="397.7" r="0.65"/><circle cx="100" cy="406.2" r="0.65"/><circle cx="119.2" cy="401.5" r="0.65"/><circle cx="100.6" cy="412.3" r="0.65"/><circle cx="122.8" cy="402.1" r="0.65"/><circle cx="112.8" cy="408.4" r="0.65"/><circle cx="98.8" cy="402.5" r="0.65"/><circle cx="82.2" cy="393.5" r="0.65"/><circle cx="110.9" cy="394.3" r="0.65"/><circle cx="125.2" cy="406.2" r="0.65"/><circle cx="118.4" cy="410.1" r="0.65"/><circle cx="96.7" cy="392.6" r="0.65"/><circle cx="102.5" cy="407.7" r="0.65"/><circle cx="117.8" cy="401.9" r="0.65"/><circle cx="125.5" cy="411.2" r="0.65"/><circle cx="106.8" cy="409.8" r="0.65"/><circle cx="111.1" cy="404" r="0.65"/><circle cx="96.3" cy="414.6" r="0.65"/><circle cx="90" cy="395.4" r="0.65"/><circle cx="105" cy="409.9" r="0.65"/><circle cx="113.3" cy="410.1" r="0.65"/><circle cx="124.7" cy="395.9" r="0.65"/><circle cx="111.3" cy="406.2" r="0.65"/><circle cx="82.8" cy="398.6" r="0.65"/><circle cx="141.6" cy="400.7" r="0.65"/><circle cx="102.4" cy="396.4" r="0.65"/><circle cx="104.8" cy="410.8" r="0.65"/><circle cx="109" cy="397.8" r="0.65"/><circle cx="82.8" cy="394.6" r="0.65"/><circle cx="135.5" cy="402.3" r="0.65"/><circle cx="103.3" cy="412.2" r="0.65"/><circle cx="118.9" cy="404.1" r="0.65"/><circle cx="129.2" cy="390.9" r="0.65"/><circle cx="129.6" cy="400.8" r="0.65"/><circle cx="83" cy="392.6" r="0.65"/><circle cx="103.3" cy="405.5" r="0.65"/><circle cx="127" cy="398.7" r="0.65"/><circle cx="94.8" cy="404.5" r="0.65"/><circle cx="106.3" cy="403.1" r="0.65"/><circle cx="92.8" cy="391.4" r="0.65"/><circle cx="108.7" cy="397.4" r="0.65"/><circle cx="126.8" cy="386.5" r="0.65"/><circle cx="121.7" cy="407.3" r="0.65"/><circle cx="104.1" cy="395.8" r="0.65"/><circle cx="135.9" cy="412.5" r="0.65"/><circle cx="140" cy="406.1" r="0.65"/><circle cx="107.8" cy="405.1" r="0.65"/><circle cx="119.8" cy="403.4" r="0.65"/><circle cx="110.1" cy="408.6" r="0.65"/><circle cx="133" cy="399.5" r="0.65"/><circle cx="110.1" cy="386.8" r="0.65"/><circle cx="120.7" cy="392.2" r="0.65"/><circle cx="106.7" cy="401" r="0.65"/><circle cx="108.5" cy="395.8" r="0.65"/><circle cx="115.2" cy="414.1" r="0.65"/><circle cx="119.6" cy="403.6" r="0.65"/><circle cx="114.7" cy="395.1" r="0.65"/><circle cx="106.6" cy="397.5" r="0.65"/><circle cx="111.1" cy="402.6" r="0.65"/><circle cx="103.1" cy="402.8" r="0.65"/><circle cx="106.1" cy="396.4" r="0.65"/><circle cx="75.8" cy="397.9" r="0.65"/><circle cx="151.5" cy="402" r="0.65"/><circle cx="178.3" cy="407.4" r="0.65"/><circle cx="93.4" cy="395.6" r="0.65"/><circle cx="155" cy="392.9" r="0.65"/><circle cx="127.2" cy="392.9" r="0.65"/><circle cx="108.7" cy="386" r="0.65"/><circle cx="151.9" cy="390.5" r="0.65"/><circle cx="130.7" cy="386.9" r="0.65"/><circle cx="123.2" cy="385.9" r="0.65"/><circle cx="120.4" cy="385.9" r="0.65"/><circle cx="107.1" cy="399.3" r="0.65"/><circle cx="132.8" cy="398.3" r="0.65"/><circle cx="162.8" cy="389.1" r="0.65"/><circle cx="92.7" cy="393.5" r="0.65"/><circle cx="129.2" cy="402.8" r="0.65"/><circle cx="85.7" cy="387.2" r="0.65"/><circle cx="178.2" cy="392.9" r="0.65"/><circle cx="134" cy="412.7" r="0.65"/><circle cx="107.5" cy="405.1" r="0.65"/><circle cx="82.6" cy="403.7" r="0.65"/><circle cx="112.3" cy="402.5" r="0.65"/><circle cx="80.7" cy="411.2" r="0.65"/><circle cx="174.3" cy="398.1" r="0.65"/><circle cx="98.1" cy="401.4" r="0.65"/><circle cx="111.9" cy="400.3" r="0.65"/><circle cx="92.2" cy="392.3" r="0.65"/><circle cx="172.3" cy="395.9" r="0.65"/><circle cx="175.1" cy="390.1" r="0.65"/><circle cx="130.4" cy="399.1" r="0.65"/><circle cx="146.6" cy="403.9" r="0.65"/><circle cx="81.5" cy="401.3" r="0.65"/><circle cx="160" cy="394.4" r="0.65"/><circle cx="77.7" cy="389.7" r="0.65"/><circle cx="78.4" cy="399.2" r="0.65"/><circle cx="92.2" cy="406" r="0.65"/><circle cx="97.9" cy="396.3" r="0.65"/><circle cx="148.8" cy="387.9" r="0.65"/><circle cx="127" cy="413.4" r="0.65"/><circle cx="77.5" cy="412.6" r="0.65"/><circle cx="87" cy="409.8" r="0.65"/><circle cx="104.8" cy="410.6" r="0.65"/><circle cx="163.6" cy="404.2" r="0.65"/><circle cx="124.3" cy="391" r="0.65"/><circle cx="92.6" cy="399.8" r="0.65"/><circle cx="77.8" cy="400.3" r="0.65"/><circle cx="171.8" cy="397.8" r="0.65"/><circle cx="105.5" cy="395.7" r="0.65"/><circle cx="126.6" cy="399.9" r="0.65"/><circle cx="140.9" cy="393.3" r="0.65"/><circle cx="167.8" cy="385.1" r="0.65"/><circle cx="175.3" cy="390.2" r="0.65"/><circle cx="145.8" cy="390.6" r="0.65"/><circle cx="94" cy="409.2" r="0.65"/><circle cx="162.7" cy="401.8" r="0.65"/><circle cx="75.6" cy="392.3" r="0.65"/><circle cx="87.7" cy="406.9" r="0.65"/><circle cx="171.1" cy="409.4" r="0.65"/><circle cx="161" cy="407" r="0.65"/><circle cx="157.6" cy="403.5" r="0.65"/><circle cx="133" cy="394.1" r="0.65"/></g>
<g fill="#000000"><circle cx="110.4" cy="453" r="0.6"/><circle cx="108.1" cy="451.8" r="0.6"/><circle cx="113.4" cy="432" r="0.6"/><circle cx="121.6" cy="439.8" r="0.6"/><circle cx="127.8" cy="439.6" r="0.6"/><circle cx="119" cy="439.8" r="0.6"/><circle cx="129" cy="448.5" r="0.6"/><circle cx="108.6" cy="447.2" r="0.6"/><circle cx="111.9" cy="443.1" r="0.6"/><circle cx="106" cy="450.7" r="0.6"/><circle cx="116.3" cy="442.8" r="0.6"/><circle cx="111.2" cy="459.9" r="0.6"/><circle cx="109" cy="439.9" r="0.6"/><circle cx="109.3" cy="436.3" r="0.6"/><circle cx="105.1" cy="449.2" r="0.6"/><circle cx="124.8" cy="437.1" r="0.6"/><circle cx="108.2" cy="434.5" r="0.6"/><circle cx="115.6" cy="443.6" r="0.6"/><circle cx="139.9" cy="439.9" r="0.6"/><circle cx="109.5" cy="447.6" r="0.6"/><circle cx="99.1" cy="437.5" r="0.6"/><circle cx="118.1" cy="431" r="0.6"/><circle cx="131.2" cy="446.9" r="0.6"/><circle cx="103.6" cy="449.8" r="0.6"/><circle cx="131.7" cy="448.1" r="0.6"/><circle cx="130" cy="436.4" r="0.6"/><circle cx="135.3" cy="444.9" r="0.6"/><circle cx="123.6" cy="458" r="0.6"/><circle cx="118" cy="446.7" r="0.6"/><circle cx="126.8" cy="462.1" r="0.6"/><circle cx="108.2" cy="427.3" r="0.6"/><circle cx="115.3" cy="451" r="0.6"/><circle cx="114.4" cy="448.2" r="0.6"/><circle cx="107.7" cy="441.8" r="0.6"/><circle cx="117" cy="437.2" r="0.6"/><circle cx="150.7" cy="440.7" r="0.6"/><circle cx="118.2" cy="434.4" r="0.6"/><circle cx="92.1" cy="431.5" r="0.6"/><circle cx="95.8" cy="451" r="0.6"/><circle cx="113.8" cy="458.4" r="0.6"/><circle cx="103.5" cy="445.6" r="0.6"/><circle cx="119.1" cy="458.9" r="0.6"/><circle cx="67.9" cy="441.3" r="0.6"/><circle cx="87.9" cy="444" r="0.6"/><circle cx="120" cy="440.1" r="0.6"/><circle cx="104.4" cy="452.2" r="0.6"/><circle cx="159.3" cy="447.8" r="0.6"/><circle cx="97.5" cy="458.2" r="0.6"/><circle cx="109" cy="432.3" r="0.6"/><circle cx="123.4" cy="454.7" r="0.6"/><circle cx="92" cy="452.3" r="0.6"/><circle cx="112.5" cy="444.5" r="0.6"/><circle cx="120.2" cy="437.5" r="0.6"/><circle cx="92.8" cy="460.3" r="0.6"/><circle cx="111.4" cy="441.9" r="0.6"/><circle cx="104.5" cy="444.7" r="0.6"/><circle cx="111.5" cy="437.1" r="0.6"/><circle cx="109.6" cy="451" r="0.6"/><circle cx="120.5" cy="438.4" r="0.6"/><circle cx="103" cy="447.9" r="0.6"/><circle cx="101.9" cy="456.7" r="0.6"/><circle cx="149.5" cy="452.2" r="0.6"/><circle cx="107.9" cy="449.9" r="0.6"/><circle cx="100.4" cy="448.2" r="0.6"/><circle cx="111.4" cy="443.8" r="0.6"/><circle cx="104.4" cy="459.1" r="0.6"/><circle cx="110.8" cy="440.9" r="0.6"/><circle cx="131.9" cy="447.7" r="0.6"/><circle cx="108.7" cy="453.4" r="0.6"/><circle cx="135.3" cy="452.1" r="0.6"/><circle cx="105" cy="447.4" r="0.6"/><circle cx="109.3" cy="446.4" r="0.6"/><circle cx="119.1" cy="432.4" r="0.6"/><circle cx="120.4" cy="443.4" r="0.6"/><circle cx="90.6" cy="427.9" r="0.6"/><circle cx="120.6" cy="439.4" r="0.6"/><circle cx="107.9" cy="447.7" r="0.6"/><circle cx="107.1" cy="448.5" r="0.6"/><circle cx="106.7" cy="440.2" r="0.6"/><circle cx="128.9" cy="447.4" r="0.6"/><circle cx="108.3" cy="439.7" r="0.6"/><circle cx="109.7" cy="442.3" r="0.6"/><circle cx="103" cy="434.9" r="0.6"/><circle cx="105.8" cy="442.1" r="0.6"/><circle cx="138.7" cy="443.5" r="0.6"/><circle cx="108.8" cy="440.6" r="0.6"/><circle cx="135.9" cy="466" r="0.6"/><circle cx="107" cy="448.2" r="0.6"/><circle cx="125.9" cy="459.9" r="0.6"/><circle cx="125" cy="446.4" r="0.6"/><circle cx="121.4" cy="455.8" r="0.6"/><circle cx="132.3" cy="424.5" r="0.6"/><circle cx="114.8" cy="441.8" r="0.6"/><circle cx="97" cy="471.4" r="0.6"/><circle cx="111.7" cy="448.9" r="0.6"/><circle cx="123.1" cy="446.4" r="0.6"/><circle cx="92.7" cy="466.3" r="0.6"/><circle cx="129.5" cy="438.6" r="0.6"/><circle cx="110.8" cy="449.1" r="0.6"/><circle cx="123.4" cy="451.6" r="0.6"/><circle cx="93.3" cy="436.2" r="0.6"/><circle cx="91.8" cy="450.5" r="0.6"/><circle cx="132.5" cy="442.9" r="0.6"/><circle cx="129.4" cy="434" r="0.6"/><circle cx="115.8" cy="459.7" r="0.6"/><circle cx="86.8" cy="466.1" r="0.6"/><circle cx="124.1" cy="459.4" r="0.6"/><circle cx="110.9" cy="446.1" r="0.6"/><circle cx="118.1" cy="447.2" r="0.6"/><circle cx="132.3" cy="444.1" r="0.6"/><circle cx="178.5" cy="449.2" r="0.6"/><circle cx="91.2" cy="465" r="0.6"/><circle cx="85.9" cy="452.3" r="0.6"/><circle cx="106.8" cy="455.8" r="0.6"/><circle cx="165.9" cy="428.7" r="0.6"/><circle cx="177" cy="458.5" r="0.6"/><circle cx="145.6" cy="459.7" r="0.6"/><circle cx="119.4" cy="447.2" r="0.6"/><circle cx="103" cy="436.7" r="0.6"/><circle cx="92.4" cy="436" r="0.6"/><circle cx="153.3" cy="442.4" r="0.6"/><circle cx="76.4" cy="461.2" r="0.6"/><circle cx="157.8" cy="430.2" r="0.6"/><circle cx="94.6" cy="441" r="0.6"/><circle cx="152.4" cy="433.5" r="0.6"/><circle cx="83.1" cy="458.1" r="0.6"/><circle cx="74.9" cy="440" r="0.6"/><circle cx="107.8" cy="439.9" r="0.6"/><circle cx="86.2" cy="442.1" r="0.6"/><circle cx="98.3" cy="449.5" r="0.6"/><circle cx="133.7" cy="430.5" r="0.6"/><circle cx="89.2" cy="436.7" r="0.6"/><circle cx="73.5" cy="459.2" r="0.6"/><circle cx="145.6" cy="462.7" r="0.6"/><circle cx="161.7" cy="432.8" r="0.6"/><circle cx="92.3" cy="439.5" r="0.6"/><circle cx="140.3" cy="429.5" r="0.6"/><circle cx="123.1" cy="452.1" r="0.6"/><circle cx="165.8" cy="455.8" r="0.6"/><circle cx="169.7" cy="452.3" r="0.6"/><circle cx="113.3" cy="434.8" r="0.6"/><circle cx="152.3" cy="458.9" r="0.6"/><circle cx="141.4" cy="429.1" r="0.6"/><circle cx="112.5" cy="445.1" r="0.6"/><circle cx="141" cy="439" r="0.6"/><circle cx="111.4" cy="451.6" r="0.6"/><circle cx="87.6" cy="442.5" r="0.6"/><circle cx="104.7" cy="436.6" r="0.6"/><circle cx="72.8" cy="437.6" r="0.6"/><circle cx="85.8" cy="433.5" r="0.6"/><circle cx="159.6" cy="452.5" r="0.6"/><circle cx="78.9" cy="457.9" r="0.6"/><circle cx="91" cy="429.4" r="0.6"/><circle cx="157.8" cy="464.9" r="0.6"/><circle cx="68.8" cy="445" r="0.6"/><circle cx="118.6" cy="445.3" r="0.6"/><circle cx="161.7" cy="434.7" r="0.6"/><circle cx="82.9" cy="429.8" r="0.6"/><circle cx="119.1" cy="448.3" r="0.6"/><circle cx="84.7" cy="456.9" r="0.6"/><circle cx="88.6" cy="455.3" r="0.6"/><circle cx="128.6" cy="456.2" r="0.6"/><circle cx="97.9" cy="461.6" r="0.6"/><circle cx="75.6" cy="432" r="0.6"/><circle cx="116.8" cy="449" r="0.6"/><circle cx="117.8" cy="459.9" r="0.6"/><circle cx="116.8" cy="464" r="0.6"/><circle cx="117" cy="474.2" r="0.6"/><circle cx="120.7" cy="470.8" r="0.6"/><circle cx="122.6" cy="468.4" r="0.6"/><circle cx="122.5" cy="478.8" r="0.6"/><circle cx="119.1" cy="474.5" r="0.6"/><circle cx="120.7" cy="471.5" r="0.6"/><circle cx="117.6" cy="477.5" r="0.6"/><circle cx="117.2" cy="479" r="0.6"/></g>
<g fill="#000000"><circle cx="322.5" cy="370.6" r="0.6"/><circle cx="336.8" cy="360.2" r="0.6"/><circle cx="331.9" cy="362.6" r="0.6"/><circle cx="339.4" cy="347.1" r="0.6"/><circle cx="343.8" cy="352.7" r="0.6"/><circle cx="355" cy="356.7" r="0.6"/><circle cx="359.2" cy="361.2" r="0.6"/><circle cx="342.6" cy="365" r="0.6"/><circle cx="343.5" cy="352.2" r="0.6"/><circle cx="332.5" cy="358.3" r="0.6"/><circle cx="341.5" cy="358.1" r="0.6"/><circle cx="339.4" cy="356" r="0.6"/><circle cx="327.3" cy="356.9" r="0.6"/><circle cx="369.4" cy="364.6" r="0.6"/><circle cx="356.9" cy="362.1" r="0.6"/><circle cx="337" cy="346.5" r="0.6"/><circle cx="355" cy="353.9" r="0.6"/><circle cx="369" cy="353.7" r="0.6"/><circle cx="343.8" cy="372" r="0.6"/><circle cx="355.4" cy="347.2" r="0.6"/><circle cx="338.9" cy="365.3" r="0.6"/><circle cx="320.4" cy="354.1" r="0.6"/><circle cx="310.6" cy="355.4" r="0.6"/><circle cx="357" cy="360.6" r="0.6"/><circle cx="330" cy="359.5" r="0.6"/><circle cx="367.6" cy="365" r="0.6"/><circle cx="333.6" cy="354.5" r="0.6"/><circle cx="336.1" cy="349.6" r="0.6"/><circle cx="334.6" cy="365.3" r="0.6"/><circle cx="323.6" cy="359.2" r="0.6"/><circle cx="361.1" cy="357.7" r="0.6"/><circle cx="336.7" cy="367.3" r="0.6"/><circle cx="348.8" cy="362" r="0.6"/><circle cx="378.6" cy="365.2" r="0.6"/><circle cx="325.4" cy="365.8" r="0.6"/><circle cx="347.8" cy="354.2" r="0.6"/><circle cx="348.3" cy="350.5" r="0.6"/><circle cx="355.2" cy="361.5" r="0.6"/><circle cx="369.4" cy="362.7" r="0.6"/><circle cx="348.1" cy="357.5" r="0.6"/><circle cx="361.6" cy="358" r="0.6"/><circle cx="349.9" cy="370" r="0.6"/><circle cx="343.9" cy="356.9" r="0.6"/><circle cx="366.9" cy="368.6" r="0.6"/><circle cx="327.8" cy="352.6" r="0.6"/><circle cx="378.6" cy="356.9" r="0.6"/><circle cx="314.5" cy="368.9" r="0.6"/><circle cx="339.7" cy="363.3" r="0.6"/><circle cx="352.1" cy="351.3" r="0.6"/><circle cx="356.4" cy="363.7" r="0.6"/><circle cx="335" cy="359" r="0.6"/><circle cx="351.1" cy="354.3" r="0.6"/><circle cx="339.4" cy="351.4" r="0.6"/><circle cx="355.4" cy="359.7" r="0.6"/><circle cx="348" cy="347.9" r="0.6"/><circle cx="354.5" cy="359.7" r="0.6"/><circle cx="340.3" cy="351.9" r="0.6"/><circle cx="350.6" cy="356.9" r="0.6"/><circle cx="334.6" cy="359.4" r="0.6"/><circle cx="347.4" cy="346.9" r="0.6"/><circle cx="326.4" cy="357" r="0.6"/><circle cx="331.6" cy="366.4" r="0.6"/><circle cx="378.2" cy="365.7" r="0.6"/><circle cx="362.7" cy="351.4" r="0.6"/><circle cx="351.9" cy="357.5" r="0.6"/><circle cx="344.5" cy="354.7" r="0.6"/><circle cx="350.8" cy="354.3" r="0.6"/><circle cx="354.4" cy="368" r="0.6"/><circle cx="326.7" cy="358" r="0.6"/><circle cx="344.5" cy="366.2" r="0.6"/><circle cx="358.8" cy="354.8" r="0.6"/><circle cx="349.5" cy="351.3" r="0.6"/><circle cx="354.1" cy="358.5" r="0.6"/><circle cx="336.4" cy="350.6" r="0.6"/><circle cx="338.1" cy="362.4" r="0.6"/><circle cx="331.5" cy="353.5" r="0.6"/><circle cx="348.9" cy="358.8" r="0.6"/><circle cx="358.9" cy="363" r="0.6"/><circle cx="357.1" cy="361" r="0.6"/><circle cx="342.9" cy="359" r="0.6"/><circle cx="348.3" cy="349.2" r="0.6"/><circle cx="336.5" cy="351.4" r="0.6"/><circle cx="363" cy="358.8" r="0.6"/><circle cx="335.8" cy="364.9" r="0.6"/><circle cx="344.2" cy="339.9" r="0.6"/><circle cx="342.5" cy="357" r="0.6"/><circle cx="331.5" cy="355.1" r="0.6"/><circle cx="348.9" cy="351.7" r="0.6"/><circle cx="375.3" cy="351.5" r="0.6"/><circle cx="333.1" cy="358.6" r="0.6"/><circle cx="326.5" cy="360.4" r="0.6"/><circle cx="324.7" cy="350.8" r="0.6"/><circle cx="313.6" cy="354.1" r="0.6"/><circle cx="347" cy="367.4" r="0.6"/><circle cx="356.4" cy="349.7" r="0.6"/><circle cx="370.8" cy="359.4" r="0.6"/><circle cx="356" cy="356.6" r="0.6"/><circle cx="365.9" cy="357.8" r="0.6"/><circle cx="361.2" cy="364.1" r="0.6"/><circle cx="335.5" cy="364.6" r="0.6"/><circle cx="379.7" cy="352.3" r="0.6"/><circle cx="387.6" cy="365.2" r="0.6"/><circle cx="350" cy="349.6" r="0.6"/><circle cx="303.9" cy="351.8" r="0.6"/><circle cx="400.9" cy="367.4" r="0.6"/><circle cx="380.2" cy="346.6" r="0.6"/><circle cx="398" cy="338.5" r="0.6"/><circle cx="369.1" cy="350.6" r="0.6"/><circle cx="350.4" cy="355.8" r="0.6"/><circle cx="365" cy="359.2" r="0.6"/><circle cx="387.6" cy="352.3" r="0.6"/><circle cx="345.9" cy="353.3" r="0.6"/><circle cx="377.3" cy="342.8" r="0.6"/><circle cx="389.5" cy="347" r="0.6"/><circle cx="324.1" cy="370.3" r="0.6"/><circle cx="309.9" cy="367.5" r="0.6"/><circle cx="354.2" cy="367.7" r="0.6"/><circle cx="350.3" cy="345.4" r="0.6"/><circle cx="346.5" cy="341.6" r="0.6"/><circle cx="337.3" cy="354.3" r="0.6"/><circle cx="326.4" cy="366" r="0.6"/><circle cx="362.3" cy="366.2" r="0.6"/><circle cx="313" cy="360.7" r="0.6"/><circle cx="379.5" cy="338.1" r="0.6"/><circle cx="320.9" cy="362.4" r="0.6"/><circle cx="407.2" cy="351.2" r="0.6"/><circle cx="387.3" cy="337.4" r="0.6"/><circle cx="371.6" cy="362.1" r="0.6"/><circle cx="408.6" cy="340.9" r="0.6"/><circle cx="296.4" cy="338.5" r="0.6"/><circle cx="370.4" cy="362.6" r="0.6"/><circle cx="350.4" cy="360.4" r="0.6"/><circle cx="384.8" cy="357.1" r="0.6"/><circle cx="305.9" cy="341" r="0.6"/><circle cx="334" cy="364.6" r="0.6"/><circle cx="376.2" cy="366" r="0.6"/><circle cx="365.4" cy="355.7" r="0.6"/><circle cx="310" cy="338.9" r="0.6"/><circle cx="375.5" cy="368.4" r="0.6"/><circle cx="399.1" cy="349.1" r="0.6"/><circle cx="390.3" cy="344.9" r="0.6"/><circle cx="315.6" cy="360" r="0.6"/><circle cx="315.8" cy="343.6" r="0.6"/><circle cx="404.6" cy="351.4" r="0.6"/><circle cx="372.4" cy="338.2" r="0.6"/><circle cx="355.7" cy="355.8" r="0.6"/><circle cx="328.2" cy="337.9" r="0.6"/><circle cx="310" cy="364" r="0.6"/><circle cx="393.6" cy="369.4" r="0.6"/><circle cx="318.8" cy="352.9" r="0.6"/><circle cx="323.2" cy="357.6" r="0.6"/><circle cx="299" cy="348.3" r="0.6"/><circle cx="304.6" cy="360.8" r="0.6"/><circle cx="307.7" cy="347.4" r="0.6"/><circle cx="321" cy="352" r="0.6"/><circle cx="336.7" cy="385.1" r="0.6"/><circle cx="342" cy="376.7" r="0.6"/><circle cx="339.5" cy="391.7" r="0.6"/><circle cx="351.1" cy="397.5" r="0.6"/><circle cx="344.6" cy="387.1" r="0.6"/><circle cx="341.2" cy="394.9" r="0.6"/><circle cx="344.7" cy="398.3" r="0.6"/><circle cx="336.3" cy="392" r="0.6"/><circle cx="342.7" cy="392.7" r="0.6"/><circle cx="348.4" cy="388.8" r="0.6"/><circle cx="346.6" cy="384.5" r="0.6"/><circle cx="348.4" cy="376.1" r="0.6"/><circle cx="345.8" cy="381.9" r="0.6"/><circle cx="345.7" cy="397.2" r="0.6"/><circle cx="350.5" cy="386" r="0.6"/><circle cx="336.8" cy="380.7" r="0.6"/><circle cx="344.8" cy="375.7" r="0.6"/><circle cx="343.3" cy="387.4" r="0.6"/></g>
<g fill="#22ee22"><circle cx="377.5" cy="410.5" r="0.65"/><circle cx="348.6" cy="407.9" r="0.65"/><circle cx="320.7" cy="393.4" r="0.65"/><circle cx="361.4" cy="404.5" r="0.65"/><circle cx="339.7" cy="409.1" r="0.65"/><circle cx="334.9" cy="400.9" r="0.65"/><circle cx="343.6" cy="392.9" r="0.65"/><circle cx="350.1" cy="399.2" r="0.65"/><circle cx="348.4" cy="393.6" r="0.65"/><circle cx="356.5" cy="410.3" r="0.65"/><circle cx="343.3" cy="395.4" r="0.65"/><circle cx="332.9" cy="411.1" r="0.65"/><circle cx="329" cy="409.1" r="0.65"/><circle cx="342.7" cy="400.2" r="0.65"/><circle cx="355.9" cy="415" r="0.65"/><circle cx="354.6" cy="392" r="0.65"/><circle cx="393" cy="401.4" r="0.65"/><circle cx="359.7" cy="413.5" r="0.65"/><circle cx="365.5" cy="385" r="0.65"/><circle cx="351.3" cy="404" r="0.65"/><circle cx="373" cy="406.9" r="0.65"/><circle cx="377.9" cy="407.9" r="0.65"/><circle cx="354.9" cy="396.3" r="0.65"/><circle cx="349.8" cy="403.8" r="0.65"/><circle cx="328.6" cy="387.2" r="0.65"/><circle cx="354.6" cy="406.3" r="0.65"/><circle cx="323.6" cy="392.4" r="0.65"/><circle cx="370.4" cy="399.4" r="0.65"/><circle cx="338.9" cy="394" r="0.65"/><circle cx="355.3" cy="388.6" r="0.65"/><circle cx="343.9" cy="404.8" r="0.65"/><circle cx="345.3" cy="410.2" r="0.65"/><circle cx="327.3" cy="403.5" r="0.65"/><circle cx="343.6" cy="398.3" r="0.65"/><circle cx="321.6" cy="401.9" r="0.65"/><circle cx="381.3" cy="413.4" r="0.65"/><circle cx="340.1" cy="402.9" r="0.65"/><circle cx="357.4" cy="405.6" r="0.65"/><circle cx="386.4" cy="403.5" r="0.65"/><circle cx="350.9" cy="397.6" r="0.65"/><circle cx="370.7" cy="395.3" r="0.65"/><circle cx="322.2" cy="398.5" r="0.65"/><circle cx="335.7" cy="389.2" r="0.65"/><circle cx="355.9" cy="395.9" r="0.65"/><circle cx="344.9" cy="404.9" r="0.65"/><circle cx="365" cy="391.2" r="0.65"/><circle cx="386.2" cy="401.1" r="0.65"/><circle cx="366.2" cy="407.8" r="0.65"/><circle cx="356.2" cy="398.8" r="0.65"/><circle cx="327.8" cy="404" r="0.65"/><circle cx="348.4" cy="400.8" r="0.65"/><circle cx="341.5" cy="401.3" r="0.65"/><circle cx="346.4" cy="402.6" r="0.65"/><circle cx="316.7" cy="397.9" r="0.65"/><circle cx="376.7" cy="400.4" r="0.65"/><circle cx="349.1" cy="405.8" r="0.65"/><circle cx="332.4" cy="406.9" r="0.65"/><circle cx="323.1" cy="398.7" r="0.65"/><circle cx="330.4" cy="396.3" r="0.65"/><circle cx="348.2" cy="410.9" r="0.65"/><circle cx="385" cy="402" r="0.65"/><circle cx="348.8" cy="402.8" r="0.65"/><circle cx="326" cy="399.3" r="0.65"/><circle cx="355.6" cy="416.5" r="0.65"/><circle cx="347" cy="397.9" r="0.65"/><circle cx="378.3" cy="415.4" r="0.65"/><circle cx="333.9" cy="389.6" r="0.65"/><circle cx="333.5" cy="393.7" r="0.65"/><circle cx="329" cy="408.6" r="0.65"/><circle cx="359.5" cy="403.6" r="0.65"/><circle cx="327.4" cy="398.7" r="0.65"/><circle cx="366.9" cy="399.9" r="0.65"/><circle cx="385.5" cy="409.7" r="0.65"/><circle cx="375.3" cy="396.5" r="0.65"/><circle cx="361.6" cy="392.8" r="0.65"/><circle cx="341.4" cy="401.5" r="0.65"/><circle cx="323" cy="405" r="0.65"/><circle cx="333.8" cy="390.7" r="0.65"/><circle cx="338.3" cy="396.2" r="0.65"/><circle cx="344.9" cy="379.5" r="0.65"/><circle cx="332.2" cy="406.8" r="0.65"/><circle cx="357.3" cy="413.7" r="0.65"/><circle cx="346.8" cy="407.3" r="0.65"/><circle cx="331.5" cy="400.8" r="0.65"/><circle cx="382.1" cy="391.7" r="0.65"/><circle cx="360.7" cy="395.2" r="0.65"/><circle cx="355" cy="404.7" r="0.65"/><circle cx="349.2" cy="399.9" r="0.65"/><circle cx="357.2" cy="391.8" r="0.65"/><circle cx="326.1" cy="410" r="0.65"/><circle cx="371.5" cy="408.3" r="0.65"/><circle cx="367.2" cy="375.7" r="0.65"/><circle cx="364.7" cy="396.4" r="0.65"/><circle cx="344" cy="397.6" r="0.65"/><circle cx="362.1" cy="374" r="0.65"/><circle cx="361.7" cy="400.5" r="0.65"/><circle cx="374.3" cy="399" r="0.65"/><circle cx="369" cy="396.7" r="0.65"/><circle cx="350.1" cy="392.7" r="0.65"/><circle cx="343.8" cy="404.5" r="0.65"/><circle cx="345.1" cy="398.3" r="0.65"/><circle cx="339.9" cy="392.7" r="0.65"/><circle cx="352.1" cy="396.6" r="0.65"/><circle cx="340.3" cy="397.2" r="0.65"/><circle cx="358.4" cy="401.5" r="0.65"/><circle cx="342" cy="396.8" r="0.65"/><circle cx="350.4" cy="404" r="0.65"/><circle cx="360.9" cy="395.4" r="0.65"/><circle cx="379" cy="408.6" r="0.65"/><circle cx="324" cy="396.8" r="0.65"/><circle cx="379.5" cy="391.2" r="0.65"/><circle cx="346.5" cy="405.2" r="0.65"/><circle cx="351.6" cy="403.1" r="0.65"/><circle cx="332.1" cy="398.3" r="0.65"/><circle cx="334.3" cy="401.6" r="0.65"/><circle cx="333.5" cy="400.7" r="0.65"/><circle cx="354.6" cy="398.6" r="0.65"/><circle cx="350.7" cy="407.7" r="0.65"/><circle cx="321" cy="400" r="0.65"/><circle cx="345.8" cy="393.7" r="0.65"/><circle cx="342.3" cy="388.7" r="0.65"/><circle cx="381.3" cy="400.7" r="0.65"/><circle cx="366.2" cy="409.1" r="0.65"/><circle cx="407.3" cy="393.3" r="0.65"/><circle cx="389.9" cy="404.4" r="0.65"/><circle cx="362.8" cy="390.4" r="0.65"/><circle cx="357.2" cy="388.3" r="0.65"/><circle cx="325.9" cy="387.3" r="0.65"/><circle cx="331.5" cy="398.4" r="0.65"/><circle cx="310.4" cy="403" r="0.65"/><circle cx="399.8" cy="418.3" r="0.65"/><circle cx="315.8" cy="397.3" r="0.65"/><circle cx="372.3" cy="391.4" r="0.65"/><circle cx="375.8" cy="390" r="0.65"/><circle cx="365.7" cy="413.3" r="0.65"/><circle cx="358.7" cy="408" r="0.65"/><circle cx="293.9" cy="398.7" r="0.65"/><circle cx="410.5" cy="400.4" r="0.65"/><circle cx="384.7" cy="394" r="0.65"/><circle cx="297.7" cy="397" r="0.65"/><circle cx="412.1" cy="392.7" r="0.65"/><circle cx="329" cy="382.4" r="0.65"/><circle cx="373.7" cy="381.3" r="0.65"/><circle cx="395.3" cy="395.6" r="0.65"/><circle cx="349.5" cy="397.8" r="0.65"/><circle cx="331.6" cy="384.5" r="0.65"/><circle cx="308.5" cy="378.9" r="0.65"/><circle cx="334" cy="401.5" r="0.65"/><circle cx="366.4" cy="406.8" r="0.65"/><circle cx="366.3" cy="417.3" r="0.65"/><circle cx="397.8" cy="415.3" r="0.65"/><circle cx="398.3" cy="384.3" r="0.65"/><circle cx="387.9" cy="388.7" r="0.65"/><circle cx="315.6" cy="396.2" r="0.65"/><circle cx="300.6" cy="388.9" r="0.65"/><circle cx="388" cy="410.9" r="0.65"/><circle cx="346.5" cy="415.9" r="0.65"/><circle cx="373.5" cy="390.9" r="0.65"/><circle cx="300.4" cy="394.4" r="0.65"/><circle cx="398.9" cy="412.3" r="0.65"/><circle cx="402.4" cy="408.4" r="0.65"/><circle cx="295.2" cy="416.1" r="0.65"/><circle cx="384.3" cy="411.7" r="0.65"/><circle cx="396.6" cy="401.7" r="0.65"/><circle cx="303.2" cy="386" r="0.65"/><circle cx="332.6" cy="414.2" r="0.65"/><circle cx="293.6" cy="407.2" r="0.65"/><circle cx="348.7" cy="399.2" r="0.65"/><circle cx="363.3" cy="416.2" r="0.65"/><circle cx="293.5" cy="383.1" r="0.65"/><circle cx="344.3" cy="389.9" r="0.65"/><circle cx="400.9" cy="395.2" r="0.65"/><circle cx="382.3" cy="410.5" r="0.65"/><circle cx="318.7" cy="398.5" r="0.65"/><circle cx="411.8" cy="379.7" r="0.65"/><circle cx="321.1" cy="393.5" r="0.65"/><circle cx="328.1" cy="404.8" r="0.65"/><circle cx="327" cy="378.7" r="0.65"/><circle cx="339.3" cy="400.5" r="0.65"/><circle cx="303.6" cy="384.7" r="0.65"/><circle cx="303.5" cy="385.5" r="0.65"/><circle cx="322" cy="409.9" r="0.65"/><circle cx="298.2" cy="405.1" r="0.65"/><circle cx="408.2" cy="404.7" r="0.65"/><circle cx="333.1" cy="389" r="0.65"/><circle cx="320.9" cy="388.5" r="0.65"/><circle cx="409.5" cy="384.4" r="0.65"/><circle cx="298" cy="387.5" r="0.65"/><circle cx="388.1" cy="386.9" r="0.65"/><circle cx="362.8" cy="415.2" r="0.65"/><circle cx="374.6" cy="395.7" r="0.65"/><circle cx="351.6" cy="388.1" r="0.65"/><circle cx="315.2" cy="404.1" r="0.65"/><circle cx="369.2" cy="382.7" r="0.65"/><circle cx="412.4" cy="383.2" r="0.65"/><circle cx="324.8" cy="402.2" r="0.65"/><circle cx="356.3" cy="400.7" r="0.65"/><circle cx="302.7" cy="404.5" r="0.65"/><circle cx="405.2" cy="404.1" r="0.65"/><circle cx="399" cy="383" r="0.65"/></g>
<g fill="#2a2aff"><circle cx="314.4" cy="432.5" r="0.65"/><circle cx="348.1" cy="431.1" r="0.65"/><circle cx="316.3" cy="441.9" r="0.65"/><circle cx="341.2" cy="423.6" r="0.65"/><circle cx="363.3" cy="417" r="0.65"/><circle cx="328.5" cy="435.2" r="0.65"/><circle cx="321.1" cy="440.9" r="0.65"/><circle cx="328.2" cy="432" r="0.65"/><circle cx="333.9" cy="428.5" r="0.65"/><circle cx="366.5" cy="433.2" r="0.65"/><circle cx="340" cy="430.8" r="0.65"/><circle cx="343.4" cy="432.8" r="0.65"/><circle cx="336.5" cy="429.9" r="0.65"/><circle cx="338.3" cy="427.2" r="0.65"/><circle cx="348.6" cy="422.2" r="0.65"/><circle cx="354.1" cy="426.6" r="0.65"/><circle cx="344.9" cy="434.6" r="0.65"/><circle cx="354.6" cy="437.8" r="0.65"/><circle cx="352" cy="417.1" r="0.65"/><circle cx="336.4" cy="425.4" r="0.65"/><circle cx="355.2" cy="430.9" r="0.65"/><circle cx="361.6" cy="434.6" r="0.65"/><circle cx="328.6" cy="426.5" r="0.65"/><circle cx="353.1" cy="428.4" r="0.65"/><circle cx="359.3" cy="439.7" r="0.65"/><circle cx="334.2" cy="416" r="0.65"/><circle cx="342.2" cy="422.2" r="0.65"/><circle cx="352.3" cy="446.6" r="0.65"/><circle cx="338.4" cy="408" r="0.65"/><circle cx="349" cy="424.6" r="0.65"/><circle cx="327.9" cy="431.8" r="0.65"/><circle cx="330.6" cy="433.2" r="0.65"/><circle cx="348.2" cy="437" r="0.65"/><circle cx="326.5" cy="426" r="0.65"/><circle cx="354.7" cy="434.9" r="0.65"/><circle cx="336.3" cy="423.6" r="0.65"/><circle cx="344.3" cy="421.1" r="0.65"/><circle cx="355.9" cy="433.1" r="0.65"/><circle cx="360.8" cy="445.9" r="0.65"/><circle cx="332.9" cy="430.4" r="0.65"/><circle cx="359.5" cy="423.9" r="0.65"/><circle cx="354.1" cy="437.6" r="0.65"/><circle cx="345.4" cy="415.5" r="0.65"/><circle cx="356.3" cy="422" r="0.65"/><circle cx="348" cy="440.7" r="0.65"/><circle cx="341" cy="420.2" r="0.65"/><circle cx="335.2" cy="420.4" r="0.65"/><circle cx="353.5" cy="445.1" r="0.65"/><circle cx="347.3" cy="435.1" r="0.65"/><circle cx="343.5" cy="418.8" r="0.65"/><circle cx="326.3" cy="444" r="0.65"/><circle cx="341.5" cy="429.8" r="0.65"/><circle cx="350.2" cy="429.7" r="0.65"/><circle cx="333.9" cy="432.6" r="0.65"/><circle cx="376.7" cy="426.7" r="0.65"/><circle cx="358.4" cy="427.9" r="0.65"/><circle cx="349.6" cy="443.2" r="0.65"/><circle cx="353.4" cy="410.3" r="0.65"/><circle cx="321" cy="425.9" r="0.65"/><circle cx="327.9" cy="425.3" r="0.65"/><circle cx="351" cy="431.7" r="0.65"/><circle cx="328.7" cy="435.4" r="0.65"/><circle cx="365.2" cy="433.2" r="0.65"/><circle cx="345.6" cy="426.4" r="0.65"/><circle cx="338.1" cy="432.5" r="0.65"/><circle cx="324.8" cy="414.2" r="0.65"/><circle cx="350.2" cy="425.8" r="0.65"/><circle cx="338" cy="439.4" r="0.65"/><circle cx="356.9" cy="434.9" r="0.65"/><circle cx="347" cy="439.4" r="0.65"/><circle cx="378.3" cy="431.6" r="0.65"/><circle cx="351" cy="423.5" r="0.65"/><circle cx="330.3" cy="429.4" r="0.65"/><circle cx="327.8" cy="437.7" r="0.65"/><circle cx="358.5" cy="421.3" r="0.65"/><circle cx="352.7" cy="438.5" r="0.65"/><circle cx="344.9" cy="424.7" r="0.65"/><circle cx="340.5" cy="433.5" r="0.65"/><circle cx="349.1" cy="424.1" r="0.65"/><circle cx="337.3" cy="443.4" r="0.65"/><circle cx="338.4" cy="432.1" r="0.65"/><circle cx="343.1" cy="428.6" r="0.65"/><circle cx="362.1" cy="431.1" r="0.65"/><circle cx="351.8" cy="436.1" r="0.65"/><circle cx="344.9" cy="426.4" r="0.65"/><circle cx="329.6" cy="422.8" r="0.65"/><circle cx="334.2" cy="433.2" r="0.65"/><circle cx="354.1" cy="426.2" r="0.65"/><circle cx="347.3" cy="436" r="0.65"/><circle cx="373.5" cy="431.7" r="0.65"/><circle cx="346.7" cy="430.3" r="0.65"/><circle cx="348.1" cy="433.1" r="0.65"/><circle cx="338" cy="439.4" r="0.65"/><circle cx="330.1" cy="425.2" r="0.65"/><circle cx="369.9" cy="429.4" r="0.65"/><circle cx="348.3" cy="432.8" r="0.65"/><circle cx="340.7" cy="415.5" r="0.65"/><circle cx="348.8" cy="426.5" r="0.65"/><circle cx="360.8" cy="454.3" r="0.65"/><circle cx="355.6" cy="431.3" r="0.65"/><circle cx="347.6" cy="430" r="0.65"/><circle cx="355.6" cy="425.9" r="0.65"/><circle cx="369.5" cy="434.3" r="0.65"/><circle cx="352.3" cy="423.4" r="0.65"/><circle cx="338.2" cy="432.3" r="0.65"/><circle cx="354.9" cy="429" r="0.65"/><circle cx="345" cy="428.7" r="0.65"/><circle cx="384.3" cy="434.4" r="0.65"/><circle cx="331.1" cy="429.4" r="0.65"/><circle cx="320.6" cy="436" r="0.65"/><circle cx="318.9" cy="421" r="0.65"/><circle cx="357.3" cy="432.7" r="0.65"/><circle cx="314.6" cy="440.6" r="0.65"/><circle cx="331.4" cy="406.9" r="0.65"/><circle cx="324.8" cy="430.9" r="0.65"/><circle cx="358" cy="426.2" r="0.65"/><circle cx="340.8" cy="435.5" r="0.65"/><circle cx="360.3" cy="432.4" r="0.65"/><circle cx="323.5" cy="436.7" r="0.65"/><circle cx="337.6" cy="419.1" r="0.65"/><circle cx="343.5" cy="445" r="0.65"/><circle cx="340.8" cy="424.1" r="0.65"/><circle cx="332.7" cy="435.4" r="0.65"/><circle cx="327.9" cy="429.1" r="0.65"/><circle cx="346.6" cy="435.4" r="0.65"/><circle cx="347.9" cy="426.7" r="0.65"/><circle cx="336.5" cy="431.5" r="0.65"/><circle cx="355" cy="433.2" r="0.65"/><circle cx="323" cy="426.3" r="0.65"/><circle cx="345" cy="427.6" r="0.65"/><circle cx="321" cy="425.4" r="0.65"/><circle cx="335.2" cy="416.5" r="0.65"/><circle cx="311.9" cy="440.2" r="0.65"/><circle cx="352.7" cy="439.1" r="0.65"/><circle cx="328.8" cy="447.6" r="0.65"/><circle cx="354" cy="423.7" r="0.65"/><circle cx="337.6" cy="415" r="0.65"/><circle cx="368" cy="438" r="0.65"/><circle cx="337.2" cy="441.1" r="0.65"/><circle cx="304.6" cy="434" r="0.65"/><circle cx="357.5" cy="422" r="0.65"/><circle cx="302.6" cy="450.3" r="0.65"/><circle cx="402.4" cy="438.1" r="0.65"/><circle cx="380.4" cy="419" r="0.65"/><circle cx="326.9" cy="444.9" r="0.65"/><circle cx="387.1" cy="440.2" r="0.65"/><circle cx="353.6" cy="451.4" r="0.65"/><circle cx="363.3" cy="435.1" r="0.65"/><circle cx="318.4" cy="444.3" r="0.65"/><circle cx="404.7" cy="418.2" r="0.65"/><circle cx="330.6" cy="439.7" r="0.65"/><circle cx="334" cy="438.7" r="0.65"/><circle cx="339.3" cy="415.9" r="0.65"/><circle cx="295.2" cy="438" r="0.65"/><circle cx="359.2" cy="428.8" r="0.65"/><circle cx="333.3" cy="424.8" r="0.65"/><circle cx="344.7" cy="445.9" r="0.65"/><circle cx="402.8" cy="443.8" r="0.65"/><circle cx="377.9" cy="417.1" r="0.65"/><circle cx="313.6" cy="423.5" r="0.65"/><circle cx="386.8" cy="438.6" r="0.65"/><circle cx="403.5" cy="446.3" r="0.65"/><circle cx="355.6" cy="415.2" r="0.65"/><circle cx="356.4" cy="419" r="0.65"/><circle cx="341.5" cy="427.5" r="0.65"/><circle cx="351.6" cy="425.2" r="0.65"/><circle cx="381.6" cy="424.9" r="0.65"/><circle cx="384.6" cy="443.5" r="0.65"/><circle cx="371.7" cy="422.1" r="0.65"/><circle cx="383" cy="444.8" r="0.65"/><circle cx="359.3" cy="450.9" r="0.65"/><circle cx="410" cy="427.5" r="0.65"/><circle cx="322.7" cy="429.2" r="0.65"/><circle cx="330.8" cy="430.8" r="0.65"/><circle cx="387.8" cy="419.7" r="0.65"/><circle cx="411.4" cy="427.1" r="0.65"/><circle cx="357.9" cy="432.4" r="0.65"/><circle cx="311.4" cy="450.2" r="0.65"/><circle cx="400.2" cy="415.4" r="0.65"/><circle cx="393" cy="444.5" r="0.65"/><circle cx="368.5" cy="444.2" r="0.65"/><circle cx="332" cy="422.2" r="0.65"/><circle cx="405.3" cy="451" r="0.65"/><circle cx="387" cy="425.2" r="0.65"/><circle cx="377.2" cy="446" r="0.65"/><circle cx="335.4" cy="423.9" r="0.65"/><circle cx="317.7" cy="445.1" r="0.65"/><circle cx="350.8" cy="445.1" r="0.65"/><circle cx="324.8" cy="445.6" r="0.65"/><circle cx="318.7" cy="447.7" r="0.65"/><circle cx="342.8" cy="438.9" r="0.65"/><circle cx="310" cy="444.8" r="0.65"/><circle cx="341.7" cy="448.8" r="0.65"/><circle cx="328.9" cy="449.8" r="0.65"/><circle cx="382.1" cy="446.9" r="0.65"/><circle cx="349.6" cy="446.4" r="0.65"/><circle cx="375.3" cy="415.4" r="0.65"/><circle cx="378" cy="448.3" r="0.65"/><circle cx="316.7" cy="445.3" r="0.65"/><circle cx="399.7" cy="448.3" r="0.65"/><circle cx="352.8" cy="451.7" r="0.65"/><circle cx="353.8" cy="455.3" r="0.65"/><circle cx="347.9" cy="456" r="0.65"/><circle cx="351.2" cy="454.7" r="0.65"/><circle cx="352" cy="455.2" r="0.65"/><circle cx="354" cy="453.5" r="0.65"/><circle cx="345.8" cy="455.3" r="0.65"/><circle cx="345.2" cy="450.2" r="0.65"/></g>
<line x1="58.7" y1="430.7" x2="179.3" y2="343.6" stroke="#7ab8e0" stroke-width="0.9"/>
<line x1="289.8" y1="430.4" x2="412.1" y2="341.7" stroke="#7ab8e0" stroke-width="0.9"/>
<rect x="27.5" y="17.5" width="191.1" height="104.3" fill="none" stroke="#a8a8a8" stroke-width="0.9"/>
<line x1="59.3" y1="121.8" x2="59.3" y2="120" stroke="#8a8a8a" stroke-width="0.6"/>
<line x1="59.3" y1="17.5" x2="59.3" y2="19.3" stroke="#8a8a8a" stroke-width="0.6"/>
<line x1="91.2" y1="121.8" x2="91.2" y2="120" stroke="#8a8a8a" stroke-width="0.6"/>
<line x1="91.2" y1="17.5" x2="91.2" y2="19.3" stroke="#8a8a8a" stroke-width="0.6"/>
<line x1="123" y1="121.8" x2="123" y2="120" stroke="#8a8a8a" stroke-width="0.6"/>
<line x1="123" y1="17.5" x2="123" y2="19.3" stroke="#8a8a8a" stroke-width="0.6"/>
<line x1="154.9" y1="121.8" x2="154.9" y2="120" stroke="#8a8a8a" stroke-width="0.6"/>
<line x1="154.9" y1="17.5" x2="154.9" y2="19.3" stroke="#8a8a8a" stroke-width="0.6"/>
<line x1="186.8" y1="121.8" x2="186.8" y2="120" stroke="#8a8a8a" stroke-width="0.6"/>
<line x1="186.8" y1="17.5" x2="186.8" y2="19.3" stroke="#8a8a8a" stroke-width="0.6"/>
<line x1="27.5" y1="104.4" x2="29.3" y2="104.4" stroke="#8a8a8a" stroke-width="0.6"/>
<line x1="218.6" y1="104.4" x2="216.8" y2="104.4" stroke="#8a8a8a" stroke-width="0.6"/>
<line x1="27.5" y1="87" x2="29.3" y2="87" stroke="#8a8a8a" stroke-width="0.6"/>
<line x1="218.6" y1="87" x2="216.8" y2="87" stroke="#8a8a8a" stroke-width="0.6"/>
<line x1="27.5" y1="69.7" x2="29.3" y2="69.7" stroke="#8a8a8a" stroke-width="0.6"/>
<line x1="218.6" y1="69.7" x2="216.8" y2="69.7" stroke="#8a8a8a" stroke-width="0.6"/>
<line x1="27.5" y1="52.3" x2="29.3" y2="52.3" stroke="#8a8a8a" stroke-width="0.6"/>
<line x1="218.6" y1="52.3" x2="216.8" y2="52.3" stroke="#8a8a8a" stroke-width="0.6"/>
<line x1="27.5" y1="34.9" x2="29.3" y2="34.9" stroke="#8a8a8a" stroke-width="0.6"/>
<line x1="218.6" y1="34.9" x2="216.8" y2="34.9" stroke="#8a8a8a" stroke-width="0.6"/>
<text x="59.3" y="130.2" font-size="5.9" text-anchor="middle" font-weight="normal" font-style="normal" fill="#3a3a3a" font-family="'Liberation Sans',sans-serif" transform="matrix(1 0 0 1.12 0 -15.62)" stroke="#3a3a3a" stroke-width="0.25">2</text>
<text x="91.2" y="130.2" font-size="5.9" text-anchor="middle" font-weight="normal" font-style="normal" fill="#3a3a3a" font-family="'Liberation Sans',sans-serif" transform="matrix(1 0 0 1.12 0 -15.62)" stroke="#3a3a3a" stroke-width="0.25">4</text>
<text x="123" y="130.2" font-size="5.9" text-anchor="middle" font-weight="normal" font-style="normal" fill="#3a3a3a" font-family="'Liberation Sans',sans-serif" transform="matrix(1 0 0 1.12 0 -15.62)" stroke="#3a3a3a" stroke-width="0.25">6</text>
<text x="154.9" y="130.2" font-size="5.9" text-anchor="middle" font-weight="normal" font-style="normal" fill="#3a3a3a" font-family="'Liberation Sans',sans-serif" transform="matrix(1 0 0 1.12 0 -15.62)" stroke="#3a3a3a" stroke-width="0.25">8</text>
<text x="186.8" y="130.2" font-size="5.9" text-anchor="middle" font-weight="normal" font-style="normal" fill="#3a3a3a" font-family="'Liberation Sans',sans-serif" transform="matrix(1 0 0 1.12 0 -15.62)" stroke="#3a3a3a" stroke-width="0.25">10</text>
<text x="218.6" y="130.2" font-size="5.9" text-anchor="middle" font-weight="normal" font-style="normal" fill="#3a3a3a" font-family="'Liberation Sans',sans-serif" transform="matrix(1 0 0 1.12 0 -15.62)" stroke="#3a3a3a" stroke-width="0.25">12</text>
<text x="25.2" y="124.6" font-size="5.9" text-anchor="end" font-weight="normal" font-style="normal" fill="#3a3a3a" font-family="'Liberation Sans',sans-serif" transform="matrix(1 0 0 1.12 0 -14.95)" stroke="#3a3a3a" stroke-width="0.25">100</text>
<text x="25.2" y="107.2" font-size="5.9" text-anchor="end" font-weight="normal" font-style="normal" fill="#3a3a3a" font-family="'Liberation Sans',sans-serif" transform="matrix(1 0 0 1.12 0 -12.87)" stroke="#3a3a3a" stroke-width="0.25">150</text>
<text x="25.2" y="89.9" font-size="5.9" text-anchor="end" font-weight="normal" font-style="normal" fill="#3a3a3a" font-family="'Liberation Sans',sans-serif" transform="matrix(1 0 0 1.12 0 -10.78)" stroke="#3a3a3a" stroke-width="0.25">200</text>
<text x="25.2" y="72.5" font-size="5.9" text-anchor="end" font-weight="normal" font-style="normal" fill="#3a3a3a" font-family="'Liberation Sans',sans-serif" transform="matrix(1 0 0 1.12 0 -8.70)" stroke="#3a3a3a" stroke-width="0.25">250</text>
<text x="25.2" y="55.1" font-size="5.9" text-anchor="end" font-weight="normal" font-style="normal" fill="#3a3a3a" font-family="'Liberation Sans',sans-serif" transform="matrix(1 0 0 1.12 0 -6.61)" stroke="#3a3a3a" stroke-width="0.25">300</text>
<text x="25.2" y="37.7" font-size="5.9" text-anchor="end" font-weight="normal" font-style="normal" fill="#3a3a3a" font-family="'Liberation Sans',sans-serif" transform="matrix(1 0 0 1.12 0 -4.52)" stroke="#3a3a3a" stroke-width="0.25">350</text>
<text x="25.2" y="20.3" font-size="5.9" text-anchor="end" font-weight="normal" font-style="normal" fill="#3a3a3a" font-family="'Liberation Sans',sans-serif" transform="matrix(1 0 0 1.12 0 -2.44)" stroke="#3a3a3a" stroke-width="0.25">400</text>
<rect x="260" y="16.7" width="189.6" height="104.1" fill="none" stroke="#a8a8a8" stroke-width="0.9"/>
<line x1="291.6" y1="120.8" x2="291.6" y2="119" stroke="#8a8a8a" stroke-width="0.6"/>
<line x1="291.6" y1="16.7" x2="291.6" y2="18.5" stroke="#8a8a8a" stroke-width="0.6"/>
<line x1="323.2" y1="120.8" x2="323.2" y2="119" stroke="#8a8a8a" stroke-width="0.6"/>
<line x1="323.2" y1="16.7" x2="323.2" y2="18.5" stroke="#8a8a8a" stroke-width="0.6"/>
<line x1="354.8" y1="120.8" x2="354.8" y2="119" stroke="#8a8a8a" stroke-width="0.6"/>
<line x1="354.8" y1="16.7" x2="354.8" y2="18.5" stroke="#8a8a8a" stroke-width="0.6"/>
<line x1="386.4" y1="120.8" x2="386.4" y2="119" stroke="#8a8a8a" stroke-width="0.6"/>
<line x1="386.4" y1="16.7" x2="386.4" y2="18.5" stroke="#8a8a8a" stroke-width="0.6"/>
<line x1="418" y1="120.8" x2="418" y2="119" stroke="#8a8a8a" stroke-width="0.6"/>
<line x1="418" y1="16.7" x2="418" y2="18.5" stroke="#8a8a8a" stroke-width="0.6"/>
<line x1="260" y1="111.5" x2="261.8" y2="111.5" stroke="#8a8a8a" stroke-width="0.6"/>
<line x1="449.6" y1="111.5" x2="447.8" y2="111.5" stroke="#8a8a8a" stroke-width="0.6"/>
<line x1="260" y1="91.2" x2="261.8" y2="91.2" stroke="#8a8a8a" stroke-width="0.6"/>
<line x1="449.6" y1="91.2" x2="447.8" y2="91.2" stroke="#8a8a8a" stroke-width="0.6"/>
<line x1="260" y1="70.8" x2="261.8" y2="70.8" stroke="#8a8a8a" stroke-width="0.6"/>
<line x1="449.6" y1="70.8" x2="447.8" y2="70.8" stroke="#8a8a8a" stroke-width="0.6"/>
<line x1="260" y1="50.5" x2="261.8" y2="50.5" stroke="#8a8a8a" stroke-width="0.6"/>
<line x1="449.6" y1="50.5" x2="447.8" y2="50.5" stroke="#8a8a8a" stroke-width="0.6"/>
<line x1="260" y1="30.1" x2="261.8" y2="30.1" stroke="#8a8a8a" stroke-width="0.6"/>
<line x1="449.6" y1="30.1" x2="447.8" y2="30.1" stroke="#8a8a8a" stroke-width="0.6"/>
<text x="260.8" y="130" font-size="5.9" text-anchor="middle" font-weight="normal" font-style="normal" fill="#3a3a3a" font-family="'Liberation Sans',sans-serif" transform="matrix(1 0 0 1.12 0 -15.60)" stroke="#3a3a3a" stroke-width="0.25">0</text>
<text x="292.4" y="130" font-size="5.9" text-anchor="middle" font-weight="normal" font-style="normal" fill="#3a3a3a" font-family="'Liberation Sans',sans-serif" transform="matrix(1 0 0 1.12 0 -15.60)" stroke="#3a3a3a" stroke-width="0.25">2</text>
<text x="324" y="130" font-size="5.9" text-anchor="middle" font-weight="normal" font-style="normal" fill="#3a3a3a" font-family="'Liberation Sans',sans-serif" transform="matrix(1 0 0 1.12 0 -15.60)" stroke="#3a3a3a" stroke-width="0.25">4</text>
<text x="355.6" y="130" font-size="5.9" text-anchor="middle" font-weight="normal" font-style="normal" fill="#3a3a3a" font-family="'Liberation Sans',sans-serif" transform="matrix(1 0 0 1.12 0 -15.60)" stroke="#3a3a3a" stroke-width="0.25">6</text>
<text x="387.2" y="130" font-size="5.9" text-anchor="middle" font-weight="normal" font-style="normal" fill="#3a3a3a" font-family="'Liberation Sans',sans-serif" transform="matrix(1 0 0 1.12 0 -15.60)" stroke="#3a3a3a" stroke-width="0.25">8</text>
<text x="418.8" y="130" font-size="5.9" text-anchor="middle" font-weight="normal" font-style="normal" fill="#3a3a3a" font-family="'Liberation Sans',sans-serif" transform="matrix(1 0 0 1.12 0 -15.60)" stroke="#3a3a3a" stroke-width="0.25">10</text>
<text x="450.4" y="130" font-size="5.9" text-anchor="middle" font-weight="normal" font-style="normal" fill="#3a3a3a" font-family="'Liberation Sans',sans-serif" transform="matrix(1 0 0 1.12 0 -15.60)" stroke="#3a3a3a" stroke-width="0.25">12</text>
<text x="257.5" y="114.3" font-size="5.9" text-anchor="end" font-weight="normal" font-style="normal" fill="#3a3a3a" font-family="'Liberation Sans',sans-serif" transform="matrix(1 0 0 1.12 0 -13.72)" stroke="#3a3a3a" stroke-width="0.25">100</text>
<text x="257.5" y="94" font-size="5.9" text-anchor="end" font-weight="normal" font-style="normal" fill="#3a3a3a" font-family="'Liberation Sans',sans-serif" transform="matrix(1 0 0 1.12 0 -11.28)" stroke="#3a3a3a" stroke-width="0.25">200</text>
<text x="257.5" y="73.6" font-size="5.9" text-anchor="end" font-weight="normal" font-style="normal" fill="#3a3a3a" font-family="'Liberation Sans',sans-serif" transform="matrix(1 0 0 1.12 0 -8.83)" stroke="#3a3a3a" stroke-width="0.25">300</text>
<text x="257.5" y="53.3" font-size="5.9" text-anchor="end" font-weight="normal" font-style="normal" fill="#3a3a3a" font-family="'Liberation Sans',sans-serif" transform="matrix(1 0 0 1.12 0 -6.39)" stroke="#3a3a3a" stroke-width="0.25">400</text>
<text x="257.5" y="32.9" font-size="5.9" text-anchor="end" font-weight="normal" font-style="normal" fill="#3a3a3a" font-family="'Liberation Sans',sans-serif" transform="matrix(1 0 0 1.12 0 -3.95)" stroke="#3a3a3a" stroke-width="0.25">500</text>
<rect x="31.1" y="169.5" width="182.9" height="100" fill="none" stroke="#a8a8a8" stroke-width="0.9"/>
<line x1="61.6" y1="269.5" x2="61.6" y2="267.7" stroke="#8a8a8a" stroke-width="0.6"/>
<line x1="61.6" y1="169.5" x2="61.6" y2="171.3" stroke="#8a8a8a" stroke-width="0.6"/>
<line x1="92.1" y1="269.5" x2="92.1" y2="267.7" stroke="#8a8a8a" stroke-width="0.6"/>
<line x1="92.1" y1="169.5" x2="92.1" y2="171.3" stroke="#8a8a8a" stroke-width="0.6"/>
<line x1="122.6" y1="269.5" x2="122.6" y2="267.7" stroke="#8a8a8a" stroke-width="0.6"/>
<line x1="122.6" y1="169.5" x2="122.6" y2="171.3" stroke="#8a8a8a" stroke-width="0.6"/>
<line x1="153" y1="269.5" x2="153" y2="267.7" stroke="#8a8a8a" stroke-width="0.6"/>
<line x1="153" y1="169.5" x2="153" y2="171.3" stroke="#8a8a8a" stroke-width="0.6"/>
<line x1="183.5" y1="269.5" x2="183.5" y2="267.7" stroke="#8a8a8a" stroke-width="0.6"/>
<line x1="183.5" y1="169.5" x2="183.5" y2="171.3" stroke="#8a8a8a" stroke-width="0.6"/>
<line x1="31.1" y1="252.8" x2="32.9" y2="252.8" stroke="#8a8a8a" stroke-width="0.6"/>
<line x1="214" y1="252.8" x2="212.2" y2="252.8" stroke="#8a8a8a" stroke-width="0.6"/>
<line x1="31.1" y1="236.2" x2="32.9" y2="236.2" stroke="#8a8a8a" stroke-width="0.6"/>
<line x1="214" y1="236.2" x2="212.2" y2="236.2" stroke="#8a8a8a" stroke-width="0.6"/>
<line x1="31.1" y1="219.5" x2="32.9" y2="219.5" stroke="#8a8a8a" stroke-width="0.6"/>
<line x1="214" y1="219.5" x2="212.2" y2="219.5" stroke="#8a8a8a" stroke-width="0.6"/>
<line x1="31.1" y1="202.8" x2="32.9" y2="202.8" stroke="#8a8a8a" stroke-width="0.6"/>
<line x1="214" y1="202.8" x2="212.2" y2="202.8" stroke="#8a8a8a" stroke-width="0.6"/>
<line x1="31.1" y1="186.2" x2="32.9" y2="186.2" stroke="#8a8a8a" stroke-width="0.6"/>
<line x1="214" y1="186.2" x2="212.2" y2="186.2" stroke="#8a8a8a" stroke-width="0.6"/>
<text x="31.1" y="278.2" font-size="5.9" text-anchor="middle" font-weight="normal" font-style="normal" fill="#3a3a3a" font-family="'Liberation Sans',sans-serif" transform="matrix(1 0 0 1.12 0 -33.38)" stroke="#3a3a3a" stroke-width="0.25">0</text>
<text x="61.6" y="278.2" font-size="5.9" text-anchor="middle" font-weight="normal" font-style="normal" fill="#3a3a3a" font-family="'Liberation Sans',sans-serif" transform="matrix(1 0 0 1.12 0 -33.38)" stroke="#3a3a3a" stroke-width="0.25">2</text>
<text x="92.1" y="278.2" font-size="5.9" text-anchor="middle" font-weight="normal" font-style="normal" fill="#3a3a3a" font-family="'Liberation Sans',sans-serif" transform="matrix(1 0 0 1.12 0 -33.38)" stroke="#3a3a3a" stroke-width="0.25">4</text>
<text x="122.6" y="278.2" font-size="5.9" text-anchor="middle" font-weight="normal" font-style="normal" fill="#3a3a3a" font-family="'Liberation Sans',sans-serif" transform="matrix(1 0 0 1.12 0 -33.38)" stroke="#3a3a3a" stroke-width="0.25">6</text>
<text x="153" y="278.2" font-size="5.9" text-anchor="middle" font-weight="normal" font-style="normal" fill="#3a3a3a" font-family="'Liberation Sans',sans-serif" transform="matrix(1 0 0 1.12 0 -33.38)" stroke="#3a3a3a" stroke-width="0.25">8</text>
<text x="183.5" y="278.2" font-size="5.9" text-anchor="middle" font-weight="normal" font-style="normal" fill="#3a3a3a" font-family="'Liberation Sans',sans-serif" transform="matrix(1 0 0 1.12 0 -33.38)" stroke="#3a3a3a" stroke-width="0.25">10</text>
<text x="214" y="278.2" font-size="5.9" text-anchor="middle" font-weight="normal" font-style="normal" fill="#3a3a3a" font-family="'Liberation Sans',sans-serif" transform="matrix(1 0 0 1.12 0 -33.38)" stroke="#3a3a3a" stroke-width="0.25">12</text>
<text x="28.6" y="272.3" font-size="5.9" text-anchor="end" font-weight="normal" font-style="normal" fill="#3a3a3a" font-family="'Liberation Sans',sans-serif" transform="matrix(1 0 0 1.12 0 -32.68)" stroke="#3a3a3a" stroke-width="0.25">−300</text>
<text x="28.6" y="255.7" font-size="5.9" text-anchor="end" font-weight="normal" font-style="normal" fill="#3a3a3a" font-family="'Liberation Sans',sans-serif" transform="matrix(1 0 0 1.12 0 -30.68)" stroke="#3a3a3a" stroke-width="0.25">−200</text>
<text x="28.6" y="239" font-size="5.9" text-anchor="end" font-weight="normal" font-style="normal" fill="#3a3a3a" font-family="'Liberation Sans',sans-serif" transform="matrix(1 0 0 1.12 0 -28.68)" stroke="#3a3a3a" stroke-width="0.25">−100</text>
<text x="28.6" y="222.3" font-size="5.9" text-anchor="end" font-weight="normal" font-style="normal" fill="#3a3a3a" font-family="'Liberation Sans',sans-serif" transform="matrix(1 0 0 1.12 0 -26.68)" stroke="#3a3a3a" stroke-width="0.25">0</text>
<text x="28.6" y="205.7" font-size="5.9" text-anchor="end" font-weight="normal" font-style="normal" fill="#3a3a3a" font-family="'Liberation Sans',sans-serif" transform="matrix(1 0 0 1.12 0 -24.68)" stroke="#3a3a3a" stroke-width="0.25">100</text>
<text x="28.6" y="189" font-size="5.9" text-anchor="end" font-weight="normal" font-style="normal" fill="#3a3a3a" font-family="'Liberation Sans',sans-serif" transform="matrix(1 0 0 1.12 0 -22.68)" stroke="#3a3a3a" stroke-width="0.25">200</text>
<text x="28.6" y="172.3" font-size="5.9" text-anchor="end" font-weight="normal" font-style="normal" fill="#3a3a3a" font-family="'Liberation Sans',sans-serif" transform="matrix(1 0 0 1.12 0 -20.68)" stroke="#3a3a3a" stroke-width="0.25">300</text>
<rect x="258.1" y="165.2" width="192.6" height="105" fill="none" stroke="#a8a8a8" stroke-width="0.9"/>
<line x1="290.2" y1="270.2" x2="290.2" y2="268.4" stroke="#8a8a8a" stroke-width="0.6"/>
<line x1="290.2" y1="165.2" x2="290.2" y2="167" stroke="#8a8a8a" stroke-width="0.6"/>
<line x1="322.3" y1="270.2" x2="322.3" y2="268.4" stroke="#8a8a8a" stroke-width="0.6"/>
<line x1="322.3" y1="165.2" x2="322.3" y2="167" stroke="#8a8a8a" stroke-width="0.6"/>
<line x1="354.4" y1="270.2" x2="354.4" y2="268.4" stroke="#8a8a8a" stroke-width="0.6"/>
<line x1="354.4" y1="165.2" x2="354.4" y2="167" stroke="#8a8a8a" stroke-width="0.6"/>
<line x1="386.5" y1="270.2" x2="386.5" y2="268.4" stroke="#8a8a8a" stroke-width="0.6"/>
<line x1="386.5" y1="165.2" x2="386.5" y2="167" stroke="#8a8a8a" stroke-width="0.6"/>
<line x1="418.6" y1="270.2" x2="418.6" y2="268.4" stroke="#8a8a8a" stroke-width="0.6"/>
<line x1="418.6" y1="165.2" x2="418.6" y2="167" stroke="#8a8a8a" stroke-width="0.6"/>
<line x1="258.1" y1="252.7" x2="259.9" y2="252.7" stroke="#8a8a8a" stroke-width="0.6"/>
<line x1="450.7" y1="252.7" x2="448.9" y2="252.7" stroke="#8a8a8a" stroke-width="0.6"/>
<line x1="258.1" y1="235.2" x2="259.9" y2="235.2" stroke="#8a8a8a" stroke-width="0.6"/>
<line x1="450.7" y1="235.2" x2="448.9" y2="235.2" stroke="#8a8a8a" stroke-width="0.6"/>
<line x1="258.1" y1="217.7" x2="259.9" y2="217.7" stroke="#8a8a8a" stroke-width="0.6"/>
<line x1="450.7" y1="217.7" x2="448.9" y2="217.7" stroke="#8a8a8a" stroke-width="0.6"/>
<line x1="258.1" y1="200.2" x2="259.9" y2="200.2" stroke="#8a8a8a" stroke-width="0.6"/>
<line x1="450.7" y1="200.2" x2="448.9" y2="200.2" stroke="#8a8a8a" stroke-width="0.6"/>
<line x1="258.1" y1="182.7" x2="259.9" y2="182.7" stroke="#8a8a8a" stroke-width="0.6"/>
<line x1="450.7" y1="182.7" x2="448.9" y2="182.7" stroke="#8a8a8a" stroke-width="0.6"/>
<text x="258.1" y="279.6" font-size="5.9" text-anchor="middle" font-weight="normal" font-style="normal" fill="#3a3a3a" font-family="'Liberation Sans',sans-serif" transform="matrix(1 0 0 1.12 0 -33.55)" stroke="#3a3a3a" stroke-width="0.25">0</text>
<text x="290.2" y="279.6" font-size="5.9" text-anchor="middle" font-weight="normal" font-style="normal" fill="#3a3a3a" font-family="'Liberation Sans',sans-serif" transform="matrix(1 0 0 1.12 0 -33.55)" stroke="#3a3a3a" stroke-width="0.25">2</text>
<text x="322.3" y="279.6" font-size="5.9" text-anchor="middle" font-weight="normal" font-style="normal" fill="#3a3a3a" font-family="'Liberation Sans',sans-serif" transform="matrix(1 0 0 1.12 0 -33.55)" stroke="#3a3a3a" stroke-width="0.25">4</text>
<text x="354.4" y="279.6" font-size="5.9" text-anchor="middle" font-weight="normal" font-style="normal" fill="#3a3a3a" font-family="'Liberation Sans',sans-serif" transform="matrix(1 0 0 1.12 0 -33.55)" stroke="#3a3a3a" stroke-width="0.25">6</text>
<text x="386.5" y="279.6" font-size="5.9" text-anchor="middle" font-weight="normal" font-style="normal" fill="#3a3a3a" font-family="'Liberation Sans',sans-serif" transform="matrix(1 0 0 1.12 0 -33.55)" stroke="#3a3a3a" stroke-width="0.25">8</text>
<text x="418.6" y="279.6" font-size="5.9" text-anchor="middle" font-weight="normal" font-style="normal" fill="#3a3a3a" font-family="'Liberation Sans',sans-serif" transform="matrix(1 0 0 1.12 0 -33.55)" stroke="#3a3a3a" stroke-width="0.25">10</text>
<text x="450.7" y="279.6" font-size="5.9" text-anchor="middle" font-weight="normal" font-style="normal" fill="#3a3a3a" font-family="'Liberation Sans',sans-serif" transform="matrix(1 0 0 1.12 0 -33.55)" stroke="#3a3a3a" stroke-width="0.25">12</text>
<text x="255.6" y="273" font-size="5.9" text-anchor="end" font-weight="normal" font-style="normal" fill="#3a3a3a" font-family="'Liberation Sans',sans-serif" transform="matrix(1 0 0 1.12 0 -32.76)" stroke="#3a3a3a" stroke-width="0.25">−300</text>
<text x="255.6" y="255.5" font-size="5.9" text-anchor="end" font-weight="normal" font-style="normal" fill="#3a3a3a" font-family="'Liberation Sans',sans-serif" transform="matrix(1 0 0 1.12 0 -30.66)" stroke="#3a3a3a" stroke-width="0.25">−200</text>
<text x="255.6" y="238" font-size="5.9" text-anchor="end" font-weight="normal" font-style="normal" fill="#3a3a3a" font-family="'Liberation Sans',sans-serif" transform="matrix(1 0 0 1.12 0 -28.56)" stroke="#3a3a3a" stroke-width="0.25">−100</text>
<text x="255.6" y="220.5" font-size="5.9" text-anchor="end" font-weight="normal" font-style="normal" fill="#3a3a3a" font-family="'Liberation Sans',sans-serif" transform="matrix(1 0 0 1.12 0 -26.46)" stroke="#3a3a3a" stroke-width="0.25">0</text>
<text x="255.6" y="203" font-size="5.9" text-anchor="end" font-weight="normal" font-style="normal" fill="#3a3a3a" font-family="'Liberation Sans',sans-serif" transform="matrix(1 0 0 1.12 0 -24.36)" stroke="#3a3a3a" stroke-width="0.25">100</text>
<text x="255.6" y="185.5" font-size="5.9" text-anchor="end" font-weight="normal" font-style="normal" fill="#3a3a3a" font-family="'Liberation Sans',sans-serif" transform="matrix(1 0 0 1.12 0 -22.26)" stroke="#3a3a3a" stroke-width="0.25">200</text>
<text x="255.6" y="168" font-size="5.9" text-anchor="end" font-weight="normal" font-style="normal" fill="#3a3a3a" font-family="'Liberation Sans',sans-serif" transform="matrix(1 0 0 1.12 0 -20.16)" stroke="#3a3a3a" stroke-width="0.25">300</text>
<rect x="37.2" y="313.3" width="167.3" height="206" fill="none" stroke="#a8a8a8" stroke-width="0.75"/>
<line x1="65.1" y1="519.3" x2="65.1" y2="517.5" stroke="#8a8a8a" stroke-width="0.6"/>
<line x1="65.1" y1="313.3" x2="65.1" y2="315.1" stroke="#8a8a8a" stroke-width="0.6"/>
<line x1="93" y1="519.3" x2="93" y2="517.5" stroke="#8a8a8a" stroke-width="0.6"/>
<line x1="93" y1="313.3" x2="93" y2="315.1" stroke="#8a8a8a" stroke-width="0.6"/>
<line x1="120.9" y1="519.3" x2="120.9" y2="517.5" stroke="#8a8a8a" stroke-width="0.6"/>
<line x1="120.9" y1="313.3" x2="120.9" y2="315.1" stroke="#8a8a8a" stroke-width="0.6"/>
<line x1="148.7" y1="519.3" x2="148.7" y2="517.5" stroke="#8a8a8a" stroke-width="0.6"/>
<line x1="148.7" y1="313.3" x2="148.7" y2="315.1" stroke="#8a8a8a" stroke-width="0.6"/>
<line x1="176.6" y1="519.3" x2="176.6" y2="517.5" stroke="#8a8a8a" stroke-width="0.6"/>
<line x1="176.6" y1="313.3" x2="176.6" y2="315.1" stroke="#8a8a8a" stroke-width="0.6"/>
<line x1="37.2" y1="467.8" x2="39" y2="467.8" stroke="#8a8a8a" stroke-width="0.6"/>
<line x1="204.5" y1="467.8" x2="202.7" y2="467.8" stroke="#8a8a8a" stroke-width="0.6"/>
<line x1="37.2" y1="416.3" x2="39" y2="416.3" stroke="#8a8a8a" stroke-width="0.6"/>
<line x1="204.5" y1="416.3" x2="202.7" y2="416.3" stroke="#8a8a8a" stroke-width="0.6"/>
<line x1="37.2" y1="364.8" x2="39" y2="364.8" stroke="#8a8a8a" stroke-width="0.6"/>
<line x1="204.5" y1="364.8" x2="202.7" y2="364.8" stroke="#8a8a8a" stroke-width="0.6"/>
<text x="37.2" y="526.8" font-size="5.0" text-anchor="middle" font-weight="normal" font-style="normal" fill="#3a3a3a" font-family="'Liberation Sans',sans-serif" transform="matrix(1 0 0 1.12 0 -63.22)" stroke="#3a3a3a" stroke-width="0.08">220</text>
<text x="65.1" y="526.8" font-size="5.0" text-anchor="middle" font-weight="normal" font-style="normal" fill="#3a3a3a" font-family="'Liberation Sans',sans-serif" transform="matrix(1 0 0 1.12 0 -63.22)" stroke="#3a3a3a" stroke-width="0.08">240</text>
<text x="93" y="526.8" font-size="5.0" text-anchor="middle" font-weight="normal" font-style="normal" fill="#3a3a3a" font-family="'Liberation Sans',sans-serif" transform="matrix(1 0 0 1.12 0 -63.22)" stroke="#3a3a3a" stroke-width="0.08">260</text>
<text x="120.9" y="526.8" font-size="5.0" text-anchor="middle" font-weight="normal" font-style="normal" fill="#3a3a3a" font-family="'Liberation Sans',sans-serif" transform="matrix(1 0 0 1.12 0 -63.22)" stroke="#3a3a3a" stroke-width="0.08">280</text>
<text x="148.7" y="526.8" font-size="5.0" text-anchor="middle" font-weight="normal" font-style="normal" fill="#3a3a3a" font-family="'Liberation Sans',sans-serif" transform="matrix(1 0 0 1.12 0 -63.22)" stroke="#3a3a3a" stroke-width="0.08">300</text>
<text x="176.6" y="526.8" font-size="5.0" text-anchor="middle" font-weight="normal" font-style="normal" fill="#3a3a3a" font-family="'Liberation Sans',sans-serif" transform="matrix(1 0 0 1.12 0 -63.22)" stroke="#3a3a3a" stroke-width="0.08">320</text>
<text x="204.5" y="526.8" font-size="5.0" text-anchor="middle" font-weight="normal" font-style="normal" fill="#3a3a3a" font-family="'Liberation Sans',sans-serif" transform="matrix(1 0 0 1.12 0 -63.22)" stroke="#3a3a3a" stroke-width="0.08">340</text>
<text x="35" y="521.8" font-size="5.0" text-anchor="end" font-weight="normal" font-style="normal" fill="#3a3a3a" font-family="'Liberation Sans',sans-serif" transform="matrix(1 0 0 1.12 0 -62.62)" stroke="#3a3a3a" stroke-width="0.08">150</text>
<text x="35" y="470.3" font-size="5.0" text-anchor="end" font-weight="normal" font-style="normal" fill="#3a3a3a" font-family="'Liberation Sans',sans-serif" transform="matrix(1 0 0 1.12 0 -56.44)" stroke="#3a3a3a" stroke-width="0.08">200</text>
<text x="35" y="418.8" font-size="5.0" text-anchor="end" font-weight="normal" font-style="normal" fill="#3a3a3a" font-family="'Liberation Sans',sans-serif" transform="matrix(1 0 0 1.12 0 -50.26)" stroke="#3a3a3a" stroke-width="0.08">250</text>
<text x="35" y="367.3" font-size="5.0" text-anchor="end" font-weight="normal" font-style="normal" fill="#3a3a3a" font-family="'Liberation Sans',sans-serif" transform="matrix(1 0 0 1.12 0 -44.08)" stroke="#3a3a3a" stroke-width="0.08">300</text>
<text x="35" y="315.8" font-size="5.0" text-anchor="end" font-weight="normal" font-style="normal" fill="#3a3a3a" font-family="'Liberation Sans',sans-serif" transform="matrix(1 0 0 1.12 0 -37.90)" stroke="#3a3a3a" stroke-width="0.08">350</text>
<rect x="267.4" y="312.8" width="171.9" height="205.5" fill="none" stroke="#a8a8a8" stroke-width="0.75"/>
<line x1="296.1" y1="518.2" x2="296.1" y2="516.4" stroke="#8a8a8a" stroke-width="0.6"/>
<line x1="296.1" y1="312.8" x2="296.1" y2="314.6" stroke="#8a8a8a" stroke-width="0.6"/>
<line x1="324.7" y1="518.2" x2="324.7" y2="516.4" stroke="#8a8a8a" stroke-width="0.6"/>
<line x1="324.7" y1="312.8" x2="324.7" y2="314.6" stroke="#8a8a8a" stroke-width="0.6"/>
<line x1="353.4" y1="518.2" x2="353.4" y2="516.4" stroke="#8a8a8a" stroke-width="0.6"/>
<line x1="353.4" y1="312.8" x2="353.4" y2="314.6" stroke="#8a8a8a" stroke-width="0.6"/>
<line x1="382" y1="518.2" x2="382" y2="516.4" stroke="#8a8a8a" stroke-width="0.6"/>
<line x1="382" y1="312.8" x2="382" y2="314.6" stroke="#8a8a8a" stroke-width="0.6"/>
<line x1="410.6" y1="518.2" x2="410.6" y2="516.4" stroke="#8a8a8a" stroke-width="0.6"/>
<line x1="410.6" y1="312.8" x2="410.6" y2="314.6" stroke="#8a8a8a" stroke-width="0.6"/>
<line x1="267.4" y1="466.8" x2="269.2" y2="466.8" stroke="#8a8a8a" stroke-width="0.6"/>
<line x1="439.3" y1="466.8" x2="437.5" y2="466.8" stroke="#8a8a8a" stroke-width="0.6"/>
<line x1="267.4" y1="415.5" x2="269.2" y2="415.5" stroke="#8a8a8a" stroke-width="0.6"/>
<line x1="439.3" y1="415.5" x2="437.5" y2="415.5" stroke="#8a8a8a" stroke-width="0.6"/>
<line x1="267.4" y1="364.1" x2="269.2" y2="364.1" stroke="#8a8a8a" stroke-width="0.6"/>
<line x1="439.3" y1="364.1" x2="437.5" y2="364.1" stroke="#8a8a8a" stroke-width="0.6"/>
<text x="267.4" y="525.8" font-size="5.0" text-anchor="middle" font-weight="normal" font-style="normal" fill="#3a3a3a" font-family="'Liberation Sans',sans-serif" transform="matrix(1 0 0 1.12 0 -63.10)" stroke="#3a3a3a" stroke-width="0.08">220</text>
<text x="296.1" y="525.8" font-size="5.0" text-anchor="middle" font-weight="normal" font-style="normal" fill="#3a3a3a" font-family="'Liberation Sans',sans-serif" transform="matrix(1 0 0 1.12 0 -63.10)" stroke="#3a3a3a" stroke-width="0.08">240</text>
<text x="324.7" y="525.8" font-size="5.0" text-anchor="middle" font-weight="normal" font-style="normal" fill="#3a3a3a" font-family="'Liberation Sans',sans-serif" transform="matrix(1 0 0 1.12 0 -63.10)" stroke="#3a3a3a" stroke-width="0.08">260</text>
<text x="353.4" y="525.8" font-size="5.0" text-anchor="middle" font-weight="normal" font-style="normal" fill="#3a3a3a" font-family="'Liberation Sans',sans-serif" transform="matrix(1 0 0 1.12 0 -63.10)" stroke="#3a3a3a" stroke-width="0.08">280</text>
<text x="382" y="525.8" font-size="5.0" text-anchor="middle" font-weight="normal" font-style="normal" fill="#3a3a3a" font-family="'Liberation Sans',sans-serif" transform="matrix(1 0 0 1.12 0 -63.10)" stroke="#3a3a3a" stroke-width="0.08">300</text>
<text x="410.6" y="525.8" font-size="5.0" text-anchor="middle" font-weight="normal" font-style="normal" fill="#3a3a3a" font-family="'Liberation Sans',sans-serif" transform="matrix(1 0 0 1.12 0 -63.10)" stroke="#3a3a3a" stroke-width="0.08">320</text>
<text x="439.3" y="525.8" font-size="5.0" text-anchor="middle" font-weight="normal" font-style="normal" fill="#3a3a3a" font-family="'Liberation Sans',sans-serif" transform="matrix(1 0 0 1.12 0 -63.10)" stroke="#3a3a3a" stroke-width="0.08">340</text>
<text x="265.2" y="520.7" font-size="5.0" text-anchor="end" font-weight="normal" font-style="normal" fill="#3a3a3a" font-family="'Liberation Sans',sans-serif" transform="matrix(1 0 0 1.12 0 -62.48)" stroke="#3a3a3a" stroke-width="0.08">150</text>
<text x="265.2" y="469.3" font-size="5.0" text-anchor="end" font-weight="normal" font-style="normal" fill="#3a3a3a" font-family="'Liberation Sans',sans-serif" transform="matrix(1 0 0 1.12 0 -56.32)" stroke="#3a3a3a" stroke-width="0.08">200</text>
<text x="265.2" y="418" font-size="5.0" text-anchor="end" font-weight="normal" font-style="normal" fill="#3a3a3a" font-family="'Liberation Sans',sans-serif" transform="matrix(1 0 0 1.12 0 -50.16)" stroke="#3a3a3a" stroke-width="0.08">250</text>
<text x="265.2" y="366.6" font-size="5.0" text-anchor="end" font-weight="normal" font-style="normal" fill="#3a3a3a" font-family="'Liberation Sans',sans-serif" transform="matrix(1 0 0 1.12 0 -43.99)" stroke="#3a3a3a" stroke-width="0.08">300</text>
<text x="265.2" y="315.2" font-size="5.0" text-anchor="end" font-weight="normal" font-style="normal" fill="#3a3a3a" font-family="'Liberation Sans',sans-serif" transform="matrix(1 0 0 1.12 0 -37.83)" stroke="#3a3a3a" stroke-width="0.08">350</text>
<text x="205.2" y="142" font-size="6.3" fill="#555" stroke="#555" stroke-width="0.15" font-family="'Liberation Sans',sans-serif" transform="matrix(1 0 0 1.1 0 -14.20)">×10<tspan dy="-3" font-size="4.6">5</tspan></text>
<text x="437" y="141.1" font-size="6.3" fill="#555" stroke="#555" stroke-width="0.15" font-family="'Liberation Sans',sans-serif" transform="matrix(1 0 0 1.1 0 -14.11)">×10<tspan dy="-3" font-size="4.6">5</tspan></text>
<text x="201" y="288.4" font-size="6.3" fill="#555" stroke="#555" stroke-width="0.15" font-family="'Liberation Sans',sans-serif" transform="matrix(1 0 0 1.1 0 -28.84)">×10<tspan dy="-3" font-size="4.6">5</tspan></text>
<text x="437.4" y="290.2" font-size="6.3" fill="#555" stroke="#555" stroke-width="0.15" font-family="'Liberation Sans',sans-serif" transform="matrix(1 0 0 1.1 0 -29.02)">×10<tspan dy="-3" font-size="4.6">5</tspan></text>
<text x="117.6" y="13" font-size="8.6" text-anchor="middle" font-weight="bold" font-style="normal" fill="#000" font-family="'Liberation Sans',sans-serif" transform="matrix(1 0 0 1.12 0 -1.56)" stroke="#000" stroke-width="0.32">Feature value in ABP</text>
<text x="351" y="12.8" font-size="8.6" text-anchor="middle" font-weight="bold" font-style="normal" fill="#000" font-family="'Liberation Sans',sans-serif" transform="matrix(1 0 0 1.12 0 -1.54)" stroke="#000" stroke-width="0.32">Feature value in PPG</text>
<text x="128.5" y="165" font-size="8.6" text-anchor="middle" font-weight="bold" font-style="normal" fill="#000" font-family="'Liberation Sans',sans-serif" transform="matrix(1 0 0 1.12 0 -19.80)" stroke="#000" stroke-width="0.32">Feature value error in ABP</text>
<text x="355.3" y="160.7" font-size="8.6" text-anchor="middle" font-weight="bold" font-style="normal" fill="#000" font-family="'Liberation Sans',sans-serif" transform="matrix(1 0 0 1.12 0 -19.28)" stroke="#000" stroke-width="0.32">Feature value error in PPG</text>
<text x="121.2" y="311.4" font-size="5.75" text-anchor="middle" font-weight="bold" font-style="normal" fill="#111" font-family="'Liberation Sans',sans-serif" transform="matrix(1 0 0 1.12 0 -37.37)" stroke="#111" stroke-width="0.05">Features result for ABP</text>
<text x="353" y="310.8" font-size="5.75" text-anchor="middle" font-weight="bold" font-style="normal" fill="#111" font-family="'Liberation Sans',sans-serif" transform="matrix(1 0 0 1.12 0 -37.30)" stroke="#111" stroke-width="0.05">Features result for PPG</text>
<text x="129" y="139.8" font-size="8.0" text-anchor="middle" font-weight="normal" font-style="normal" fill="#333" font-family="'Liberation Sans',sans-serif" transform="matrix(1 0 0 1.12 0 -16.78)" stroke="#333" stroke-width="0.25">Sample [no.]</text>
<text x="360" y="139.4" font-size="7.6" text-anchor="middle" font-weight="normal" font-style="normal" fill="#333" font-family="'Liberation Sans',sans-serif" transform="matrix(1 0 0 1.12 0 -16.73)" stroke="#333" stroke-width="0.25">Sample [no.]</text>
<text x="128.4" y="286" font-size="7.8" text-anchor="middle" font-weight="normal" font-style="normal" fill="#333" font-family="'Liberation Sans',sans-serif" transform="matrix(1 0 0 1.12 0 -34.32)" stroke="#333" stroke-width="0.25">Sample [no.]</text>
<text x="359.7" y="288.4" font-size="7.6" text-anchor="middle" font-weight="normal" font-style="normal" fill="#333" font-family="'Liberation Sans',sans-serif" transform="matrix(1 0 0 1.12 0 -34.61)" stroke="#333" stroke-width="0.25">Sample [no.]</text>
<text x="121.3" y="533.8" font-size="5.7" text-anchor="middle" font-weight="normal" font-style="normal" fill="#444" font-family="'Liberation Sans',sans-serif" transform="matrix(1 0 0 1.12 0 -64.06)" stroke="#444" stroke-width="0.12">ECG LVET [ms]</text>
<text x="354.3" y="533.2" font-size="5.7" text-anchor="middle" font-weight="normal" font-style="normal" fill="#444" font-family="'Liberation Sans',sans-serif" transform="matrix(1 0 0 1.12 0 -63.98)" stroke="#444" stroke-width="0.12">ECG LVET [ms]</text>
<text x="10.1" y="66.5" font-size="7.5" text-anchor="middle" font-weight="normal" font-style="normal" fill="#333" font-family="'Liberation Sans',sans-serif" transform="rotate(-90 10.1 66.5)" stroke="#333" stroke-width="0.25">Value [s.u.]</text>
<text x="243" y="72" font-size="7.5" text-anchor="middle" font-weight="normal" font-style="normal" fill="#333" font-family="'Liberation Sans',sans-serif" transform="rotate(-90 243 72)" stroke="#333" stroke-width="0.25">Value [s.u.]</text>
<text x="13.4" y="224.4" font-size="7.3" text-anchor="middle" font-weight="normal" font-style="normal" fill="#333" font-family="'Liberation Sans',sans-serif" transform="rotate(-90 13.4 224.4)" stroke="#333" stroke-width="0.25">Time error [ms]</text>
<text x="241.2" y="221" font-size="7.3" text-anchor="middle" font-weight="normal" font-style="normal" fill="#333" font-family="'Liberation Sans',sans-serif" transform="rotate(-90 241.2 221)" stroke="#333" stroke-width="0.25">Time error [ms]</text>
<text x="24.2" y="416" font-size="5.4" text-anchor="middle" font-weight="normal" font-style="normal" fill="#333" font-family="'Liberation Sans',sans-serif" transform="rotate(-90 24.2 416)" stroke="#333" stroke-width="0.1">Feature duration [ms]</text>
<text x="254" y="416" font-size="5.4" text-anchor="middle" font-weight="normal" font-style="normal" fill="#333" font-family="'Liberation Sans',sans-serif" transform="rotate(-90 254 416)" stroke="#333" stroke-width="0.1">Feature duration [ms]</text>
<text x="112" y="151.6" font-size="8.6" text-anchor="middle" font-weight="normal" font-style="normal" fill="#111" font-family="'Liberation Sans',sans-serif" transform="matrix(1 0 0 1.12 0 -18.19)" stroke="#111" stroke-width="0.35">(a)</text>
<text x="345.6" y="150.2" font-size="9.0" text-anchor="middle" font-weight="bold" font-style="normal" fill="#111" font-family="'Liberation Serif',serif" transform="matrix(1 0 0 1.12 0 -18.02)" stroke="#111" stroke-width="0.25">(b)</text>
<text x="111.5" y="302.8" font-size="8.6" text-anchor="middle" font-weight="bold" font-style="normal" fill="#111" font-family="'Liberation Serif',serif" transform="matrix(1 0 0 1.12 0 -36.34)" stroke="#111" stroke-width="0.25">(c)</text>
<text x="345.2" y="302" font-size="8.6" text-anchor="middle" font-weight="bold" font-style="normal" fill="#111" font-family="'Liberation Serif',serif" transform="matrix(1 0 0 1.12 0 -36.24)" stroke="#111" stroke-width="0.25">(d)</text>
<text x="112.2" y="545.7" font-size="8.6" text-anchor="middle" font-weight="bold" font-style="normal" fill="#111" font-family="'Liberation Serif',serif" transform="matrix(1 0 0 1.12 0 -65.48)" stroke="#111" stroke-width="0.25">(e)</text>
<text x="345.5" y="545.7" font-size="8.6" text-anchor="middle" font-weight="bold" font-style="normal" fill="#111" font-family="'Liberation Serif',serif" transform="matrix(1 0 0 1.12 0 -65.48)" stroke="#111" stroke-width="0.25">(f)</text>
<rect x="177.3" y="78.3" width="41.3" height="41.4" fill="#fff" stroke="#444" stroke-width="0.7"/>
<circle cx="183" cy="81.3" r="1.0" fill="#ff0000"/>
<text x="187.4" y="83.3" font-size="5.6" text-anchor="start" font-weight="normal" font-style="normal" fill="#2a2a2a" font-family="'Liberation Sans',sans-serif" transform="matrix(1 0 0 1.12 0 -10.00)" stroke="#2a2a2a" stroke-width="0.1">ECG LVET</text>
<circle cx="183" cy="87.5" r="0.9" fill="#000000"/>
<text x="187.4" y="89.5" font-size="5.6" text-anchor="start" font-weight="normal" font-style="normal" fill="#2a2a2a" font-family="'Liberation Sans',sans-serif" transform="matrix(1 0 0 1.12 0 -10.74)" stroke="#2a2a2a" stroke-width="0.1">TDW-PK</text>
<circle cx="183" cy="93.6" r="0.9" fill="#0000ff"/>
<text x="187.4" y="95.6" font-size="5.6" text-anchor="start" font-weight="normal" font-style="normal" fill="#2a2a2a" font-family="'Liberation Sans',sans-serif" transform="matrix(1 0 0 1.12 0 -11.47)" stroke="#2a2a2a" stroke-width="0.1">TDW-LV</text>
<circle cx="183" cy="99.8" r="0.9" fill="#00ff00"/>
<text x="187.4" y="101.8" font-size="5.6" text-anchor="start" font-weight="normal" font-style="normal" fill="#2a2a2a" font-family="'Liberation Sans',sans-serif" transform="matrix(1 0 0 1.12 0 -12.22)" stroke="#2a2a2a" stroke-width="0.1">TDW-COMP</text>
<circle cx="183" cy="105.9" r="0.9" fill="#ff00ff"/>
<text x="187.4" y="107.9" font-size="5.6" text-anchor="start" font-weight="normal" font-style="normal" fill="#2a2a2a" font-family="'Liberation Sans',sans-serif" transform="matrix(1 0 0 1.12 0 -12.95)" stroke="#2a2a2a" stroke-width="0.1">NOTCH</text>
<line x1="177.6" y1="116.6" x2="186.8" y2="116.6" stroke="#f47c7c" stroke-width="0.8"/>
<text x="187.4" y="118.6" font-size="5.6" text-anchor="start" font-weight="normal" font-style="normal" fill="#2a2a2a" font-family="'Liberation Sans',sans-serif" transform="matrix(1 0 0 1.12 0 -14.23)" stroke="#2a2a2a" stroke-width="0.1">ABP-SYS</text>
<rect x="408.5" y="79.3" width="41.1" height="42.1" fill="#fff" stroke="#444" stroke-width="0.7"/>
<circle cx="414.2" cy="82.4" r="1.0" fill="#ff0000"/>
<text x="418.8" y="84.4" font-size="5.6" text-anchor="start" font-weight="normal" font-style="normal" fill="#2a2a2a" font-family="'Liberation Sans',sans-serif" transform="matrix(1 0 0 1.12 0 -10.13)" stroke="#2a2a2a" stroke-width="0.1">ECG LVET</text>
<circle cx="414.2" cy="88.8" r="0.9" fill="#000000"/>
<text x="418.8" y="90.8" font-size="5.6" text-anchor="start" font-weight="normal" font-style="normal" fill="#2a2a2a" font-family="'Liberation Sans',sans-serif" transform="matrix(1 0 0 1.12 0 -10.90)" stroke="#2a2a2a" stroke-width="0.1">TDW-PK</text>
<circle cx="414.2" cy="94.9" r="0.9" fill="#0000ff"/>
<text x="418.8" y="96.9" font-size="5.6" text-anchor="start" font-weight="normal" font-style="normal" fill="#2a2a2a" font-family="'Liberation Sans',sans-serif" transform="matrix(1 0 0 1.12 0 -11.63)" stroke="#2a2a2a" stroke-width="0.1">TDW-FV</text>
<circle cx="414.2" cy="100.9" r="0.9" fill="#00ff00"/>
<text x="418.8" y="102.9" font-size="5.6" text-anchor="start" font-weight="normal" font-style="normal" fill="#2a2a2a" font-family="'Liberation Sans',sans-serif" transform="matrix(1 0 0 1.12 0 -12.35)" stroke="#2a2a2a" stroke-width="0.1">TDW-COMP</text>
<circle cx="414.2" cy="111.2" r="0.9" fill="#ff00ff"/>
<text x="418.8" y="113.2" font-size="5.6" text-anchor="start" font-weight="normal" font-style="normal" fill="#2a2a2a" font-family="'Liberation Sans',sans-serif" transform="matrix(1 0 0 1.12 0 -13.59)" stroke="#2a2a2a" stroke-width="0.1">NOTCH</text>
<line x1="409.3" y1="117.6" x2="419" y2="117.6" stroke="#f47c7c" stroke-width="0.8"/>
<text x="418.8" y="119.6" font-size="5.6" text-anchor="start" font-weight="normal" font-style="normal" fill="#2a2a2a" font-family="'Liberation Sans',sans-serif" transform="matrix(1 0 0 1.12 0 -14.35)" stroke="#2a2a2a" stroke-width="0.1">ABP-SYS</text>
<rect x="166.1" y="238.3" width="45.6" height="28.3" fill="#fff" stroke="#444" stroke-width="0.7"/>
<circle cx="176.8" cy="242.9" r="0.9" fill="#000000"/>
<text x="181" y="244.9" font-size="5.6" text-anchor="start" font-weight="normal" font-style="normal" fill="#2a2a2a" font-family="'Liberation Sans',sans-serif" transform="matrix(1 0 0 1.12 0 -29.39)" stroke="#2a2a2a" stroke-width="0.1">TDW-PK</text>
<circle cx="176.8" cy="250.2" r="0.9" fill="#0000ff"/>
<text x="181" y="252.2" font-size="5.6" text-anchor="start" font-weight="normal" font-style="normal" fill="#2a2a2a" font-family="'Liberation Sans',sans-serif" transform="matrix(1 0 0 1.12 0 -30.27)" stroke="#2a2a2a" stroke-width="0.1">TDW-LV</text>
<circle cx="176.8" cy="257" r="0.9" fill="#00ff00"/>
<text x="181" y="259" font-size="5.6" text-anchor="start" font-weight="normal" font-style="normal" fill="#2a2a2a" font-family="'Liberation Sans',sans-serif" transform="matrix(1 0 0 1.12 0 -31.08)" stroke="#2a2a2a" stroke-width="0.1">TDW-COMP</text>
<circle cx="176.8" cy="263.8" r="0.9" fill="#ff00ff"/>
<text x="181" y="265.8" font-size="5.6" text-anchor="start" font-weight="normal" font-style="normal" fill="#2a2a2a" font-family="'Liberation Sans',sans-serif" transform="matrix(1 0 0 1.12 0 -31.90)" stroke="#2a2a2a" stroke-width="0.1">NOTCH</text>
<rect x="399.9" y="237.5" width="47.4" height="29.1" fill="#fff" stroke="#444" stroke-width="0.7"/>
<circle cx="410.9" cy="242.4" r="0.9" fill="#000000"/>
<text x="415.2" y="244.4" font-size="5.6" text-anchor="start" font-weight="normal" font-style="normal" fill="#2a2a2a" font-family="'Liberation Sans',sans-serif" transform="matrix(1 0 0 1.12 0 -29.33)" stroke="#2a2a2a" stroke-width="0.1">TDW-PK</text>
<circle cx="410.9" cy="250.2" r="0.9" fill="#0000ff"/>
<text x="415.2" y="252.2" font-size="5.6" text-anchor="start" font-weight="normal" font-style="normal" fill="#2a2a2a" font-family="'Liberation Sans',sans-serif" transform="matrix(1 0 0 1.12 0 -30.27)" stroke="#2a2a2a" stroke-width="0.1">TDW-FV</text>
<circle cx="410.9" cy="256.6" r="0.9" fill="#00ff00"/>
<text x="415.2" y="258.6" font-size="5.6" text-anchor="start" font-weight="normal" font-style="normal" fill="#2a2a2a" font-family="'Liberation Sans',sans-serif" transform="matrix(1 0 0 1.12 0 -31.03)" stroke="#2a2a2a" stroke-width="0.1">TDW-COMP</text>
<circle cx="410.9" cy="263.8" r="0.9" fill="#ff00ff"/>
<text x="415.2" y="265.8" font-size="5.6" text-anchor="start" font-weight="normal" font-style="normal" fill="#2a2a2a" font-family="'Liberation Sans',sans-serif" transform="matrix(1 0 0 1.12 0 -31.90)" stroke="#2a2a2a" stroke-width="0.1">NOTCH</text>
<rect x="139.3" y="489.7" width="63.1" height="27.1" fill="#fff" stroke="#7a7a7a" stroke-width="0.7"/>
<circle cx="148.7" cy="493.9" r="0.5" fill="#000000"/>
<text x="157.5" y="495.8" font-size="5.3" text-anchor="start" font-weight="normal" font-style="normal" fill="#2a2a2a" font-family="'Liberation Sans',sans-serif" transform="matrix(1 0 0 1.12 0 -59.50)" stroke="#2a2a2a" stroke-width="0.1">TDW-PK</text>
<circle cx="148.7" cy="500.6" r="0.5" fill="#6060ff"/>
<text x="157.5" y="502.5" font-size="5.3" text-anchor="start" font-weight="normal" font-style="normal" fill="#2a2a2a" font-family="'Liberation Sans',sans-serif" transform="matrix(1 0 0 1.12 0 -60.30)" stroke="#2a2a2a" stroke-width="0.1">TDW-LV</text>
<circle cx="148.7" cy="507" r="0.5" fill="#60ff60"/>
<text x="157.5" y="508.9" font-size="5.3" text-anchor="start" font-weight="normal" font-style="normal" fill="#2a2a2a" font-family="'Liberation Sans',sans-serif" transform="matrix(1 0 0 1.12 0 -61.07)" stroke="#2a2a2a" stroke-width="0.1">TDW-COMP</text>
<line x1="141" y1="513.7" x2="155.7" y2="513.7" stroke="#7ab8e0" stroke-width="0.8"/>
<text x="157.5" y="515.6" font-size="5.3" text-anchor="start" font-weight="normal" font-style="normal" fill="#2a2a2a" font-family="'Liberation Sans',sans-serif" transform="matrix(1 0 0 1.12 0 -61.87)" stroke="#2a2a2a" stroke-width="0.1">LVET Identity Line</text>
<rect x="373.1" y="488.3" width="64.1" height="27.5" fill="#fff" stroke="#7a7a7a" stroke-width="0.7"/>
<circle cx="383.1" cy="492.7" r="0.5" fill="#000000"/>
<text x="392.4" y="494.6" font-size="5.3" text-anchor="start" font-weight="normal" font-style="normal" fill="#2a2a2a" font-family="'Liberation Sans',sans-serif" transform="matrix(1 0 0 1.12 0 -59.35)" stroke="#2a2a2a" stroke-width="0.1">TDW-PK</text>
<circle cx="383.1" cy="499.2" r="0.5" fill="#6060ff"/>
<text x="392.4" y="501.1" font-size="5.3" text-anchor="start" font-weight="normal" font-style="normal" fill="#2a2a2a" font-family="'Liberation Sans',sans-serif" transform="matrix(1 0 0 1.12 0 -60.13)" stroke="#2a2a2a" stroke-width="0.1">TDW-FV</text>
<circle cx="383.1" cy="505.8" r="0.5" fill="#60ff60"/>
<text x="392.4" y="507.7" font-size="5.3" text-anchor="start" font-weight="normal" font-style="normal" fill="#2a2a2a" font-family="'Liberation Sans',sans-serif" transform="matrix(1 0 0 1.12 0 -60.92)" stroke="#2a2a2a" stroke-width="0.1">TDW-COMP</text>
<line x1="375" y1="512.4" x2="390" y2="512.4" stroke="#7ab8e0" stroke-width="0.8"/>
<text x="392.4" y="514.3" font-size="5.3" text-anchor="start" font-weight="normal" font-style="normal" fill="#2a2a2a" font-family="'Liberation Sans',sans-serif" transform="matrix(1 0 0 1.12 0 -61.72)" stroke="#2a2a2a" stroke-width="0.1">LVET Identity Line</text>
<polyline points="27.5,102.9 28.6,103.7 29.7,105.6 30.8,104.2 32,102 33.1,100 34.2,97.6 35.3,101.6 36.4,101.7 37.5,101.1 38.6,100.8 39.8,101.1 40.9,100.6 42,102.2 43.1,101.1 44.2,102.5 45.3,103.1 46.5,102.9 47.6,103.5 48.7,103.4 49.8,103.1 50.9,103 52,103.5 53.1,105.9 54.3,103.8 55.4,105.2 56.5,104.8 57.6,104.5 58.7,103.4 59.8,101.6 60.9,101.3 62.1,100.5 63.2,102 64.3,101.7 65.4,104.5 66.5,104.4 67.6,105.1 68.7,105.6 69.9,104.4 71,104.6 72.1,105.5 73.2,105.3 74.3,106.3 75.4,106 76.5,106.4 77.7,105.6 78.8,105.5 79.9,106.8 81,107.6 82.1,106 83.2,105.3 84.4,107.1 85.5,105.4 86.6,106.3 87.7,104 88.8,101 89.9,98.7 91,99.8 92.2,98.9 93.3,98.3 94.4,99.8 95.5,100.3 96.6,100.3 97.7,100 98.8,100.5 100,100.6 101.1,102.3 102.2,103.3 103.3,104.9 104.4,105.7 105.5,105.6 106.6,106.4 107.8,107 108.9,107.2 110,106.6 111.1,108.1 112.2,107.1 113.3,107 114.5,107.9 115.6,108.4 116.7,108.3 117.8,107.5 118.9,107.5 120,107.3 121.1,107.1 122.3,106.9 123.4,106.7 124.5,106.5 125.6,107.6 126.7,107.5 127.8,108.2 128.9,108.4 130.1,107.7 131.2,108.4 132.3,106.9 133.4,108.2 134.5,106.8 135.6,108.3 136.7,107.9 137.9,107.2 139,107.7 140.1,107.1 141.2,108.5 142.3,107.6 143.4,108.3 144.5,107.8 145.7,109 146.8,108.7 147.9,108.4 149,107.9 150.1,108.9 151.2,108.8 152.4,109.4 153.5,108.7 154.6,107.4 155.7,108.8 156.8,109.6 157.9,109.3 159,109.2 160.2,108.8 161.3,108.4 162.4,108 163.5,109 164.6,108.3 165.7,108.8 166.8,108.5 168,108.3 169.1,108.5 170.2,110.1 171.3,108.7 172.4,109.4 173.5,110.7 174.6,109.1 175.8,109.6 176.9,110.3 178,110.8 179.1,109.4 180.2,109.5 181.3,109.4 182.5,109.8 183.6,108.7 184.7,110.4 185.8,110 186.9,110.1 188,109.2 189.1,109.5 190.3,110.7 191.4,109.7 192.5,110.9 193.6,110 194.7,111.6 195.8,111.8 196.9,110.1" fill="none" stroke="#f47c7c" stroke-width="0.95" stroke-linejoin="round"/>
<polyline points="260,101.2 261.1,101.2 262.2,101.5 263.3,100.8 264.4,100.6 265.5,99.8 266.6,98.7 267.7,98.7 268.8,100.4 270,100.6 271.1,100.5 272.2,100.7 273.3,99.9 274.4,99.9 275.5,100.3 276.6,100.5 277.7,100.6 278.8,100.2 279.9,99.4 281,99.8 282.1,100 283.2,99.7 284.3,100.3 285.4,100.3 286.5,99.9 287.7,100.4 288.8,99.5 289.9,100 291,100.2 292.1,99.2 293.2,99.2 294.3,98.8 295.4,98.2 296.5,98.6 297.6,99.8 298.7,99.4 299.8,100.5 300.9,99.6 302,100.2 303.1,100.4 304.2,100 305.3,100.5 306.5,101.4 307.6,100.8 308.7,100.7 309.8,100.8 310.9,100.7 312,101.5 313.1,101.9 314.2,102.1 315.3,101.8 316.4,102 317.5,101.8 318.6,101 319.7,99.3 320.8,97.6 321.9,97.5 323,97.8 324.1,98 325.3,98.2 326.4,98.9 327.5,99 328.6,99.3 329.7,99 330.8,98.7 331.9,99.2 333,98.5 334.1,99.1 335.2,98.8 336.3,99.9 337.4,99.2 338.5,100.1 339.6,100.6 340.7,100.7 341.8,101.1 343,101.7 344.1,102.1 345.2,101.6 346.3,101.7 347.4,102 348.5,102.4 349.6,102.5 350.7,103.3 351.8,102.9 352.9,103.1 354,102.9 355.1,103.8 356.2,103.5 357.3,103.2 358.4,103.8 359.5,103.7 360.6,102.7 361.8,103.4 362.9,103.6 364,103.4 365.1,103.8 366.2,103.4 367.3,103.6 368.4,103.8 369.5,103.5 370.6,103.3 371.7,103.5 372.8,104 373.9,103.5 375,103.8 376.1,103.8 377.2,103.5 378.3,103.5 379.4,103.3 380.6,103.8 381.7,102.8 382.8,103.4 383.9,103.5 385,103.1 386.1,103.3 387.2,103.2 388.3,103.4 389.4,104 390.5,103.5 391.6,103.4 392.7,103.6 393.8,103.4 394.9,103.7 396,104.2 397.1,104 398.3,104.3 399.4,104.5 400.5,103.3 401.6,103.7 402.7,103.6 403.8,104.5 404.9,103.8 406,104.3 407.1,103.9 408.2,103.9 409.3,103.7 410.4,104.5 411.5,103.7 412.6,103.9 413.7,104.2 414.8,104.7 415.9,104.8 417.1,105 418.2,105 419.3,104.2 420.4,105.1 421.5,104.8 422.6,104.5 423.7,104.8 424.8,104.5 425.9,104.3 427,104.9 428.1,104.5" fill="none" stroke="#f47c7c" stroke-width="0.95" stroke-linejoin="round"/>
<text x="38.4" y="346.2" font-size="7.9" font-weight="bold" fill="#1f77c0" font-family="'DejaVu Serif',serif"><tspan font-style="italic">r</tspan> = 0.38</text>
<text x="37.5" y="413" font-size="7.9" font-weight="bold" fill="#22aa55" font-family="'DejaVu Serif',serif"><tspan font-style="italic">r</tspan> = 0.42</text>
<text x="40.7" y="467.6" font-size="7.9" font-weight="bold" fill="#111" font-family="'DejaVu Serif',serif"><tspan font-style="italic">r</tspan> = 0.21</text>
<text x="271" y="369" font-size="7.9" font-weight="bold" fill="#111" font-family="'DejaVu Serif',serif"><tspan font-style="italic">r</tspan> = 0.10</text>
<text x="269.8" y="415" font-size="7.9" font-weight="bold" fill="#22aa55" font-family="'DejaVu Serif',serif"><tspan font-style="italic">r</tspan> = 0.24</text>
<text x="269.8" y="447.5" font-size="7.9" font-weight="bold" fill="#1f77c0" font-family="'DejaVu Serif',serif"><tspan font-style="italic">r</tspan> = 0.12</text>
</svg>
</body></html>
